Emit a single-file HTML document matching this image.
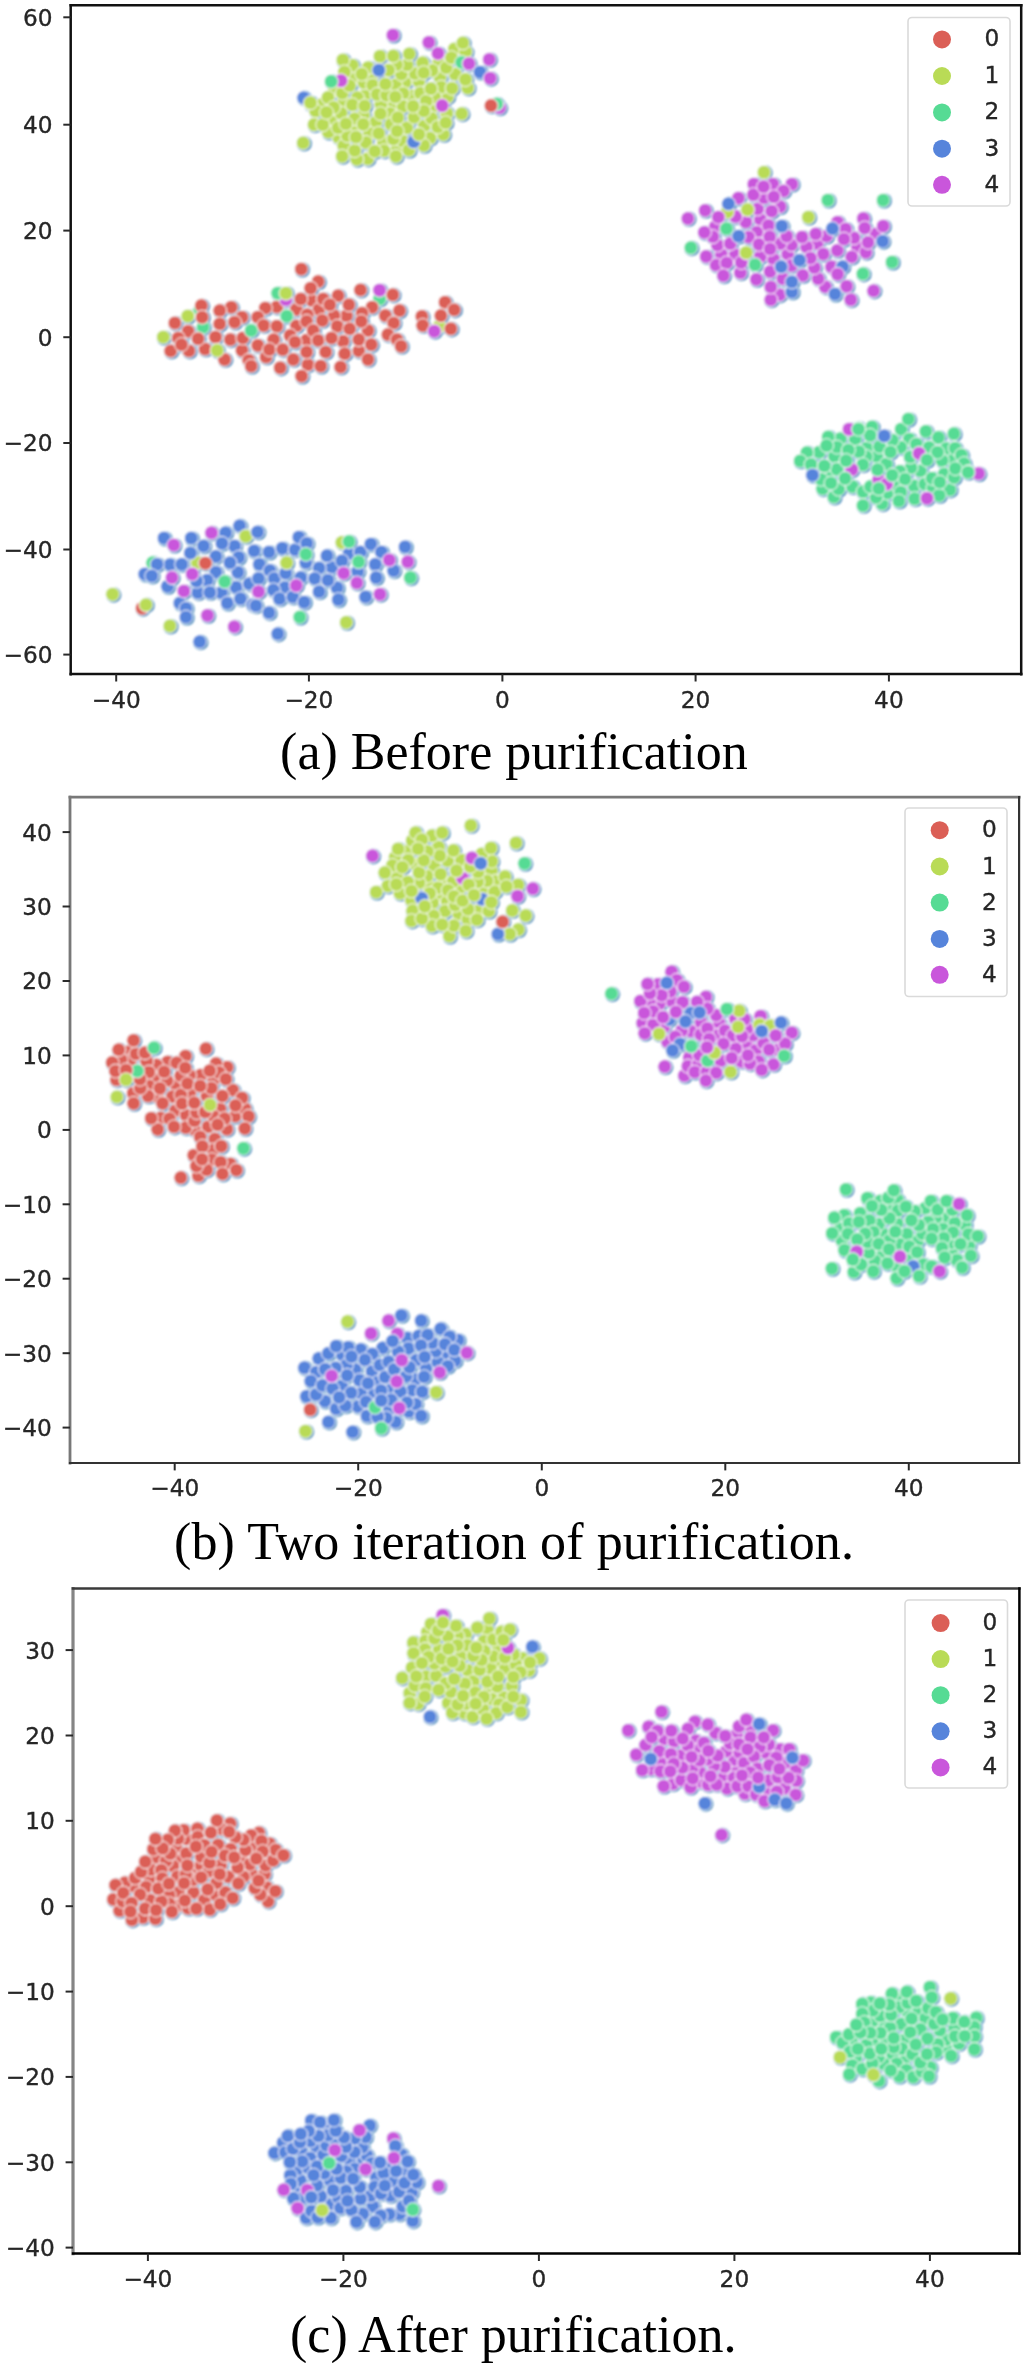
<!DOCTYPE html>
<html lang="en"><head><meta charset="utf-8"><title>t-SNE purification</title>
<style>
html,body{margin:0;padding:0;background:#fff}
svg{display:block}
.t{font-family:"DejaVu Sans","Liberation Sans",sans-serif;font-size:23px;fill:#262626;stroke:#262626;stroke-width:.35px}
.c{font-family:"Liberation Serif","Times New Roman",serif;font-size:52px;fill:#000}
.p circle{stroke:#fff;stroke-width:1;stroke-opacity:.95}
.s circle{fill:#1f77b4;stroke:#fff;stroke-width:0.5}
</style></head><body>
<svg width="1025" height="2363" viewBox="0 0 1025 2363">
<rect width="1025" height="2363" fill="#fff"/>
<defs><filter id="bl" x="-2%" y="-2%" width="104%" height="104%"><feGaussianBlur stdDeviation="0.8"/></filter><filter id="bt" x="-2%" y="-2%" width="104%" height="104%"><feGaussianBlur stdDeviation="0.6"/></filter></defs>
<g filter="url(#bl)">
<g class="s"><circle cx="407.9" cy="128.5" r="7.9"/><circle cx="448.5" cy="97.5" r="7.9"/><circle cx="354.4" cy="77.7" r="7.9"/><circle cx="406.2" cy="83.0" r="7.9"/><circle cx="322.8" cy="105.3" r="7.9"/><circle cx="368.8" cy="159.5" r="7.9"/><circle cx="419.9" cy="81.9" r="7.9"/><circle cx="376.8" cy="123.0" r="7.9"/><circle cx="439.6" cy="64.2" r="7.9"/><circle cx="441.0" cy="77.9" r="7.9"/><circle cx="394.1" cy="106.2" r="7.9"/><circle cx="332.0" cy="122.1" r="7.9"/><circle cx="353.4" cy="66.1" r="7.9"/><circle cx="444.4" cy="135.1" r="7.9"/><circle cx="425.2" cy="126.7" r="7.9"/><circle cx="396.4" cy="85.6" r="7.9"/><circle cx="304.2" cy="143.6" r="7.9"/><circle cx="339.6" cy="138.0" r="7.9"/><circle cx="391.0" cy="114.3" r="7.9"/><circle cx="434.2" cy="107.2" r="7.9"/><circle cx="384.3" cy="142.6" r="7.9"/><circle cx="442.3" cy="87.8" r="7.9"/><circle cx="344.8" cy="146.4" r="7.9"/><circle cx="311.5" cy="104.6" r="7.9"/><circle cx="335.0" cy="91.6" r="7.9"/><circle cx="415.9" cy="74.2" r="7.9"/><circle cx="398.2" cy="148.5" r="7.9"/><circle cx="344.7" cy="103.0" r="7.9"/><circle cx="367.2" cy="94.6" r="7.9"/><circle cx="412.9" cy="96.6" r="7.9"/><circle cx="343.3" cy="93.8" r="7.9"/><circle cx="329.0" cy="98.2" r="7.9"/><circle cx="404.2" cy="94.2" r="7.9"/><circle cx="421.4" cy="93.8" r="7.9"/><circle cx="432.6" cy="119.0" r="7.9"/><circle cx="370.3" cy="133.9" r="7.9"/><circle cx="381.9" cy="105.0" r="7.9"/><circle cx="357.8" cy="160.0" r="7.9"/><circle cx="365.0" cy="83.2" r="7.9"/><circle cx="431.1" cy="138.7" r="7.9"/><circle cx="329.4" cy="132.8" r="7.9"/><circle cx="381.5" cy="114.4" r="7.9"/><circle cx="402.4" cy="74.9" r="7.9"/><circle cx="404.1" cy="107.1" r="7.9"/><circle cx="455.4" cy="49.7" r="7.9"/><circle cx="408.1" cy="65.6" r="7.9"/><circle cx="438.8" cy="127.7" r="7.9"/><circle cx="435.8" cy="98.2" r="7.9"/><circle cx="343.9" cy="60.7" r="7.9"/><circle cx="447.8" cy="114.2" r="7.9"/><circle cx="397.4" cy="65.4" r="7.9"/><circle cx="468.8" cy="88.7" r="7.9"/><circle cx="355.3" cy="129.2" r="7.9"/><circle cx="456.2" cy="74.8" r="7.9"/><circle cx="372.4" cy="77.3" r="7.9"/><circle cx="364.4" cy="115.8" r="7.9"/><circle cx="381.0" cy="57.0" r="7.9"/><circle cx="453.1" cy="89.0" r="7.9"/><circle cx="358.4" cy="98.3" r="7.9"/><circle cx="373.7" cy="85.9" r="7.9"/><circle cx="424.9" cy="146.1" r="7.9"/><circle cx="410.3" cy="54.6" r="7.9"/><circle cx="353.4" cy="105.5" r="7.9"/><circle cx="447.2" cy="68.4" r="7.9"/><circle cx="348.4" cy="136.4" r="7.9"/><circle cx="466.7" cy="52.5" r="7.9"/><circle cx="379.7" cy="134.1" r="7.9"/><circle cx="378.1" cy="95.1" r="7.9"/><circle cx="366.9" cy="143.1" r="7.9"/><circle cx="316.7" cy="111.7" r="7.9"/><circle cx="394.3" cy="56.6" r="7.9"/><circle cx="369.2" cy="68.4" r="7.9"/><circle cx="392.0" cy="125.0" r="7.9"/><circle cx="355.6" cy="119.5" r="7.9"/><circle cx="364.3" cy="125.0" r="7.9"/><circle cx="398.8" cy="118.3" r="7.9"/><circle cx="446.7" cy="123.4" r="7.9"/><circle cx="466.5" cy="80.2" r="7.9"/><circle cx="403.6" cy="141.8" r="7.9"/><circle cx="433.1" cy="71.1" r="7.9"/><circle cx="342.1" cy="113.9" r="7.9"/><circle cx="355.7" cy="151.3" r="7.9"/><circle cx="343.2" cy="157.0" r="7.9"/><circle cx="394.4" cy="139.7" r="7.9"/><circle cx="315.1" cy="125.3" r="7.9"/><circle cx="339.1" cy="128.5" r="7.9"/><circle cx="415.1" cy="117.9" r="7.9"/><circle cx="463.9" cy="43.6" r="7.9"/><circle cx="427.2" cy="101.8" r="7.9"/><circle cx="323.8" cy="125.4" r="7.9"/><circle cx="362.8" cy="74.8" r="7.9"/><circle cx="345.5" cy="72.6" r="7.9"/><circle cx="334.6" cy="108.2" r="7.9"/><circle cx="385.1" cy="151.5" r="7.9"/><circle cx="409.9" cy="150.8" r="7.9"/><circle cx="431.9" cy="89.4" r="7.9"/><circle cx="398.1" cy="131.8" r="7.9"/><circle cx="423.6" cy="63.5" r="7.9"/><circle cx="462.7" cy="114.4" r="7.9"/><circle cx="350.5" cy="86.3" r="7.9"/><circle cx="357.1" cy="137.8" r="7.9"/><circle cx="452.5" cy="58.4" r="7.9"/><circle cx="387.6" cy="96.0" r="7.9"/><circle cx="424.7" cy="73.4" r="7.9"/><circle cx="424.9" cy="111.7" r="7.9"/><circle cx="365.7" cy="106.6" r="7.9"/><circle cx="389.6" cy="71.0" r="7.9"/><circle cx="414.1" cy="106.9" r="7.9"/><circle cx="346.9" cy="124.6" r="7.9"/><circle cx="396.3" cy="97.6" r="7.9"/><circle cx="386.4" cy="84.8" r="7.9"/><circle cx="327.5" cy="113.1" r="7.9"/><circle cx="396.9" cy="157.0" r="7.9"/><circle cx="375.8" cy="152.0" r="7.9"/><circle cx="342.0" cy="81.4" r="7.9"/><circle cx="332.2" cy="82.2" r="7.9"/><circle cx="393.9" cy="35.8" r="7.9"/><circle cx="429.8" cy="43.1" r="7.9"/><circle cx="439.0" cy="54.1" r="7.9"/><circle cx="462.7" cy="63.1" r="7.9"/><circle cx="470.0" cy="64.4" r="7.9"/><circle cx="490.3" cy="60.2" r="7.9"/><circle cx="481.0" cy="72.9" r="7.9"/><circle cx="491.2" cy="79.0" r="7.9"/><circle cx="443.2" cy="106.3" r="7.9"/><circle cx="379.8" cy="70.9" r="7.9"/><circle cx="304.7" cy="98.5" r="7.9"/><circle cx="311.5" cy="103.4" r="7.9"/><circle cx="414.7" cy="142.4" r="7.9"/><circle cx="420.0" cy="135.1" r="7.9"/><circle cx="500.5" cy="108.3" r="7.9"/><circle cx="497.6" cy="104.6" r="7.9"/><circle cx="492.0" cy="106.3" r="7.9"/><circle cx="307.7" cy="340.7" r="7.9"/><circle cx="347.5" cy="316.5" r="7.9"/><circle cx="359.9" cy="351.6" r="7.9"/><circle cx="308.9" cy="365.4" r="7.9"/><circle cx="313.1" cy="301.3" r="7.9"/><circle cx="297.4" cy="326.6" r="7.9"/><circle cx="319.9" cy="310.2" r="7.9"/><circle cx="297.4" cy="310.1" r="7.9"/><circle cx="277.9" cy="307.6" r="7.9"/><circle cx="206.1" cy="349.7" r="7.9"/><circle cx="287.0" cy="300.5" r="7.9"/><circle cx="278.7" cy="293.9" r="7.9"/><circle cx="200.8" cy="310.5" r="7.9"/><circle cx="266.3" cy="308.8" r="7.9"/><circle cx="258.8" cy="317.9" r="7.9"/><circle cx="264.6" cy="326.2" r="7.9"/><circle cx="277.9" cy="327.0" r="7.9"/><circle cx="243.0" cy="317.9" r="7.9"/><circle cx="232.3" cy="308.0" r="7.9"/><circle cx="235.6" cy="322.9" r="7.9"/><circle cx="220.7" cy="311.3" r="7.9"/><circle cx="220.7" cy="324.6" r="7.9"/><circle cx="204.1" cy="327.9" r="7.9"/><circle cx="202.4" cy="306.3" r="7.9"/><circle cx="203.2" cy="317.9" r="7.9"/><circle cx="175.9" cy="323.7" r="7.9"/><circle cx="189.1" cy="332.0" r="7.9"/><circle cx="179.2" cy="338.7" r="7.9"/><circle cx="199.1" cy="339.5" r="7.9"/><circle cx="216.5" cy="337.8" r="7.9"/><circle cx="231.4" cy="340.3" r="7.9"/><circle cx="171.7" cy="351.6" r="7.9"/><circle cx="190.0" cy="351.6" r="7.9"/><circle cx="182.5" cy="345.3" r="7.9"/><circle cx="225.6" cy="360.2" r="7.9"/><circle cx="243.0" cy="351.1" r="7.9"/><circle cx="249.7" cy="361.0" r="7.9"/><circle cx="252.2" cy="366.8" r="7.9"/><circle cx="258.8" cy="346.1" r="7.9"/><circle cx="267.1" cy="357.7" r="7.9"/><circle cx="274.6" cy="340.3" r="7.9"/><circle cx="270.4" cy="350.3" r="7.9"/><circle cx="281.2" cy="368.5" r="7.9"/><circle cx="291.1" cy="336.2" r="7.9"/><circle cx="283.7" cy="350.3" r="7.9"/><circle cx="243.9" cy="338.7" r="7.9"/><circle cx="188.8" cy="316.8" r="7.9"/><circle cx="164.3" cy="337.8" r="7.9"/><circle cx="218.2" cy="351.1" r="7.9"/><circle cx="252.2" cy="331.2" r="7.9"/><circle cx="287.8" cy="316.8" r="7.9"/><circle cx="287.0" cy="293.9" r="7.9"/><circle cx="380.6" cy="299.7" r="7.9"/><circle cx="440.3" cy="327.0" r="7.9"/><circle cx="302.3" cy="269.8" r="7.9"/><circle cx="319.2" cy="282.3" r="7.9"/><circle cx="311.7" cy="288.9" r="7.9"/><circle cx="301.8" cy="299.7" r="7.9"/><circle cx="324.2" cy="299.7" r="7.9"/><circle cx="339.1" cy="296.4" r="7.9"/><circle cx="349.9" cy="305.5" r="7.9"/><circle cx="361.5" cy="290.6" r="7.9"/><circle cx="393.8" cy="295.5" r="7.9"/><circle cx="373.1" cy="308.0" r="7.9"/><circle cx="363.1" cy="313.8" r="7.9"/><circle cx="386.4" cy="316.3" r="7.9"/><circle cx="400.5" cy="311.3" r="7.9"/><circle cx="394.7" cy="323.7" r="7.9"/><circle cx="335.0" cy="316.3" r="7.9"/><circle cx="308.4" cy="315.4" r="7.9"/><circle cx="307.6" cy="322.1" r="7.9"/><circle cx="323.3" cy="321.2" r="7.9"/><circle cx="338.3" cy="327.0" r="7.9"/><circle cx="350.7" cy="329.5" r="7.9"/><circle cx="314.2" cy="331.2" r="7.9"/><circle cx="369.0" cy="331.2" r="7.9"/><circle cx="388.9" cy="335.3" r="7.9"/><circle cx="398.0" cy="340.3" r="7.9"/><circle cx="402.1" cy="346.9" r="7.9"/><circle cx="359.8" cy="340.3" r="7.9"/><circle cx="372.3" cy="345.3" r="7.9"/><circle cx="344.1" cy="342.0" r="7.9"/><circle cx="319.2" cy="341.1" r="7.9"/><circle cx="296.0" cy="342.8" r="7.9"/><circle cx="307.6" cy="352.7" r="7.9"/><circle cx="326.7" cy="352.7" r="7.9"/><circle cx="345.7" cy="354.4" r="7.9"/><circle cx="369.0" cy="360.2" r="7.9"/><circle cx="321.7" cy="366.8" r="7.9"/><circle cx="341.6" cy="367.7" r="7.9"/><circle cx="294.3" cy="360.2" r="7.9"/><circle cx="302.6" cy="376.8" r="7.9"/><circle cx="362.3" cy="322.1" r="7.9"/><circle cx="332.5" cy="338.7" r="7.9"/><circle cx="330.8" cy="305.5" r="7.9"/><circle cx="422.9" cy="317.1" r="7.9"/><circle cx="423.7" cy="326.2" r="7.9"/><circle cx="446.1" cy="303.0" r="7.9"/><circle cx="455.2" cy="310.5" r="7.9"/><circle cx="441.9" cy="316.3" r="7.9"/><circle cx="451.9" cy="329.5" r="7.9"/><circle cx="380.6" cy="290.9" r="7.9"/><circle cx="435.3" cy="332.0" r="7.9"/><circle cx="826.3" cy="287.5" r="7.9"/><circle cx="774.6" cy="260.0" r="7.9"/><circle cx="858.5" cy="247.7" r="7.9"/><circle cx="739.4" cy="198.8" r="7.9"/><circle cx="736.3" cy="255.5" r="7.9"/><circle cx="876.8" cy="234.7" r="7.9"/><circle cx="781.1" cy="207.3" r="7.9"/><circle cx="746.8" cy="222.8" r="7.9"/><circle cx="818.2" cy="244.2" r="7.9"/><circle cx="716.3" cy="227.4" r="7.9"/><circle cx="780.5" cy="295.5" r="7.9"/><circle cx="773.9" cy="184.9" r="7.9"/><circle cx="803.8" cy="276.1" r="7.9"/><circle cx="792.9" cy="184.9" r="7.9"/><circle cx="819.2" cy="279.4" r="7.9"/><circle cx="761.5" cy="220.3" r="7.9"/><circle cx="788.8" cy="254.8" r="7.9"/><circle cx="722.3" cy="255.0" r="7.9"/><circle cx="771.8" cy="300.4" r="7.9"/><circle cx="792.6" cy="245.5" r="7.9"/><circle cx="866.9" cy="253.0" r="7.9"/><circle cx="832.5" cy="267.5" r="7.9"/><circle cx="717.0" cy="265.7" r="7.9"/><circle cx="855.0" cy="238.6" r="7.9"/><circle cx="718.5" cy="245.8" r="7.9"/><circle cx="781.1" cy="244.4" r="7.9"/><circle cx="757.9" cy="232.9" r="7.9"/><circle cx="807.6" cy="247.6" r="7.9"/><circle cx="758.6" cy="209.6" r="7.9"/><circle cx="792.5" cy="266.2" r="7.9"/><circle cx="815.4" cy="268.3" r="7.9"/><circle cx="757.4" cy="280.1" r="7.9"/><circle cx="783.9" cy="279.4" r="7.9"/><circle cx="874.6" cy="291.5" r="7.9"/><circle cx="771.8" cy="287.7" r="7.9"/><circle cx="851.8" cy="300.4" r="7.9"/><circle cx="754.9" cy="184.9" r="7.9"/><circle cx="838.4" cy="251.1" r="7.9"/><circle cx="772.7" cy="211.9" r="7.9"/><circle cx="771.1" cy="272.4" r="7.9"/><circle cx="749.6" cy="237.8" r="7.9"/><circle cx="838.6" cy="223.0" r="7.9"/><circle cx="761.3" cy="257.3" r="7.9"/><circle cx="846.6" cy="229.7" r="7.9"/><circle cx="765.2" cy="198.5" r="7.9"/><circle cx="731.3" cy="244.3" r="7.9"/><circle cx="827.5" cy="236.8" r="7.9"/><circle cx="760.0" cy="245.1" r="7.9"/><circle cx="713.9" cy="237.4" r="7.9"/><circle cx="705.4" cy="233.1" r="7.9"/><circle cx="727.7" cy="263.6" r="7.9"/><circle cx="741.4" cy="273.4" r="7.9"/><circle cx="742.3" cy="263.2" r="7.9"/><circle cx="816.7" cy="234.7" r="7.9"/><circle cx="736.6" cy="217.3" r="7.9"/><circle cx="852.7" cy="257.6" r="7.9"/><circle cx="869.0" cy="243.1" r="7.9"/><circle cx="803.0" cy="237.8" r="7.9"/><circle cx="847.7" cy="287.0" r="7.9"/><circle cx="754.4" cy="195.4" r="7.9"/><circle cx="706.2" cy="211.1" r="7.9"/><circle cx="707.2" cy="257.2" r="7.9"/><circle cx="824.3" cy="254.8" r="7.9"/><circle cx="784.5" cy="191.7" r="7.9"/><circle cx="764.6" cy="187.4" r="7.9"/><circle cx="811.5" cy="258.8" r="7.9"/><circle cx="884.2" cy="226.8" r="7.9"/><circle cx="864.4" cy="219.2" r="7.9"/><circle cx="688.9" cy="219.2" r="7.9"/><circle cx="769.5" cy="226.2" r="7.9"/><circle cx="770.7" cy="237.4" r="7.9"/><circle cx="845.0" cy="239.8" r="7.9"/><circle cx="771.1" cy="249.7" r="7.9"/><circle cx="865.7" cy="228.7" r="7.9"/><circle cx="787.7" cy="237.0" r="7.9"/><circle cx="724.4" cy="276.3" r="7.9"/><circle cx="774.8" cy="197.5" r="7.9"/><circle cx="691.9" cy="248.4" r="7.9"/><circle cx="727.5" cy="229.3" r="7.9"/><circle cx="756.1" cy="265.4" r="7.9"/><circle cx="828.9" cy="200.9" r="7.9"/><circle cx="884.2" cy="200.9" r="7.9"/><circle cx="893.1" cy="262.8" r="7.9"/><circle cx="863.9" cy="274.5" r="7.9"/><circle cx="765.0" cy="173.0" r="7.9"/><circle cx="728.2" cy="212.8" r="7.9"/><circle cx="748.5" cy="210.3" r="7.9"/><circle cx="809.4" cy="217.9" r="7.9"/><circle cx="747.2" cy="253.4" r="7.9"/><circle cx="729.5" cy="204.5" r="7.9"/><circle cx="782.8" cy="226.8" r="7.9"/><circle cx="739.6" cy="236.9" r="7.9"/><circle cx="800.5" cy="261.0" r="7.9"/><circle cx="782.2" cy="267.4" r="7.9"/><circle cx="792.9" cy="292.7" r="7.9"/><circle cx="792.9" cy="282.6" r="7.9"/><circle cx="833.5" cy="229.3" r="7.9"/><circle cx="836.0" cy="294.8" r="7.9"/><circle cx="883.7" cy="242.0" r="7.9"/><circle cx="843.6" cy="267.4" r="7.9"/><circle cx="719.3" cy="217.9" r="7.9"/><circle cx="838.6" cy="275.0" r="7.9"/><circle cx="823.6" cy="489.3" r="7.9"/><circle cx="867.9" cy="448.8" r="7.9"/><circle cx="902.2" cy="429.9" r="7.9"/><circle cx="947.0" cy="449.2" r="7.9"/><circle cx="820.3" cy="452.9" r="7.9"/><circle cx="910.3" cy="439.9" r="7.9"/><circle cx="917.3" cy="444.9" r="7.9"/><circle cx="939.4" cy="438.2" r="7.9"/><circle cx="856.2" cy="439.7" r="7.9"/><circle cx="883.1" cy="504.4" r="7.9"/><circle cx="888.5" cy="493.7" r="7.9"/><circle cx="877.9" cy="457.1" r="7.9"/><circle cx="880.6" cy="447.3" r="7.9"/><circle cx="954.9" cy="434.4" r="7.9"/><circle cx="915.2" cy="486.7" r="7.9"/><circle cx="909.4" cy="419.8" r="7.9"/><circle cx="921.4" cy="471.6" r="7.9"/><circle cx="859.5" cy="428.7" r="7.9"/><circle cx="954.2" cy="460.7" r="7.9"/><circle cx="912.0" cy="468.4" r="7.9"/><circle cx="835.5" cy="457.0" r="7.9"/><circle cx="877.1" cy="498.1" r="7.9"/><circle cx="901.8" cy="448.0" r="7.9"/><circle cx="925.8" cy="484.7" r="7.9"/><circle cx="897.5" cy="485.5" r="7.9"/><circle cx="915.6" cy="499.4" r="7.9"/><circle cx="834.9" cy="497.6" r="7.9"/><circle cx="841.3" cy="439.5" r="7.9"/><circle cx="893.4" cy="440.9" r="7.9"/><circle cx="829.2" cy="437.7" r="7.9"/><circle cx="853.5" cy="487.3" r="7.9"/><circle cx="934.0" cy="488.8" r="7.9"/><circle cx="943.1" cy="461.2" r="7.9"/><circle cx="829.9" cy="474.1" r="7.9"/><circle cx="887.3" cy="464.8" r="7.9"/><circle cx="945.2" cy="474.7" r="7.9"/><circle cx="956.1" cy="449.0" r="7.9"/><circle cx="962.4" cy="455.8" r="7.9"/><circle cx="822.0" cy="479.9" r="7.9"/><circle cx="839.6" cy="489.8" r="7.9"/><circle cx="891.5" cy="452.7" r="7.9"/><circle cx="864.1" cy="492.4" r="7.9"/><circle cx="838.0" cy="447.8" r="7.9"/><circle cx="911.2" cy="457.6" r="7.9"/><circle cx="950.9" cy="490.5" r="7.9"/><circle cx="867.2" cy="457.3" r="7.9"/><circle cx="940.3" cy="496.1" r="7.9"/><circle cx="930.1" cy="448.2" r="7.9"/><circle cx="807.9" cy="453.4" r="7.9"/><circle cx="926.9" cy="432.1" r="7.9"/><circle cx="938.5" cy="453.0" r="7.9"/><circle cx="864.0" cy="506.2" r="7.9"/><circle cx="933.0" cy="479.0" r="7.9"/><circle cx="873.0" cy="427.6" r="7.9"/><circle cx="859.9" cy="452.4" r="7.9"/><circle cx="863.9" cy="465.4" r="7.9"/><circle cx="801.2" cy="461.7" r="7.9"/><circle cx="955.2" cy="478.2" r="7.9"/><circle cx="812.0" cy="465.2" r="7.9"/><circle cx="940.8" cy="482.9" r="7.9"/><circle cx="965.1" cy="464.3" r="7.9"/><circle cx="900.8" cy="472.1" r="7.9"/><circle cx="838.1" cy="469.9" r="7.9"/><circle cx="906.0" cy="479.8" r="7.9"/><circle cx="827.6" cy="446.3" r="7.9"/><circle cx="849.4" cy="450.7" r="7.9"/><circle cx="956.3" cy="469.2" r="7.9"/><circle cx="871.2" cy="436.1" r="7.9"/><circle cx="901.7" cy="492.9" r="7.9"/><circle cx="899.9" cy="501.7" r="7.9"/><circle cx="832.0" cy="483.8" r="7.9"/><circle cx="825.4" cy="466.6" r="7.9"/><circle cx="871.5" cy="487.3" r="7.9"/><circle cx="969.5" cy="472.5" r="7.9"/><circle cx="813.5" cy="475.9" r="7.9"/><circle cx="885.3" cy="436.6" r="7.9"/><circle cx="850.1" cy="429.9" r="7.9"/><circle cx="859.5" cy="429.9" r="7.9"/><circle cx="852.8" cy="470.3" r="7.9"/><circle cx="847.2" cy="461.3" r="7.9"/><circle cx="846.1" cy="479.2" r="7.9"/><circle cx="920.1" cy="454.1" r="7.9"/><circle cx="928.0" cy="460.8" r="7.9"/><circle cx="879.7" cy="480.4" r="7.9"/><circle cx="887.6" cy="484.8" r="7.9"/><circle cx="878.6" cy="470.3" r="7.9"/><circle cx="893.2" cy="475.9" r="7.9"/><circle cx="879.7" cy="489.3" r="7.9"/><circle cx="928.0" cy="499.0" r="7.9"/><circle cx="979.6" cy="474.3" r="7.9"/><circle cx="969.0" cy="473.0" r="7.9"/><circle cx="283.3" cy="549.0" r="7.9"/><circle cx="198.9" cy="593.4" r="7.9"/><circle cx="332.8" cy="567.9" r="7.9"/><circle cx="171.1" cy="565.4" r="7.9"/><circle cx="235.6" cy="546.8" r="7.9"/><circle cx="296.2" cy="550.4" r="7.9"/><circle cx="285.8" cy="588.3" r="7.9"/><circle cx="222.4" cy="593.5" r="7.9"/><circle cx="338.1" cy="588.4" r="7.9"/><circle cx="255.1" cy="551.6" r="7.9"/><circle cx="143.1" cy="609.0" r="7.9"/><circle cx="153.7" cy="563.4" r="7.9"/><circle cx="198.5" cy="563.4" r="7.9"/><circle cx="165.1" cy="538.8" r="7.9"/><circle cx="192.3" cy="538.8" r="7.9"/><circle cx="226.6" cy="533.5" r="7.9"/><circle cx="240.6" cy="526.5" r="7.9"/><circle cx="204.6" cy="546.7" r="7.9"/><circle cx="223.0" cy="544.1" r="7.9"/><circle cx="191.4" cy="553.7" r="7.9"/><circle cx="216.9" cy="557.2" r="7.9"/><circle cx="239.7" cy="558.1" r="7.9"/><circle cx="158.1" cy="565.1" r="7.9"/><circle cx="145.8" cy="574.8" r="7.9"/><circle cx="152.8" cy="576.6" r="7.9"/><circle cx="182.7" cy="565.1" r="7.9"/><circle cx="168.6" cy="587.1" r="7.9"/><circle cx="216.9" cy="573.0" r="7.9"/><circle cx="238.9" cy="573.0" r="7.9"/><circle cx="231.0" cy="563.4" r="7.9"/><circle cx="208.1" cy="580.9" r="7.9"/><circle cx="197.6" cy="581.8" r="7.9"/><circle cx="210.8" cy="593.2" r="7.9"/><circle cx="237.1" cy="588.0" r="7.9"/><circle cx="250.3" cy="584.5" r="7.9"/><circle cx="180.9" cy="603.8" r="7.9"/><circle cx="187.0" cy="609.0" r="7.9"/><circle cx="187.0" cy="617.8" r="7.9"/><circle cx="228.3" cy="603.8" r="7.9"/><circle cx="241.5" cy="599.4" r="7.9"/><circle cx="253.8" cy="605.5" r="7.9"/><circle cx="200.7" cy="642.4" r="7.9"/><circle cx="113.6" cy="595.0" r="7.9"/><circle cx="147.0" cy="605.5" r="7.9"/><circle cx="170.9" cy="626.6" r="7.9"/><circle cx="208.5" cy="616.1" r="7.9"/><circle cx="235.3" cy="627.5" r="7.9"/><circle cx="174.8" cy="545.8" r="7.9"/><circle cx="212.5" cy="533.5" r="7.9"/><circle cx="246.8" cy="537.0" r="7.9"/><circle cx="206.4" cy="563.9" r="7.9"/><circle cx="193.2" cy="574.8" r="7.9"/><circle cx="173.0" cy="578.3" r="7.9"/><circle cx="225.7" cy="582.3" r="7.9"/><circle cx="184.9" cy="591.8" r="7.9"/><circle cx="342.9" cy="543.2" r="7.9"/><circle cx="258.6" cy="532.7" r="7.9"/><circle cx="270.0" cy="552.8" r="7.9"/><circle cx="260.4" cy="565.1" r="7.9"/><circle cx="270.9" cy="571.3" r="7.9"/><circle cx="259.5" cy="579.2" r="7.9"/><circle cx="275.3" cy="579.2" r="7.9"/><circle cx="274.4" cy="590.6" r="7.9"/><circle cx="280.6" cy="599.4" r="7.9"/><circle cx="256.9" cy="606.4" r="7.9"/><circle cx="270.0" cy="613.4" r="7.9"/><circle cx="278.8" cy="634.5" r="7.9"/><circle cx="299.9" cy="537.9" r="7.9"/><circle cx="307.8" cy="544.1" r="7.9"/><circle cx="286.7" cy="573.9" r="7.9"/><circle cx="306.9" cy="563.4" r="7.9"/><circle cx="320.1" cy="568.7" r="7.9"/><circle cx="328.0" cy="556.4" r="7.9"/><circle cx="301.7" cy="578.3" r="7.9"/><circle cx="315.7" cy="579.2" r="7.9"/><circle cx="328.9" cy="580.9" r="7.9"/><circle cx="320.1" cy="592.4" r="7.9"/><circle cx="293.8" cy="597.6" r="7.9"/><circle cx="305.2" cy="602.9" r="7.9"/><circle cx="339.4" cy="600.3" r="7.9"/><circle cx="350.0" cy="554.6" r="7.9"/><circle cx="342.9" cy="561.6" r="7.9"/><circle cx="361.4" cy="552.8" r="7.9"/><circle cx="371.9" cy="544.9" r="7.9"/><circle cx="382.4" cy="552.8" r="7.9"/><circle cx="358.7" cy="572.2" r="7.9"/><circle cx="376.3" cy="565.1" r="7.9"/><circle cx="377.2" cy="578.3" r="7.9"/><circle cx="394.7" cy="571.3" r="7.9"/><circle cx="406.1" cy="547.6" r="7.9"/><circle cx="366.6" cy="597.6" r="7.9"/><circle cx="259.5" cy="592.4" r="7.9"/><circle cx="306.9" cy="555.0" r="7.9"/><circle cx="287.6" cy="563.4" r="7.9"/><circle cx="297.3" cy="586.2" r="7.9"/><circle cx="300.8" cy="617.8" r="7.9"/><circle cx="347.3" cy="623.1" r="7.9"/><circle cx="350.0" cy="542.3" r="7.9"/><circle cx="359.6" cy="562.5" r="7.9"/><circle cx="344.7" cy="573.9" r="7.9"/><circle cx="357.9" cy="583.6" r="7.9"/><circle cx="390.3" cy="560.7" r="7.9"/><circle cx="408.8" cy="562.5" r="7.9"/><circle cx="411.4" cy="578.3" r="7.9"/><circle cx="381.0" cy="595.0" r="7.9"/></g>
<g class="p"><circle cx="406.9" cy="127.8" r="7.0" fill="#b9db57"/><circle cx="447.5" cy="96.8" r="7.0" fill="#b9db57"/><circle cx="353.4" cy="77.0" r="7.0" fill="#b9db57"/><circle cx="405.2" cy="82.3" r="7.0" fill="#b9db57"/><circle cx="321.8" cy="104.6" r="7.0" fill="#b9db57"/><circle cx="367.8" cy="158.8" r="7.0" fill="#b9db57"/><circle cx="418.9" cy="81.2" r="7.0" fill="#b9db57"/><circle cx="375.8" cy="122.3" r="7.0" fill="#b9db57"/><circle cx="438.6" cy="63.5" r="7.0" fill="#b9db57"/><circle cx="440.0" cy="77.2" r="7.0" fill="#b9db57"/><circle cx="393.1" cy="105.5" r="7.0" fill="#b9db57"/><circle cx="331.0" cy="121.4" r="7.0" fill="#b9db57"/><circle cx="352.4" cy="65.4" r="7.0" fill="#b9db57"/><circle cx="443.4" cy="134.4" r="7.0" fill="#b9db57"/><circle cx="424.2" cy="126.0" r="7.0" fill="#b9db57"/><circle cx="395.4" cy="84.9" r="7.0" fill="#b9db57"/><circle cx="303.2" cy="142.9" r="7.0" fill="#b9db57"/><circle cx="338.6" cy="137.3" r="7.0" fill="#b9db57"/><circle cx="390.0" cy="113.6" r="7.0" fill="#b9db57"/><circle cx="433.2" cy="106.5" r="7.0" fill="#b9db57"/><circle cx="383.3" cy="141.9" r="7.0" fill="#b9db57"/><circle cx="441.3" cy="87.1" r="7.0" fill="#b9db57"/><circle cx="343.8" cy="145.7" r="7.0" fill="#b9db57"/><circle cx="310.5" cy="103.9" r="7.0" fill="#b9db57"/><circle cx="334.0" cy="90.9" r="7.0" fill="#b9db57"/><circle cx="414.9" cy="73.5" r="7.0" fill="#b9db57"/><circle cx="397.2" cy="147.8" r="7.0" fill="#b9db57"/><circle cx="343.7" cy="102.3" r="7.0" fill="#b9db57"/><circle cx="366.2" cy="93.9" r="7.0" fill="#b9db57"/><circle cx="411.9" cy="95.9" r="7.0" fill="#b9db57"/><circle cx="342.3" cy="93.1" r="7.0" fill="#b9db57"/><circle cx="328.0" cy="97.5" r="7.0" fill="#b9db57"/><circle cx="403.2" cy="93.5" r="7.0" fill="#b9db57"/><circle cx="420.4" cy="93.1" r="7.0" fill="#b9db57"/><circle cx="431.6" cy="118.3" r="7.0" fill="#b9db57"/><circle cx="369.3" cy="133.2" r="7.0" fill="#b9db57"/><circle cx="380.9" cy="104.3" r="7.0" fill="#b9db57"/><circle cx="356.8" cy="159.3" r="7.0" fill="#b9db57"/><circle cx="364.0" cy="82.5" r="7.0" fill="#b9db57"/><circle cx="430.1" cy="138.0" r="7.0" fill="#b9db57"/><circle cx="328.4" cy="132.1" r="7.0" fill="#b9db57"/><circle cx="380.5" cy="113.7" r="7.0" fill="#b9db57"/><circle cx="401.4" cy="74.2" r="7.0" fill="#b9db57"/><circle cx="403.1" cy="106.4" r="7.0" fill="#b9db57"/><circle cx="454.4" cy="49.0" r="7.0" fill="#b9db57"/><circle cx="407.1" cy="64.9" r="7.0" fill="#b9db57"/><circle cx="437.8" cy="127.0" r="7.0" fill="#b9db57"/><circle cx="434.8" cy="97.5" r="7.0" fill="#b9db57"/><circle cx="342.9" cy="60.0" r="7.0" fill="#b9db57"/><circle cx="446.8" cy="113.5" r="7.0" fill="#b9db57"/><circle cx="396.4" cy="64.7" r="7.0" fill="#b9db57"/><circle cx="467.8" cy="88.0" r="7.0" fill="#b9db57"/><circle cx="354.3" cy="128.5" r="7.0" fill="#b9db57"/><circle cx="455.2" cy="74.1" r="7.0" fill="#b9db57"/><circle cx="371.4" cy="76.6" r="7.0" fill="#b9db57"/><circle cx="363.4" cy="115.1" r="7.0" fill="#b9db57"/><circle cx="380.0" cy="56.3" r="7.0" fill="#b9db57"/><circle cx="452.1" cy="88.3" r="7.0" fill="#b9db57"/><circle cx="357.4" cy="97.6" r="7.0" fill="#b9db57"/><circle cx="372.7" cy="85.2" r="7.0" fill="#b9db57"/><circle cx="423.9" cy="145.4" r="7.0" fill="#b9db57"/><circle cx="409.3" cy="53.9" r="7.0" fill="#b9db57"/><circle cx="352.4" cy="104.8" r="7.0" fill="#b9db57"/><circle cx="446.2" cy="67.7" r="7.0" fill="#b9db57"/><circle cx="347.4" cy="135.7" r="7.0" fill="#b9db57"/><circle cx="465.7" cy="51.8" r="7.0" fill="#b9db57"/><circle cx="378.7" cy="133.4" r="7.0" fill="#b9db57"/><circle cx="377.1" cy="94.4" r="7.0" fill="#b9db57"/><circle cx="365.9" cy="142.4" r="7.0" fill="#b9db57"/><circle cx="315.7" cy="111.0" r="7.0" fill="#b9db57"/><circle cx="393.3" cy="55.9" r="7.0" fill="#b9db57"/><circle cx="368.2" cy="67.7" r="7.0" fill="#b9db57"/><circle cx="391.0" cy="124.3" r="7.0" fill="#b9db57"/><circle cx="354.6" cy="118.8" r="7.0" fill="#b9db57"/><circle cx="363.3" cy="124.3" r="7.0" fill="#b9db57"/><circle cx="397.8" cy="117.6" r="7.0" fill="#b9db57"/><circle cx="445.7" cy="122.7" r="7.0" fill="#b9db57"/><circle cx="465.5" cy="79.5" r="7.0" fill="#b9db57"/><circle cx="402.6" cy="141.1" r="7.0" fill="#b9db57"/><circle cx="432.1" cy="70.4" r="7.0" fill="#b9db57"/><circle cx="341.1" cy="113.2" r="7.0" fill="#b9db57"/><circle cx="354.7" cy="150.6" r="7.0" fill="#b9db57"/><circle cx="342.2" cy="156.3" r="7.0" fill="#b9db57"/><circle cx="393.4" cy="139.0" r="7.0" fill="#b9db57"/><circle cx="314.1" cy="124.6" r="7.0" fill="#b9db57"/><circle cx="338.1" cy="127.8" r="7.0" fill="#b9db57"/><circle cx="414.1" cy="117.2" r="7.0" fill="#b9db57"/><circle cx="462.9" cy="42.9" r="7.0" fill="#b9db57"/><circle cx="426.2" cy="101.1" r="7.0" fill="#b9db57"/><circle cx="322.8" cy="124.7" r="7.0" fill="#b9db57"/><circle cx="361.8" cy="74.1" r="7.0" fill="#b9db57"/><circle cx="344.5" cy="71.9" r="7.0" fill="#b9db57"/><circle cx="333.6" cy="107.5" r="7.0" fill="#b9db57"/><circle cx="384.1" cy="150.8" r="7.0" fill="#b9db57"/><circle cx="408.9" cy="150.1" r="7.0" fill="#b9db57"/><circle cx="430.9" cy="88.7" r="7.0" fill="#b9db57"/><circle cx="397.1" cy="131.1" r="7.0" fill="#b9db57"/><circle cx="422.6" cy="62.8" r="7.0" fill="#b9db57"/><circle cx="461.7" cy="113.7" r="7.0" fill="#b9db57"/><circle cx="349.5" cy="85.6" r="7.0" fill="#b9db57"/><circle cx="356.1" cy="137.1" r="7.0" fill="#b9db57"/><circle cx="451.5" cy="57.7" r="7.0" fill="#b9db57"/><circle cx="386.6" cy="95.3" r="7.0" fill="#b9db57"/><circle cx="423.7" cy="72.7" r="7.0" fill="#b9db57"/><circle cx="423.9" cy="111.0" r="7.0" fill="#b9db57"/><circle cx="364.7" cy="105.9" r="7.0" fill="#b9db57"/><circle cx="388.6" cy="70.3" r="7.0" fill="#b9db57"/><circle cx="413.1" cy="106.2" r="7.0" fill="#b9db57"/><circle cx="345.9" cy="123.9" r="7.0" fill="#b9db57"/><circle cx="395.3" cy="96.9" r="7.0" fill="#b9db57"/><circle cx="385.4" cy="84.1" r="7.0" fill="#b9db57"/><circle cx="326.5" cy="112.4" r="7.0" fill="#b9db57"/><circle cx="395.9" cy="156.3" r="7.0" fill="#b9db57"/><circle cx="374.8" cy="151.3" r="7.0" fill="#b9db57"/><circle cx="341.0" cy="80.7" r="7.0" fill="#c957db"/><circle cx="331.2" cy="81.5" r="7.0" fill="#57db94"/><circle cx="392.9" cy="35.1" r="7.0" fill="#c957db"/><circle cx="428.8" cy="42.4" r="7.0" fill="#c957db"/><circle cx="438.0" cy="53.4" r="7.0" fill="#c957db"/><circle cx="461.7" cy="62.4" r="7.0" fill="#57db94"/><circle cx="469.0" cy="63.7" r="7.0" fill="#c957db"/><circle cx="489.3" cy="59.5" r="7.0" fill="#c957db"/><circle cx="480.0" cy="72.2" r="7.0" fill="#5784db"/><circle cx="490.2" cy="78.3" r="7.0" fill="#c957db"/><circle cx="442.2" cy="105.6" r="7.0" fill="#c957db"/><circle cx="378.8" cy="70.2" r="7.0" fill="#5784db"/><circle cx="303.7" cy="97.8" r="7.0" fill="#5784db"/><circle cx="310.5" cy="102.7" r="7.0" fill="#b9db57"/><circle cx="413.7" cy="141.7" r="7.0" fill="#5784db"/><circle cx="419.0" cy="134.4" r="7.0" fill="#b9db57"/><circle cx="499.5" cy="107.6" r="7.0" fill="#c957db"/><circle cx="496.6" cy="103.9" r="7.0" fill="#57db94"/><circle cx="491.0" cy="105.6" r="7.0" fill="#db5f57"/><circle cx="306.7" cy="340.0" r="7.0" fill="#db5f57"/><circle cx="346.5" cy="315.8" r="7.0" fill="#db5f57"/><circle cx="358.9" cy="350.9" r="7.0" fill="#db5f57"/><circle cx="307.9" cy="364.7" r="7.0" fill="#db5f57"/><circle cx="312.1" cy="300.6" r="7.0" fill="#db5f57"/><circle cx="296.4" cy="325.9" r="7.0" fill="#db5f57"/><circle cx="318.9" cy="309.5" r="7.0" fill="#db5f57"/><circle cx="296.4" cy="309.4" r="7.0" fill="#db5f57"/><circle cx="276.9" cy="306.9" r="7.0" fill="#db5f57"/><circle cx="205.1" cy="349.0" r="7.0" fill="#db5f57"/><circle cx="286.0" cy="299.8" r="7.0" fill="#c957db"/><circle cx="277.7" cy="293.2" r="7.0" fill="#57db94"/><circle cx="199.8" cy="309.8" r="7.0" fill="#57db94"/><circle cx="265.3" cy="308.1" r="7.0" fill="#db5f57"/><circle cx="257.8" cy="317.2" r="7.0" fill="#db5f57"/><circle cx="263.6" cy="325.5" r="7.0" fill="#db5f57"/><circle cx="276.9" cy="326.3" r="7.0" fill="#db5f57"/><circle cx="242.0" cy="317.2" r="7.0" fill="#db5f57"/><circle cx="231.3" cy="307.3" r="7.0" fill="#db5f57"/><circle cx="234.6" cy="322.2" r="7.0" fill="#db5f57"/><circle cx="219.7" cy="310.6" r="7.0" fill="#db5f57"/><circle cx="219.7" cy="323.9" r="7.0" fill="#db5f57"/><circle cx="203.1" cy="327.2" r="7.0" fill="#57db94"/><circle cx="201.4" cy="305.6" r="7.0" fill="#db5f57"/><circle cx="202.2" cy="317.2" r="7.0" fill="#db5f57"/><circle cx="174.9" cy="323.0" r="7.0" fill="#db5f57"/><circle cx="188.1" cy="331.3" r="7.0" fill="#db5f57"/><circle cx="178.2" cy="338.0" r="7.0" fill="#db5f57"/><circle cx="198.1" cy="338.8" r="7.0" fill="#db5f57"/><circle cx="215.5" cy="337.1" r="7.0" fill="#db5f57"/><circle cx="230.4" cy="339.6" r="7.0" fill="#db5f57"/><circle cx="170.7" cy="350.9" r="7.0" fill="#db5f57"/><circle cx="189.0" cy="350.9" r="7.0" fill="#db5f57"/><circle cx="181.5" cy="344.6" r="7.0" fill="#db5f57"/><circle cx="224.6" cy="359.5" r="7.0" fill="#db5f57"/><circle cx="242.0" cy="350.4" r="7.0" fill="#db5f57"/><circle cx="248.7" cy="360.3" r="7.0" fill="#db5f57"/><circle cx="251.2" cy="366.1" r="7.0" fill="#db5f57"/><circle cx="257.8" cy="345.4" r="7.0" fill="#db5f57"/><circle cx="266.1" cy="357.0" r="7.0" fill="#db5f57"/><circle cx="273.6" cy="339.6" r="7.0" fill="#db5f57"/><circle cx="269.4" cy="349.6" r="7.0" fill="#db5f57"/><circle cx="280.2" cy="367.8" r="7.0" fill="#db5f57"/><circle cx="290.1" cy="335.5" r="7.0" fill="#db5f57"/><circle cx="282.7" cy="349.6" r="7.0" fill="#db5f57"/><circle cx="242.9" cy="338.0" r="7.0" fill="#db5f57"/><circle cx="187.8" cy="316.1" r="7.0" fill="#b9db57"/><circle cx="163.3" cy="337.1" r="7.0" fill="#b9db57"/><circle cx="217.2" cy="350.4" r="7.0" fill="#b9db57"/><circle cx="251.2" cy="330.5" r="7.0" fill="#57db94"/><circle cx="286.8" cy="316.1" r="7.0" fill="#57db94"/><circle cx="286.0" cy="293.2" r="7.0" fill="#b9db57"/><circle cx="379.6" cy="299.0" r="7.0" fill="#57db94"/><circle cx="439.3" cy="326.3" r="7.0" fill="#b9db57"/><circle cx="301.3" cy="269.1" r="7.0" fill="#db5f57"/><circle cx="318.2" cy="281.6" r="7.0" fill="#db5f57"/><circle cx="310.7" cy="288.2" r="7.0" fill="#db5f57"/><circle cx="300.8" cy="299.0" r="7.0" fill="#db5f57"/><circle cx="323.2" cy="299.0" r="7.0" fill="#db5f57"/><circle cx="338.1" cy="295.7" r="7.0" fill="#db5f57"/><circle cx="348.9" cy="304.8" r="7.0" fill="#db5f57"/><circle cx="360.5" cy="289.9" r="7.0" fill="#db5f57"/><circle cx="392.8" cy="294.8" r="7.0" fill="#db5f57"/><circle cx="372.1" cy="307.3" r="7.0" fill="#db5f57"/><circle cx="362.1" cy="313.1" r="7.0" fill="#db5f57"/><circle cx="385.4" cy="315.6" r="7.0" fill="#db5f57"/><circle cx="399.5" cy="310.6" r="7.0" fill="#db5f57"/><circle cx="393.7" cy="323.0" r="7.0" fill="#db5f57"/><circle cx="334.0" cy="315.6" r="7.0" fill="#db5f57"/><circle cx="307.4" cy="314.7" r="7.0" fill="#db5f57"/><circle cx="306.6" cy="321.4" r="7.0" fill="#db5f57"/><circle cx="322.3" cy="320.5" r="7.0" fill="#db5f57"/><circle cx="337.3" cy="326.3" r="7.0" fill="#db5f57"/><circle cx="349.7" cy="328.8" r="7.0" fill="#db5f57"/><circle cx="313.2" cy="330.5" r="7.0" fill="#db5f57"/><circle cx="368.0" cy="330.5" r="7.0" fill="#db5f57"/><circle cx="387.9" cy="334.6" r="7.0" fill="#db5f57"/><circle cx="397.0" cy="339.6" r="7.0" fill="#db5f57"/><circle cx="401.1" cy="346.2" r="7.0" fill="#db5f57"/><circle cx="358.8" cy="339.6" r="7.0" fill="#db5f57"/><circle cx="371.3" cy="344.6" r="7.0" fill="#db5f57"/><circle cx="343.1" cy="341.3" r="7.0" fill="#db5f57"/><circle cx="318.2" cy="340.4" r="7.0" fill="#db5f57"/><circle cx="295.0" cy="342.1" r="7.0" fill="#db5f57"/><circle cx="306.6" cy="352.0" r="7.0" fill="#db5f57"/><circle cx="325.7" cy="352.0" r="7.0" fill="#db5f57"/><circle cx="344.7" cy="353.7" r="7.0" fill="#db5f57"/><circle cx="368.0" cy="359.5" r="7.0" fill="#db5f57"/><circle cx="320.7" cy="366.1" r="7.0" fill="#db5f57"/><circle cx="340.6" cy="367.0" r="7.0" fill="#db5f57"/><circle cx="293.3" cy="359.5" r="7.0" fill="#db5f57"/><circle cx="301.6" cy="376.1" r="7.0" fill="#db5f57"/><circle cx="361.3" cy="321.4" r="7.0" fill="#db5f57"/><circle cx="331.5" cy="338.0" r="7.0" fill="#db5f57"/><circle cx="329.8" cy="304.8" r="7.0" fill="#db5f57"/><circle cx="421.9" cy="316.4" r="7.0" fill="#db5f57"/><circle cx="422.7" cy="325.5" r="7.0" fill="#db5f57"/><circle cx="445.1" cy="302.3" r="7.0" fill="#db5f57"/><circle cx="454.2" cy="309.8" r="7.0" fill="#db5f57"/><circle cx="440.9" cy="315.6" r="7.0" fill="#db5f57"/><circle cx="450.9" cy="328.8" r="7.0" fill="#db5f57"/><circle cx="379.6" cy="290.2" r="7.0" fill="#c957db"/><circle cx="434.3" cy="331.3" r="7.0" fill="#c957db"/><circle cx="825.3" cy="286.8" r="7.0" fill="#c957db"/><circle cx="773.6" cy="259.3" r="7.0" fill="#c957db"/><circle cx="857.5" cy="247.0" r="7.0" fill="#c957db"/><circle cx="738.4" cy="198.1" r="7.0" fill="#c957db"/><circle cx="735.3" cy="254.8" r="7.0" fill="#c957db"/><circle cx="875.8" cy="234.0" r="7.0" fill="#c957db"/><circle cx="780.1" cy="206.6" r="7.0" fill="#c957db"/><circle cx="745.8" cy="222.1" r="7.0" fill="#c957db"/><circle cx="817.2" cy="243.5" r="7.0" fill="#c957db"/><circle cx="715.3" cy="226.7" r="7.0" fill="#c957db"/><circle cx="779.5" cy="294.8" r="7.0" fill="#c957db"/><circle cx="772.9" cy="184.2" r="7.0" fill="#c957db"/><circle cx="802.8" cy="275.4" r="7.0" fill="#c957db"/><circle cx="791.9" cy="184.2" r="7.0" fill="#c957db"/><circle cx="818.2" cy="278.7" r="7.0" fill="#c957db"/><circle cx="760.5" cy="219.6" r="7.0" fill="#c957db"/><circle cx="787.8" cy="254.1" r="7.0" fill="#c957db"/><circle cx="721.3" cy="254.3" r="7.0" fill="#c957db"/><circle cx="770.8" cy="299.7" r="7.0" fill="#c957db"/><circle cx="791.6" cy="244.8" r="7.0" fill="#c957db"/><circle cx="865.9" cy="252.3" r="7.0" fill="#c957db"/><circle cx="831.5" cy="266.8" r="7.0" fill="#c957db"/><circle cx="716.0" cy="265.0" r="7.0" fill="#c957db"/><circle cx="854.0" cy="237.9" r="7.0" fill="#c957db"/><circle cx="717.5" cy="245.1" r="7.0" fill="#c957db"/><circle cx="780.1" cy="243.7" r="7.0" fill="#c957db"/><circle cx="756.9" cy="232.2" r="7.0" fill="#c957db"/><circle cx="806.6" cy="246.9" r="7.0" fill="#c957db"/><circle cx="757.6" cy="208.9" r="7.0" fill="#c957db"/><circle cx="791.5" cy="265.5" r="7.0" fill="#c957db"/><circle cx="814.4" cy="267.6" r="7.0" fill="#c957db"/><circle cx="756.4" cy="279.4" r="7.0" fill="#c957db"/><circle cx="782.9" cy="278.7" r="7.0" fill="#c957db"/><circle cx="873.6" cy="290.8" r="7.0" fill="#c957db"/><circle cx="770.8" cy="287.0" r="7.0" fill="#c957db"/><circle cx="850.8" cy="299.7" r="7.0" fill="#c957db"/><circle cx="753.9" cy="184.2" r="7.0" fill="#c957db"/><circle cx="837.4" cy="250.4" r="7.0" fill="#c957db"/><circle cx="771.7" cy="211.2" r="7.0" fill="#c957db"/><circle cx="770.1" cy="271.7" r="7.0" fill="#c957db"/><circle cx="748.6" cy="237.1" r="7.0" fill="#c957db"/><circle cx="837.6" cy="222.3" r="7.0" fill="#c957db"/><circle cx="760.3" cy="256.6" r="7.0" fill="#c957db"/><circle cx="845.6" cy="229.0" r="7.0" fill="#c957db"/><circle cx="764.2" cy="197.8" r="7.0" fill="#c957db"/><circle cx="730.3" cy="243.6" r="7.0" fill="#c957db"/><circle cx="826.5" cy="236.1" r="7.0" fill="#c957db"/><circle cx="759.0" cy="244.4" r="7.0" fill="#c957db"/><circle cx="712.9" cy="236.7" r="7.0" fill="#c957db"/><circle cx="704.4" cy="232.4" r="7.0" fill="#c957db"/><circle cx="726.7" cy="262.9" r="7.0" fill="#c957db"/><circle cx="740.4" cy="272.7" r="7.0" fill="#c957db"/><circle cx="741.3" cy="262.5" r="7.0" fill="#c957db"/><circle cx="815.7" cy="234.0" r="7.0" fill="#c957db"/><circle cx="735.6" cy="216.6" r="7.0" fill="#c957db"/><circle cx="851.7" cy="256.9" r="7.0" fill="#c957db"/><circle cx="868.0" cy="242.4" r="7.0" fill="#c957db"/><circle cx="802.0" cy="237.1" r="7.0" fill="#c957db"/><circle cx="846.7" cy="286.3" r="7.0" fill="#c957db"/><circle cx="753.4" cy="194.7" r="7.0" fill="#c957db"/><circle cx="705.2" cy="210.4" r="7.0" fill="#c957db"/><circle cx="706.2" cy="256.5" r="7.0" fill="#c957db"/><circle cx="823.3" cy="254.1" r="7.0" fill="#c957db"/><circle cx="783.5" cy="191.0" r="7.0" fill="#c957db"/><circle cx="763.6" cy="186.7" r="7.0" fill="#c957db"/><circle cx="810.5" cy="258.1" r="7.0" fill="#c957db"/><circle cx="883.2" cy="226.1" r="7.0" fill="#c957db"/><circle cx="863.4" cy="218.5" r="7.0" fill="#c957db"/><circle cx="687.9" cy="218.5" r="7.0" fill="#c957db"/><circle cx="768.5" cy="225.5" r="7.0" fill="#c957db"/><circle cx="769.7" cy="236.7" r="7.0" fill="#c957db"/><circle cx="844.0" cy="239.1" r="7.0" fill="#c957db"/><circle cx="770.1" cy="249.0" r="7.0" fill="#c957db"/><circle cx="864.7" cy="228.0" r="7.0" fill="#c957db"/><circle cx="786.7" cy="236.3" r="7.0" fill="#c957db"/><circle cx="723.4" cy="275.6" r="7.0" fill="#c957db"/><circle cx="773.8" cy="196.8" r="7.0" fill="#c957db"/><circle cx="690.9" cy="247.7" r="7.0" fill="#57db94"/><circle cx="726.5" cy="228.6" r="7.0" fill="#57db94"/><circle cx="755.1" cy="264.7" r="7.0" fill="#57db94"/><circle cx="827.9" cy="200.2" r="7.0" fill="#57db94"/><circle cx="883.2" cy="200.2" r="7.0" fill="#57db94"/><circle cx="892.1" cy="262.1" r="7.0" fill="#57db94"/><circle cx="862.9" cy="273.8" r="7.0" fill="#57db94"/><circle cx="764.0" cy="172.3" r="7.0" fill="#b9db57"/><circle cx="727.2" cy="212.1" r="7.0" fill="#b9db57"/><circle cx="747.5" cy="209.6" r="7.0" fill="#b9db57"/><circle cx="808.4" cy="217.2" r="7.0" fill="#b9db57"/><circle cx="746.2" cy="252.7" r="7.0" fill="#b9db57"/><circle cx="728.5" cy="203.8" r="7.0" fill="#5784db"/><circle cx="781.8" cy="226.1" r="7.0" fill="#5784db"/><circle cx="738.6" cy="236.2" r="7.0" fill="#5784db"/><circle cx="799.5" cy="260.3" r="7.0" fill="#5784db"/><circle cx="781.2" cy="266.7" r="7.0" fill="#5784db"/><circle cx="791.9" cy="292.0" r="7.0" fill="#5784db"/><circle cx="791.9" cy="281.9" r="7.0" fill="#5784db"/><circle cx="832.5" cy="228.6" r="7.0" fill="#5784db"/><circle cx="835.0" cy="294.1" r="7.0" fill="#5784db"/><circle cx="882.7" cy="241.3" r="7.0" fill="#5784db"/><circle cx="842.6" cy="266.7" r="7.0" fill="#5784db"/><circle cx="718.3" cy="217.2" r="7.0" fill="#c957db"/><circle cx="837.6" cy="274.3" r="7.0" fill="#c957db"/><circle cx="822.6" cy="488.6" r="7.0" fill="#57db94"/><circle cx="866.9" cy="448.1" r="7.0" fill="#57db94"/><circle cx="901.2" cy="429.2" r="7.0" fill="#57db94"/><circle cx="946.0" cy="448.5" r="7.0" fill="#57db94"/><circle cx="819.3" cy="452.2" r="7.0" fill="#57db94"/><circle cx="909.3" cy="439.2" r="7.0" fill="#57db94"/><circle cx="916.3" cy="444.2" r="7.0" fill="#57db94"/><circle cx="938.4" cy="437.5" r="7.0" fill="#57db94"/><circle cx="855.2" cy="439.0" r="7.0" fill="#57db94"/><circle cx="882.1" cy="503.7" r="7.0" fill="#57db94"/><circle cx="887.5" cy="493.0" r="7.0" fill="#57db94"/><circle cx="876.9" cy="456.4" r="7.0" fill="#57db94"/><circle cx="879.6" cy="446.6" r="7.0" fill="#57db94"/><circle cx="953.9" cy="433.7" r="7.0" fill="#57db94"/><circle cx="914.2" cy="486.0" r="7.0" fill="#57db94"/><circle cx="908.4" cy="419.1" r="7.0" fill="#57db94"/><circle cx="920.4" cy="470.9" r="7.0" fill="#57db94"/><circle cx="858.5" cy="428.0" r="7.0" fill="#57db94"/><circle cx="953.2" cy="460.0" r="7.0" fill="#57db94"/><circle cx="911.0" cy="467.7" r="7.0" fill="#57db94"/><circle cx="834.5" cy="456.3" r="7.0" fill="#57db94"/><circle cx="876.1" cy="497.4" r="7.0" fill="#57db94"/><circle cx="900.8" cy="447.3" r="7.0" fill="#57db94"/><circle cx="924.8" cy="484.0" r="7.0" fill="#57db94"/><circle cx="896.5" cy="484.8" r="7.0" fill="#57db94"/><circle cx="914.6" cy="498.7" r="7.0" fill="#57db94"/><circle cx="833.9" cy="496.9" r="7.0" fill="#57db94"/><circle cx="840.3" cy="438.8" r="7.0" fill="#57db94"/><circle cx="892.4" cy="440.2" r="7.0" fill="#57db94"/><circle cx="828.2" cy="437.0" r="7.0" fill="#57db94"/><circle cx="852.5" cy="486.6" r="7.0" fill="#57db94"/><circle cx="933.0" cy="488.1" r="7.0" fill="#57db94"/><circle cx="942.1" cy="460.5" r="7.0" fill="#57db94"/><circle cx="828.9" cy="473.4" r="7.0" fill="#57db94"/><circle cx="886.3" cy="464.1" r="7.0" fill="#57db94"/><circle cx="944.2" cy="474.0" r="7.0" fill="#57db94"/><circle cx="955.1" cy="448.3" r="7.0" fill="#57db94"/><circle cx="961.4" cy="455.1" r="7.0" fill="#57db94"/><circle cx="821.0" cy="479.2" r="7.0" fill="#57db94"/><circle cx="838.6" cy="489.1" r="7.0" fill="#57db94"/><circle cx="890.5" cy="452.0" r="7.0" fill="#57db94"/><circle cx="863.1" cy="491.7" r="7.0" fill="#57db94"/><circle cx="837.0" cy="447.1" r="7.0" fill="#57db94"/><circle cx="910.2" cy="456.9" r="7.0" fill="#57db94"/><circle cx="949.9" cy="489.8" r="7.0" fill="#57db94"/><circle cx="866.2" cy="456.6" r="7.0" fill="#57db94"/><circle cx="939.3" cy="495.4" r="7.0" fill="#57db94"/><circle cx="929.1" cy="447.5" r="7.0" fill="#57db94"/><circle cx="806.9" cy="452.7" r="7.0" fill="#57db94"/><circle cx="925.9" cy="431.4" r="7.0" fill="#57db94"/><circle cx="937.5" cy="452.3" r="7.0" fill="#57db94"/><circle cx="863.0" cy="505.5" r="7.0" fill="#57db94"/><circle cx="932.0" cy="478.3" r="7.0" fill="#57db94"/><circle cx="872.0" cy="426.9" r="7.0" fill="#57db94"/><circle cx="858.9" cy="451.7" r="7.0" fill="#57db94"/><circle cx="862.9" cy="464.7" r="7.0" fill="#57db94"/><circle cx="800.2" cy="461.0" r="7.0" fill="#57db94"/><circle cx="954.2" cy="477.5" r="7.0" fill="#57db94"/><circle cx="811.0" cy="464.5" r="7.0" fill="#57db94"/><circle cx="939.8" cy="482.2" r="7.0" fill="#57db94"/><circle cx="964.1" cy="463.6" r="7.0" fill="#57db94"/><circle cx="899.8" cy="471.4" r="7.0" fill="#57db94"/><circle cx="837.1" cy="469.2" r="7.0" fill="#57db94"/><circle cx="905.0" cy="479.1" r="7.0" fill="#57db94"/><circle cx="826.6" cy="445.6" r="7.0" fill="#57db94"/><circle cx="848.4" cy="450.0" r="7.0" fill="#57db94"/><circle cx="955.3" cy="468.5" r="7.0" fill="#57db94"/><circle cx="870.2" cy="435.4" r="7.0" fill="#57db94"/><circle cx="900.7" cy="492.2" r="7.0" fill="#57db94"/><circle cx="898.9" cy="501.0" r="7.0" fill="#57db94"/><circle cx="831.0" cy="483.1" r="7.0" fill="#57db94"/><circle cx="824.4" cy="465.9" r="7.0" fill="#57db94"/><circle cx="870.5" cy="486.6" r="7.0" fill="#57db94"/><circle cx="968.5" cy="471.8" r="7.0" fill="#57db94"/><circle cx="812.5" cy="475.2" r="7.0" fill="#5784db"/><circle cx="884.3" cy="435.9" r="7.0" fill="#5784db"/><circle cx="849.1" cy="429.2" r="7.0" fill="#c957db"/><circle cx="858.5" cy="429.2" r="7.0" fill="#57db94"/><circle cx="851.8" cy="469.6" r="7.0" fill="#c957db"/><circle cx="846.2" cy="460.6" r="7.0" fill="#57db94"/><circle cx="845.1" cy="478.5" r="7.0" fill="#57db94"/><circle cx="919.1" cy="453.4" r="7.0" fill="#c957db"/><circle cx="927.0" cy="460.1" r="7.0" fill="#57db94"/><circle cx="878.7" cy="479.7" r="7.0" fill="#c957db"/><circle cx="886.6" cy="484.1" r="7.0" fill="#c957db"/><circle cx="877.6" cy="469.6" r="7.0" fill="#57db94"/><circle cx="892.2" cy="475.2" r="7.0" fill="#57db94"/><circle cx="878.7" cy="488.6" r="7.0" fill="#57db94"/><circle cx="927.0" cy="498.3" r="7.0" fill="#c957db"/><circle cx="978.6" cy="473.6" r="7.0" fill="#c957db"/><circle cx="968.0" cy="472.3" r="7.0" fill="#57db94"/><circle cx="282.3" cy="548.3" r="7.0" fill="#5784db"/><circle cx="197.9" cy="592.7" r="7.0" fill="#5784db"/><circle cx="331.8" cy="567.2" r="7.0" fill="#5784db"/><circle cx="170.1" cy="564.7" r="7.0" fill="#5784db"/><circle cx="234.6" cy="546.1" r="7.0" fill="#5784db"/><circle cx="295.2" cy="549.7" r="7.0" fill="#5784db"/><circle cx="284.8" cy="587.6" r="7.0" fill="#5784db"/><circle cx="221.4" cy="592.8" r="7.0" fill="#5784db"/><circle cx="337.1" cy="587.7" r="7.0" fill="#5784db"/><circle cx="254.1" cy="550.9" r="7.0" fill="#5784db"/><circle cx="142.1" cy="608.3" r="7.0" fill="#db5f57"/><circle cx="152.7" cy="562.7" r="7.0" fill="#57db94"/><circle cx="197.5" cy="562.7" r="7.0" fill="#b9db57"/><circle cx="164.1" cy="538.1" r="7.0" fill="#5784db"/><circle cx="191.3" cy="538.1" r="7.0" fill="#5784db"/><circle cx="225.6" cy="532.8" r="7.0" fill="#5784db"/><circle cx="239.6" cy="525.8" r="7.0" fill="#5784db"/><circle cx="203.6" cy="546.0" r="7.0" fill="#5784db"/><circle cx="222.0" cy="543.4" r="7.0" fill="#5784db"/><circle cx="190.4" cy="553.0" r="7.0" fill="#5784db"/><circle cx="215.9" cy="556.5" r="7.0" fill="#5784db"/><circle cx="238.7" cy="557.4" r="7.0" fill="#5784db"/><circle cx="157.1" cy="564.4" r="7.0" fill="#5784db"/><circle cx="144.8" cy="574.1" r="7.0" fill="#5784db"/><circle cx="151.8" cy="575.9" r="7.0" fill="#5784db"/><circle cx="181.7" cy="564.4" r="7.0" fill="#5784db"/><circle cx="167.6" cy="586.4" r="7.0" fill="#5784db"/><circle cx="215.9" cy="572.3" r="7.0" fill="#5784db"/><circle cx="237.9" cy="572.3" r="7.0" fill="#5784db"/><circle cx="230.0" cy="562.7" r="7.0" fill="#5784db"/><circle cx="207.1" cy="580.2" r="7.0" fill="#5784db"/><circle cx="196.6" cy="581.1" r="7.0" fill="#5784db"/><circle cx="209.8" cy="592.5" r="7.0" fill="#5784db"/><circle cx="236.1" cy="587.3" r="7.0" fill="#5784db"/><circle cx="249.3" cy="583.8" r="7.0" fill="#5784db"/><circle cx="179.9" cy="603.1" r="7.0" fill="#5784db"/><circle cx="186.0" cy="608.3" r="7.0" fill="#5784db"/><circle cx="186.0" cy="617.1" r="7.0" fill="#5784db"/><circle cx="227.3" cy="603.1" r="7.0" fill="#5784db"/><circle cx="240.5" cy="598.7" r="7.0" fill="#5784db"/><circle cx="252.8" cy="604.8" r="7.0" fill="#5784db"/><circle cx="199.7" cy="641.7" r="7.0" fill="#5784db"/><circle cx="112.6" cy="594.3" r="7.0" fill="#b9db57"/><circle cx="146.0" cy="604.8" r="7.0" fill="#b9db57"/><circle cx="169.9" cy="625.9" r="7.0" fill="#b9db57"/><circle cx="207.5" cy="615.4" r="7.0" fill="#c957db"/><circle cx="234.3" cy="626.8" r="7.0" fill="#c957db"/><circle cx="173.8" cy="545.1" r="7.0" fill="#c957db"/><circle cx="211.5" cy="532.8" r="7.0" fill="#c957db"/><circle cx="245.8" cy="536.3" r="7.0" fill="#b9db57"/><circle cx="205.4" cy="563.2" r="7.0" fill="#db5f57"/><circle cx="192.2" cy="574.1" r="7.0" fill="#c957db"/><circle cx="172.0" cy="577.6" r="7.0" fill="#c957db"/><circle cx="224.7" cy="581.6" r="7.0" fill="#57db94"/><circle cx="183.9" cy="591.1" r="7.0" fill="#c957db"/><circle cx="341.9" cy="542.5" r="7.0" fill="#b9db57"/><circle cx="257.6" cy="532.0" r="7.0" fill="#5784db"/><circle cx="269.0" cy="552.1" r="7.0" fill="#5784db"/><circle cx="259.4" cy="564.4" r="7.0" fill="#5784db"/><circle cx="269.9" cy="570.6" r="7.0" fill="#5784db"/><circle cx="258.5" cy="578.5" r="7.0" fill="#5784db"/><circle cx="274.3" cy="578.5" r="7.0" fill="#5784db"/><circle cx="273.4" cy="589.9" r="7.0" fill="#5784db"/><circle cx="279.6" cy="598.7" r="7.0" fill="#5784db"/><circle cx="255.9" cy="605.7" r="7.0" fill="#5784db"/><circle cx="269.0" cy="612.7" r="7.0" fill="#5784db"/><circle cx="277.8" cy="633.8" r="7.0" fill="#5784db"/><circle cx="298.9" cy="537.2" r="7.0" fill="#5784db"/><circle cx="306.8" cy="543.4" r="7.0" fill="#5784db"/><circle cx="285.7" cy="573.2" r="7.0" fill="#5784db"/><circle cx="305.9" cy="562.7" r="7.0" fill="#5784db"/><circle cx="319.1" cy="568.0" r="7.0" fill="#5784db"/><circle cx="327.0" cy="555.7" r="7.0" fill="#5784db"/><circle cx="300.7" cy="577.6" r="7.0" fill="#5784db"/><circle cx="314.7" cy="578.5" r="7.0" fill="#5784db"/><circle cx="327.9" cy="580.2" r="7.0" fill="#5784db"/><circle cx="319.1" cy="591.7" r="7.0" fill="#5784db"/><circle cx="292.8" cy="596.9" r="7.0" fill="#5784db"/><circle cx="304.2" cy="602.2" r="7.0" fill="#5784db"/><circle cx="338.4" cy="599.6" r="7.0" fill="#5784db"/><circle cx="349.0" cy="553.9" r="7.0" fill="#5784db"/><circle cx="341.9" cy="560.9" r="7.0" fill="#5784db"/><circle cx="360.4" cy="552.1" r="7.0" fill="#5784db"/><circle cx="370.9" cy="544.2" r="7.0" fill="#5784db"/><circle cx="381.4" cy="552.1" r="7.0" fill="#5784db"/><circle cx="357.7" cy="571.5" r="7.0" fill="#5784db"/><circle cx="375.3" cy="564.4" r="7.0" fill="#5784db"/><circle cx="376.2" cy="577.6" r="7.0" fill="#5784db"/><circle cx="393.7" cy="570.6" r="7.0" fill="#5784db"/><circle cx="405.1" cy="546.9" r="7.0" fill="#5784db"/><circle cx="365.6" cy="596.9" r="7.0" fill="#5784db"/><circle cx="258.5" cy="591.7" r="7.0" fill="#c957db"/><circle cx="305.9" cy="554.3" r="7.0" fill="#57db94"/><circle cx="286.6" cy="562.7" r="7.0" fill="#b9db57"/><circle cx="296.3" cy="585.5" r="7.0" fill="#c957db"/><circle cx="299.8" cy="617.1" r="7.0" fill="#57db94"/><circle cx="346.3" cy="622.4" r="7.0" fill="#b9db57"/><circle cx="349.0" cy="541.6" r="7.0" fill="#57db94"/><circle cx="358.6" cy="561.8" r="7.0" fill="#57db94"/><circle cx="343.7" cy="573.2" r="7.0" fill="#c957db"/><circle cx="356.9" cy="582.9" r="7.0" fill="#c957db"/><circle cx="389.3" cy="560.0" r="7.0" fill="#c957db"/><circle cx="407.8" cy="561.8" r="7.0" fill="#c957db"/><circle cx="410.4" cy="577.6" r="7.0" fill="#57db94"/><circle cx="380.0" cy="594.3" r="7.0" fill="#c957db"/></g>
</g>
<line x1="70.7" y1="4.0" x2="70.7" y2="675.4" stroke="#111" stroke-width="2.5"/><line x1="69.5" y1="5.3" x2="1022.5" y2="5.3" stroke="#111" stroke-width="2.5"/><line x1="1021.2" y1="4.0" x2="1021.2" y2="675.4" stroke="#111" stroke-width="2.5"/><line x1="69.5" y1="674.1" x2="1022.5" y2="674.1" stroke="#111" stroke-width="2.5"/>
<g filter="url(#bt)"><line x1="63.3" y1="17.3" x2="70.7" y2="17.3" stroke="#2a2a2a" stroke-width="2"/><text class="t" transform="translate(52.5 25.7) scale(1.01 1)" text-anchor="end">60</text><line x1="63.3" y1="124.7" x2="70.7" y2="124.7" stroke="#2a2a2a" stroke-width="2"/><text class="t" transform="translate(52.5 133.1) scale(1.01 1)" text-anchor="end">40</text><line x1="63.3" y1="230.6" x2="70.7" y2="230.6" stroke="#2a2a2a" stroke-width="2"/><text class="t" transform="translate(52.5 239.0) scale(1.01 1)" text-anchor="end">20</text><line x1="63.3" y1="337.2" x2="70.7" y2="337.2" stroke="#2a2a2a" stroke-width="2"/><text class="t" transform="translate(52.5 345.6) scale(1.01 1)" text-anchor="end">0</text><line x1="63.3" y1="443.0" x2="70.7" y2="443.0" stroke="#2a2a2a" stroke-width="2"/><text class="t" transform="translate(52.5 451.4) scale(1.01 1)" text-anchor="end">−20</text><line x1="63.3" y1="549.5" x2="70.7" y2="549.5" stroke="#2a2a2a" stroke-width="2"/><text class="t" transform="translate(52.5 557.9) scale(1.01 1)" text-anchor="end">−40</text><line x1="63.3" y1="654.6" x2="70.7" y2="654.6" stroke="#2a2a2a" stroke-width="2"/><text class="t" transform="translate(52.5 663.0) scale(1.01 1)" text-anchor="end">−60</text><line x1="116.2" y1="674.1" x2="116.2" y2="681.5" stroke="#2a2a2a" stroke-width="2"/><text class="t" transform="translate(116.2 707.5) scale(1.01 1)" text-anchor="middle">−40</text><line x1="308.9" y1="674.1" x2="308.9" y2="681.5" stroke="#2a2a2a" stroke-width="2"/><text class="t" transform="translate(308.9 707.5) scale(1.01 1)" text-anchor="middle">−20</text><line x1="502.4" y1="674.1" x2="502.4" y2="681.5" stroke="#2a2a2a" stroke-width="2"/><text class="t" transform="translate(502.4 707.5) scale(1.01 1)" text-anchor="middle">0</text><line x1="695.6" y1="674.1" x2="695.6" y2="681.5" stroke="#2a2a2a" stroke-width="2"/><text class="t" transform="translate(695.6 707.5) scale(1.01 1)" text-anchor="middle">20</text><line x1="888.9" y1="674.1" x2="888.9" y2="681.5" stroke="#2a2a2a" stroke-width="2"/><text class="t" transform="translate(888.9 707.5) scale(1.01 1)" text-anchor="middle">40</text>
<rect x="908.0" y="17.5" width="102.0" height="188.5" rx="4" fill="#fff" fill-opacity="0.8" stroke="#dadada" stroke-width="1.6"/><circle cx="942.0" cy="39.4" r="9" fill="#db5f57"/><text class="t" transform="translate(992.0 46.4) scale(1.01 1)" text-anchor="middle">0</text><circle cx="942.0" cy="76.0" r="9" fill="#b9db57"/><text class="t" transform="translate(992.0 83.0) scale(1.01 1)" text-anchor="middle">1</text><circle cx="942.0" cy="112.4" r="9" fill="#57db94"/><text class="t" transform="translate(992.0 119.4) scale(1.01 1)" text-anchor="middle">2</text><circle cx="942.0" cy="148.7" r="9" fill="#5784db"/><text class="t" transform="translate(992.0 155.7) scale(1.01 1)" text-anchor="middle">3</text><circle cx="942.0" cy="184.8" r="9" fill="#c957db"/><text class="t" transform="translate(992.0 191.8) scale(1.01 1)" text-anchor="middle">4</text>
</g>
<text class="c" x="280.1" y="768.8" textLength="467.6" lengthAdjust="spacing">(a) Before purification</text>
<g filter="url(#bl)">
<g class="s"><circle cx="484.0" cy="891.2" r="7.9"/><circle cx="450.3" cy="936.8" r="7.9"/><circle cx="445.4" cy="882.7" r="7.9"/><circle cx="492.3" cy="871.6" r="7.9"/><circle cx="496.5" cy="882.0" r="7.9"/><circle cx="495.5" cy="892.5" r="7.9"/><circle cx="461.6" cy="888.0" r="7.9"/><circle cx="396.1" cy="858.1" r="7.9"/><circle cx="412.3" cy="900.7" r="7.9"/><circle cx="462.3" cy="860.9" r="7.9"/><circle cx="397.6" cy="876.4" r="7.9"/><circle cx="393.4" cy="866.2" r="7.9"/><circle cx="487.9" cy="881.6" r="7.9"/><circle cx="413.5" cy="911.4" r="7.9"/><circle cx="428.9" cy="885.7" r="7.9"/><circle cx="519.3" cy="930.3" r="7.9"/><circle cx="388.8" cy="886.6" r="7.9"/><circle cx="435.0" cy="866.3" r="7.9"/><circle cx="459.8" cy="914.8" r="7.9"/><circle cx="439.5" cy="847.8" r="7.9"/><circle cx="428.0" cy="876.8" r="7.9"/><circle cx="400.9" cy="893.9" r="7.9"/><circle cx="412.4" cy="921.5" r="7.9"/><circle cx="468.8" cy="920.2" r="7.9"/><circle cx="454.7" cy="926.4" r="7.9"/><circle cx="471.8" cy="826.2" r="7.9"/><circle cx="439.4" cy="897.4" r="7.9"/><circle cx="377.1" cy="892.8" r="7.9"/><circle cx="416.9" cy="865.3" r="7.9"/><circle cx="409.8" cy="851.2" r="7.9"/><circle cx="432.9" cy="836.4" r="7.9"/><circle cx="433.5" cy="903.6" r="7.9"/><circle cx="505.9" cy="877.3" r="7.9"/><circle cx="478.5" cy="882.6" r="7.9"/><circle cx="492.7" cy="862.0" r="7.9"/><circle cx="448.5" cy="861.4" r="7.9"/><circle cx="419.9" cy="883.4" r="7.9"/><circle cx="479.0" cy="872.7" r="7.9"/><circle cx="448.1" cy="902.4" r="7.9"/><circle cx="413.2" cy="841.3" r="7.9"/><circle cx="446.0" cy="911.8" r="7.9"/><circle cx="478.4" cy="911.8" r="7.9"/><circle cx="482.7" cy="854.7" r="7.9"/><circle cx="399.0" cy="849.7" r="7.9"/><circle cx="518.9" cy="885.6" r="7.9"/><circle cx="409.1" cy="860.9" r="7.9"/><circle cx="403.3" cy="867.9" r="7.9"/><circle cx="408.6" cy="882.8" r="7.9"/><circle cx="443.1" cy="833.4" r="7.9"/><circle cx="439.1" cy="888.5" r="7.9"/><circle cx="471.2" cy="867.2" r="7.9"/><circle cx="507.3" cy="887.2" r="7.9"/><circle cx="454.4" cy="851.2" r="7.9"/><circle cx="385.7" cy="873.3" r="7.9"/><circle cx="477.9" cy="920.4" r="7.9"/><circle cx="454.1" cy="882.2" r="7.9"/><circle cx="434.5" cy="916.5" r="7.9"/><circle cx="416.5" cy="833.4" r="7.9"/><circle cx="440.7" cy="856.5" r="7.9"/><circle cx="432.9" cy="926.6" r="7.9"/><circle cx="489.7" cy="911.8" r="7.9"/><circle cx="526.7" cy="916.3" r="7.9"/><circle cx="449.0" cy="891.0" r="7.9"/><circle cx="422.7" cy="840.4" r="7.9"/><circle cx="510.7" cy="934.8" r="7.9"/><circle cx="441.5" cy="875.0" r="7.9"/><circle cx="466.7" cy="931.7" r="7.9"/><circle cx="397.3" cy="885.1" r="7.9"/><circle cx="443.1" cy="925.3" r="7.9"/><circle cx="456.1" cy="905.8" r="7.9"/><circle cx="428.3" cy="852.2" r="7.9"/><circle cx="491.9" cy="848.7" r="7.9"/><circle cx="420.0" cy="873.3" r="7.9"/><circle cx="516.9" cy="843.6" r="7.9"/><circle cx="422.8" cy="919.3" r="7.9"/><circle cx="513.2" cy="911.2" r="7.9"/><circle cx="430.7" cy="894.1" r="7.9"/><circle cx="468.9" cy="910.0" r="7.9"/><circle cx="424.7" cy="861.1" r="7.9"/><circle cx="454.9" cy="897.1" r="7.9"/><circle cx="418.9" cy="849.5" r="7.9"/><circle cx="463.5" cy="901.4" r="7.9"/><circle cx="525.5" cy="864.1" r="7.9"/><circle cx="373.4" cy="856.5" r="7.9"/><circle cx="533.7" cy="889.3" r="7.9"/><circle cx="518.5" cy="896.9" r="7.9"/><circle cx="498.8" cy="934.8" r="7.9"/><circle cx="503.5" cy="922.5" r="7.9"/><circle cx="472.8" cy="858.6" r="7.9"/><circle cx="481.6" cy="864.1" r="7.9"/><circle cx="463.6" cy="879.0" r="7.9"/><circle cx="457.4" cy="871.3" r="7.9"/><circle cx="469.7" cy="885.6" r="7.9"/><circle cx="422.6" cy="898.9" r="7.9"/><circle cx="425.7" cy="907.1" r="7.9"/><circle cx="412.4" cy="891.7" r="7.9"/><circle cx="483.0" cy="899.9" r="7.9"/><circle cx="474.9" cy="895.8" r="7.9"/><circle cx="492.3" cy="903.0" r="7.9"/><circle cx="236.1" cy="1116.8" r="7.9"/><circle cx="190.8" cy="1094.0" r="7.9"/><circle cx="161.5" cy="1118.6" r="7.9"/><circle cx="157.0" cy="1077.7" r="7.9"/><circle cx="128.6" cy="1052.6" r="7.9"/><circle cx="214.7" cy="1080.4" r="7.9"/><circle cx="215.7" cy="1139.6" r="7.9"/><circle cx="199.3" cy="1176.4" r="7.9"/><circle cx="207.8" cy="1096.4" r="7.9"/><circle cx="209.0" cy="1127.5" r="7.9"/><circle cx="195.5" cy="1130.3" r="7.9"/><circle cx="214.0" cy="1150.7" r="7.9"/><circle cx="245.9" cy="1109.3" r="7.9"/><circle cx="206.8" cy="1049.4" r="7.9"/><circle cx="228.1" cy="1068.0" r="7.9"/><circle cx="134.2" cy="1093.9" r="7.9"/><circle cx="131.1" cy="1061.4" r="7.9"/><circle cx="233.7" cy="1090.8" r="7.9"/><circle cx="221.0" cy="1109.6" r="7.9"/><circle cx="136.9" cy="1054.6" r="7.9"/><circle cx="214.8" cy="1117.2" r="7.9"/><circle cx="212.8" cy="1160.4" r="7.9"/><circle cx="176.4" cy="1111.3" r="7.9"/><circle cx="176.9" cy="1085.7" r="7.9"/><circle cx="223.3" cy="1096.7" r="7.9"/><circle cx="201.8" cy="1075.8" r="7.9"/><circle cx="158.6" cy="1130.1" r="7.9"/><circle cx="216.9" cy="1064.3" r="7.9"/><circle cx="227.8" cy="1129.9" r="7.9"/><circle cx="187.2" cy="1115.9" r="7.9"/><circle cx="194.7" cy="1156.0" r="7.9"/><circle cx="134.5" cy="1104.1" r="7.9"/><circle cx="122.0" cy="1060.4" r="7.9"/><circle cx="186.6" cy="1128.3" r="7.9"/><circle cx="195.4" cy="1121.5" r="7.9"/><circle cx="190.4" cy="1076.0" r="7.9"/><circle cx="197.5" cy="1113.2" r="7.9"/><circle cx="181.7" cy="1178.3" r="7.9"/><circle cx="231.2" cy="1164.7" r="7.9"/><circle cx="170.4" cy="1119.4" r="7.9"/><circle cx="221.5" cy="1162.9" r="7.9"/><circle cx="201.1" cy="1137.6" r="7.9"/><circle cx="220.0" cy="1073.2" r="7.9"/><circle cx="168.5" cy="1062.7" r="7.9"/><circle cx="158.2" cy="1097.1" r="7.9"/><circle cx="249.4" cy="1117.1" r="7.9"/><circle cx="149.4" cy="1086.3" r="7.9"/><circle cx="242.9" cy="1098.6" r="7.9"/><circle cx="173.3" cy="1097.3" r="7.9"/><circle cx="117.4" cy="1080.4" r="7.9"/><circle cx="226.8" cy="1079.8" r="7.9"/><circle cx="212.3" cy="1088.8" r="7.9"/><circle cx="157.3" cy="1065.7" r="7.9"/><circle cx="147.6" cy="1062.1" r="7.9"/><circle cx="225.5" cy="1119.3" r="7.9"/><circle cx="181.8" cy="1095.5" r="7.9"/><circle cx="174.9" cy="1127.5" r="7.9"/><circle cx="186.4" cy="1056.8" r="7.9"/><circle cx="182.9" cy="1104.3" r="7.9"/><circle cx="119.6" cy="1050.4" r="7.9"/><circle cx="195.2" cy="1103.5" r="7.9"/><circle cx="210.6" cy="1071.4" r="7.9"/><circle cx="149.0" cy="1096.7" r="7.9"/><circle cx="113.1" cy="1063.3" r="7.9"/><circle cx="167.9" cy="1081.3" r="7.9"/><circle cx="177.6" cy="1063.5" r="7.9"/><circle cx="207.6" cy="1170.5" r="7.9"/><circle cx="197.4" cy="1166.8" r="7.9"/><circle cx="218.5" cy="1125.4" r="7.9"/><circle cx="149.8" cy="1072.9" r="7.9"/><circle cx="160.8" cy="1089.0" r="7.9"/><circle cx="223.4" cy="1174.6" r="7.9"/><circle cx="245.7" cy="1129.1" r="7.9"/><circle cx="237.3" cy="1170.8" r="7.9"/><circle cx="116.4" cy="1071.8" r="7.9"/><circle cx="203.3" cy="1147.1" r="7.9"/><circle cx="206.1" cy="1112.7" r="7.9"/><circle cx="202.9" cy="1160.0" r="7.9"/><circle cx="152.1" cy="1118.9" r="7.9"/><circle cx="163.5" cy="1104.1" r="7.9"/><circle cx="181.7" cy="1076.4" r="7.9"/><circle cx="145.9" cy="1053.4" r="7.9"/><circle cx="188.4" cy="1084.3" r="7.9"/><circle cx="141.3" cy="1088.9" r="7.9"/><circle cx="222.2" cy="1146.9" r="7.9"/><circle cx="134.5" cy="1041.1" r="7.9"/><circle cx="140.9" cy="1079.9" r="7.9"/><circle cx="165.1" cy="1072.5" r="7.9"/><circle cx="186.1" cy="1068.6" r="7.9"/><circle cx="201.1" cy="1086.7" r="7.9"/><circle cx="236.4" cy="1106.2" r="7.9"/><circle cx="154.9" cy="1048.5" r="7.9"/><circle cx="244.4" cy="1149.0" r="7.9"/><circle cx="117.8" cy="1097.6" r="7.9"/><circle cx="138.2" cy="1071.7" r="7.9"/><circle cx="127.0" cy="1070.7" r="7.9"/><circle cx="127.0" cy="1080.4" r="7.9"/><circle cx="211.0" cy="1105.6" r="7.9"/><circle cx="748.6" cy="1046.8" r="7.9"/><circle cx="664.7" cy="1027.6" r="7.9"/><circle cx="643.6" cy="1023.6" r="7.9"/><circle cx="671.9" cy="1001.3" r="7.9"/><circle cx="756.6" cy="1051.1" r="7.9"/><circle cx="691.7" cy="1031.8" r="7.9"/><circle cx="654.2" cy="1025.4" r="7.9"/><circle cx="764.3" cy="1043.6" r="7.9"/><circle cx="720.3" cy="1024.4" r="7.9"/><circle cx="682.5" cy="1031.4" r="7.9"/><circle cx="672.5" cy="972.4" r="7.9"/><circle cx="677.8" cy="980.9" r="7.9"/><circle cx="685.3" cy="1076.3" r="7.9"/><circle cx="721.6" cy="1061.4" r="7.9"/><circle cx="717.9" cy="1036.1" r="7.9"/><circle cx="702.0" cy="1023.1" r="7.9"/><circle cx="759.4" cy="1062.2" r="7.9"/><circle cx="659.1" cy="985.0" r="7.9"/><circle cx="754.0" cy="1035.9" r="7.9"/><circle cx="774.4" cy="1065.2" r="7.9"/><circle cx="779.1" cy="1050.5" r="7.9"/><circle cx="701.7" cy="1035.2" r="7.9"/><circle cx="742.5" cy="1062.2" r="7.9"/><circle cx="717.2" cy="1015.9" r="7.9"/><circle cx="660.1" cy="1004.6" r="7.9"/><circle cx="706.8" cy="997.6" r="7.9"/><circle cx="725.9" cy="1031.4" r="7.9"/><circle cx="690.2" cy="1058.3" r="7.9"/><circle cx="736.6" cy="1049.2" r="7.9"/><circle cx="770.0" cy="1050.4" r="7.9"/><circle cx="683.5" cy="1003.0" r="7.9"/><circle cx="751.0" cy="1064.3" r="7.9"/><circle cx="736.5" cy="1019.4" r="7.9"/><circle cx="671.3" cy="992.1" r="7.9"/><circle cx="684.9" cy="987.5" r="7.9"/><circle cx="748.8" cy="1056.0" r="7.9"/><circle cx="688.8" cy="1066.9" r="7.9"/><circle cx="733.8" cy="1036.2" r="7.9"/><circle cx="645.6" cy="1034.0" r="7.9"/><circle cx="792.7" cy="1033.4" r="7.9"/><circle cx="699.5" cy="1064.7" r="7.9"/><circle cx="650.2" cy="1002.6" r="7.9"/><circle cx="654.0" cy="1012.1" r="7.9"/><circle cx="668.5" cy="1042.4" r="7.9"/><circle cx="708.2" cy="1009.3" r="7.9"/><circle cx="695.7" cy="1072.8" r="7.9"/><circle cx="641.3" cy="1001.8" r="7.9"/><circle cx="761.5" cy="1016.9" r="7.9"/><circle cx="662.6" cy="996.0" r="7.9"/><circle cx="747.9" cy="1029.2" r="7.9"/><circle cx="743.0" cy="1037.0" r="7.9"/><circle cx="650.9" cy="994.0" r="7.9"/><circle cx="698.0" cy="1002.6" r="7.9"/><circle cx="676.2" cy="1037.5" r="7.9"/><circle cx="700.3" cy="1055.8" r="7.9"/><circle cx="708.2" cy="1029.1" r="7.9"/><circle cx="710.1" cy="1039.7" r="7.9"/><circle cx="762.6" cy="1070.5" r="7.9"/><circle cx="786.1" cy="1044.4" r="7.9"/><circle cx="745.3" cy="1020.0" r="7.9"/><circle cx="707.8" cy="1072.6" r="7.9"/><circle cx="648.4" cy="984.7" r="7.9"/><circle cx="724.4" cy="1044.5" r="7.9"/><circle cx="717.1" cy="1073.5" r="7.9"/><circle cx="706.8" cy="1081.3" r="7.9"/><circle cx="665.6" cy="1067.3" r="7.9"/><circle cx="645.1" cy="1013.7" r="7.9"/><circle cx="612.4" cy="994.3" r="7.9"/><circle cx="667.7" cy="983.6" r="7.9"/><circle cx="691.8" cy="1013.7" r="7.9"/><circle cx="700.4" cy="1013.2" r="7.9"/><circle cx="670.3" cy="1020.1" r="7.9"/><circle cx="663.9" cy="1017.9" r="7.9"/><circle cx="676.8" cy="1012.6" r="7.9"/><circle cx="686.4" cy="1022.2" r="7.9"/><circle cx="660.0" cy="1034.7" r="7.9"/><circle cx="681.0" cy="1044.8" r="7.9"/><circle cx="673.5" cy="1051.2" r="7.9"/><circle cx="692.2" cy="1046.9" r="7.9"/><circle cx="708.5" cy="1061.3" r="7.9"/><circle cx="715.4" cy="1053.4" r="7.9"/><circle cx="707.9" cy="1048.0" r="7.9"/><circle cx="739.0" cy="1027.6" r="7.9"/><circle cx="740.1" cy="1011.5" r="7.9"/><circle cx="727.8" cy="1009.8" r="7.9"/><circle cx="731.5" cy="1072.7" r="7.9"/><circle cx="732.6" cy="1058.7" r="7.9"/><circle cx="760.5" cy="1025.5" r="7.9"/><circle cx="771.2" cy="1026.5" r="7.9"/><circle cx="762.6" cy="1031.9" r="7.9"/><circle cx="781.9" cy="1023.3" r="7.9"/><circle cx="776.6" cy="1036.2" r="7.9"/><circle cx="785.1" cy="1056.6" r="7.9"/><circle cx="890.8" cy="1208.0" r="7.9"/><circle cx="969.9" cy="1246.2" r="7.9"/><circle cx="883.0" cy="1256.3" r="7.9"/><circle cx="926.3" cy="1208.8" r="7.9"/><circle cx="898.1" cy="1267.6" r="7.9"/><circle cx="883.1" cy="1233.9" r="7.9"/><circle cx="952.9" cy="1253.2" r="7.9"/><circle cx="832.8" cy="1269.1" r="7.9"/><circle cx="875.7" cy="1261.4" r="7.9"/><circle cx="897.6" cy="1278.9" r="7.9"/><circle cx="879.4" cy="1224.9" r="7.9"/><circle cx="874.2" cy="1272.0" r="7.9"/><circle cx="861.1" cy="1214.0" r="7.9"/><circle cx="870.3" cy="1221.2" r="7.9"/><circle cx="897.9" cy="1224.1" r="7.9"/><circle cx="869.9" cy="1253.4" r="7.9"/><circle cx="910.4" cy="1256.9" r="7.9"/><circle cx="898.4" cy="1200.5" r="7.9"/><circle cx="840.7" cy="1229.5" r="7.9"/><circle cx="952.3" cy="1243.3" r="7.9"/><circle cx="918.3" cy="1241.7" r="7.9"/><circle cx="945.9" cy="1219.3" r="7.9"/><circle cx="957.9" cy="1260.8" r="7.9"/><circle cx="936.8" cy="1218.9" r="7.9"/><circle cx="965.9" cy="1225.5" r="7.9"/><circle cx="955.7" cy="1223.6" r="7.9"/><circle cx="943.9" cy="1229.7" r="7.9"/><circle cx="868.3" cy="1198.9" r="7.9"/><circle cx="929.1" cy="1222.7" r="7.9"/><circle cx="953.4" cy="1210.6" r="7.9"/><circle cx="920.0" cy="1276.9" r="7.9"/><circle cx="907.8" cy="1234.7" r="7.9"/><circle cx="842.8" cy="1240.9" r="7.9"/><circle cx="874.5" cy="1232.8" r="7.9"/><circle cx="846.9" cy="1190.1" r="7.9"/><circle cx="969.4" cy="1235.0" r="7.9"/><circle cx="900.3" cy="1245.0" r="7.9"/><circle cx="953.9" cy="1233.1" r="7.9"/><circle cx="890.2" cy="1241.4" r="7.9"/><circle cx="888.4" cy="1264.1" r="7.9"/><circle cx="845.1" cy="1216.0" r="7.9"/><circle cx="898.8" cy="1211.3" r="7.9"/><circle cx="931.8" cy="1201.8" r="7.9"/><circle cx="845.5" cy="1250.8" r="7.9"/><circle cx="915.6" cy="1211.9" r="7.9"/><circle cx="854.7" cy="1272.6" r="7.9"/><circle cx="923.5" cy="1234.4" r="7.9"/><circle cx="881.3" cy="1201.7" r="7.9"/><circle cx="850.0" cy="1224.1" r="7.9"/><circle cx="868.6" cy="1242.7" r="7.9"/><circle cx="944.8" cy="1238.7" r="7.9"/><circle cx="924.1" cy="1265.2" r="7.9"/><circle cx="889.3" cy="1198.4" r="7.9"/><circle cx="859.8" cy="1222.6" r="7.9"/><circle cx="866.1" cy="1234.4" r="7.9"/><circle cx="879.6" cy="1244.6" r="7.9"/><circle cx="963.0" cy="1268.1" r="7.9"/><circle cx="910.2" cy="1247.3" r="7.9"/><circle cx="833.2" cy="1234.0" r="7.9"/><circle cx="853.7" cy="1260.3" r="7.9"/><circle cx="889.9" cy="1250.0" r="7.9"/><circle cx="906.7" cy="1207.5" r="7.9"/><circle cx="919.8" cy="1225.8" r="7.9"/><circle cx="894.7" cy="1191.1" r="7.9"/><circle cx="971.8" cy="1256.4" r="7.9"/><circle cx="890.4" cy="1218.9" r="7.9"/><circle cx="882.2" cy="1210.5" r="7.9"/><circle cx="912.3" cy="1221.0" r="7.9"/><circle cx="862.1" cy="1265.2" r="7.9"/><circle cx="978.6" cy="1236.9" r="7.9"/><circle cx="932.4" cy="1267.2" r="7.9"/><circle cx="934.0" cy="1229.7" r="7.9"/><circle cx="918.1" cy="1252.8" r="7.9"/><circle cx="932.5" cy="1239.3" r="7.9"/><circle cx="835.2" cy="1218.4" r="7.9"/><circle cx="848.8" cy="1234.6" r="7.9"/><circle cx="858.2" cy="1240.2" r="7.9"/><circle cx="872.9" cy="1206.7" r="7.9"/><circle cx="896.2" cy="1232.5" r="7.9"/><circle cx="938.6" cy="1210.4" r="7.9"/><circle cx="942.9" cy="1248.6" r="7.9"/><circle cx="945.6" cy="1258.1" r="7.9"/><circle cx="961.4" cy="1244.7" r="7.9"/><circle cx="947.4" cy="1201.8" r="7.9"/><circle cx="967.9" cy="1216.0" r="7.9"/><circle cx="960.0" cy="1204.7" r="7.9"/><circle cx="900.9" cy="1257.4" r="7.9"/><circle cx="940.5" cy="1272.0" r="7.9"/><circle cx="857.6" cy="1252.5" r="7.9"/><circle cx="853.7" cy="1260.3" r="7.9"/><circle cx="914.2" cy="1267.2" r="7.9"/><circle cx="920.0" cy="1276.9" r="7.9"/><circle cx="905.4" cy="1272.0" r="7.9"/><circle cx="416.4" cy="1380.2" r="7.9"/><circle cx="353.5" cy="1432.6" r="7.9"/><circle cx="305.4" cy="1368.4" r="7.9"/><circle cx="408.2" cy="1338.7" r="7.9"/><circle cx="409.4" cy="1349.1" r="7.9"/><circle cx="392.3" cy="1390.2" r="7.9"/><circle cx="427.0" cy="1368.8" r="7.9"/><circle cx="409.9" cy="1412.3" r="7.9"/><circle cx="396.5" cy="1422.7" r="7.9"/><circle cx="447.2" cy="1355.6" r="7.9"/><circle cx="383.6" cy="1348.6" r="7.9"/><circle cx="373.0" cy="1372.1" r="7.9"/><circle cx="361.6" cy="1350.3" r="7.9"/><circle cx="378.8" cy="1382.8" r="7.9"/><circle cx="373.2" cy="1354.8" r="7.9"/><circle cx="402.3" cy="1316.2" r="7.9"/><circle cx="317.2" cy="1373.0" r="7.9"/><circle cx="370.9" cy="1393.4" r="7.9"/><circle cx="307.4" cy="1397.1" r="7.9"/><circle cx="459.0" cy="1340.8" r="7.9"/><circle cx="343.4" cy="1355.5" r="7.9"/><circle cx="325.8" cy="1401.9" r="7.9"/><circle cx="413.3" cy="1391.0" r="7.9"/><circle cx="441.6" cy="1329.5" r="7.9"/><circle cx="356.2" cy="1370.3" r="7.9"/><circle cx="407.0" cy="1377.0" r="7.9"/><circle cx="365.8" cy="1360.5" r="7.9"/><circle cx="361.8" cy="1394.1" r="7.9"/><circle cx="358.9" cy="1407.2" r="7.9"/><circle cx="360.4" cy="1380.9" r="7.9"/><circle cx="416.6" cy="1404.8" r="7.9"/><circle cx="423.1" cy="1392.5" r="7.9"/><circle cx="317.0" cy="1395.3" r="7.9"/><circle cx="455.9" cy="1361.4" r="7.9"/><circle cx="342.7" cy="1386.8" r="7.9"/><circle cx="419.6" cy="1336.6" r="7.9"/><circle cx="422.1" cy="1416.6" r="7.9"/><circle cx="401.4" cy="1392.3" r="7.9"/><circle cx="438.7" cy="1362.8" r="7.9"/><circle cx="436.8" cy="1352.0" r="7.9"/><circle cx="450.6" cy="1337.5" r="7.9"/><circle cx="425.1" cy="1377.5" r="7.9"/><circle cx="417.3" cy="1360.8" r="7.9"/><circle cx="311.7" cy="1381.8" r="7.9"/><circle cx="367.0" cy="1402.5" r="7.9"/><circle cx="329.3" cy="1422.7" r="7.9"/><circle cx="410.5" cy="1368.0" r="7.9"/><circle cx="337.1" cy="1409.4" r="7.9"/><circle cx="352.0" cy="1393.5" r="7.9"/><circle cx="323.4" cy="1386.1" r="7.9"/><circle cx="380.8" cy="1365.7" r="7.9"/><circle cx="433.2" cy="1343.6" r="7.9"/><circle cx="349.1" cy="1348.1" r="7.9"/><circle cx="347.3" cy="1366.0" r="7.9"/><circle cx="352.4" cy="1357.3" r="7.9"/><circle cx="399.0" cy="1352.3" r="7.9"/><circle cx="348.1" cy="1376.1" r="7.9"/><circle cx="367.9" cy="1416.6" r="7.9"/><circle cx="336.5" cy="1368.6" r="7.9"/><circle cx="422.1" cy="1321.3" r="7.9"/><circle cx="390.3" cy="1409.9" r="7.9"/><circle cx="382.0" cy="1391.3" r="7.9"/><circle cx="319.7" cy="1359.2" r="7.9"/><circle cx="392.1" cy="1400.6" r="7.9"/><circle cx="389.6" cy="1362.5" r="7.9"/><circle cx="368.8" cy="1384.0" r="7.9"/><circle cx="326.1" cy="1370.0" r="7.9"/><circle cx="329.3" cy="1354.1" r="7.9"/><circle cx="448.7" cy="1366.9" r="7.9"/><circle cx="428.5" cy="1335.6" r="7.9"/><circle cx="346.4" cy="1406.3" r="7.9"/><circle cx="421.9" cy="1346.1" r="7.9"/><circle cx="333.5" cy="1389.3" r="7.9"/><circle cx="340.1" cy="1398.1" r="7.9"/><circle cx="387.2" cy="1418.7" r="7.9"/><circle cx="386.1" cy="1377.7" r="7.9"/><circle cx="337.1" cy="1346.9" r="7.9"/><circle cx="395.0" cy="1370.1" r="7.9"/><circle cx="378.5" cy="1417.5" r="7.9"/><circle cx="425.6" cy="1357.7" r="7.9"/><circle cx="445.9" cy="1345.0" r="7.9"/><circle cx="407.9" cy="1403.3" r="7.9"/><circle cx="455.2" cy="1350.5" r="7.9"/><circle cx="348.4" cy="1322.3" r="7.9"/><circle cx="371.9" cy="1334.2" r="7.9"/><circle cx="389.4" cy="1321.3" r="7.9"/><circle cx="437.1" cy="1393.0" r="7.9"/><circle cx="311.1" cy="1410.4" r="7.9"/><circle cx="306.4" cy="1431.9" r="7.9"/><circle cx="382.2" cy="1428.9" r="7.9"/><circle cx="332.6" cy="1376.6" r="7.9"/><circle cx="402.7" cy="1360.9" r="7.9"/><circle cx="397.6" cy="1382.2" r="7.9"/><circle cx="440.6" cy="1373.1" r="7.9"/><circle cx="467.8" cy="1353.5" r="7.9"/><circle cx="398.2" cy="1334.6" r="7.9"/><circle cx="393.5" cy="1341.8" r="7.9"/><circle cx="376.0" cy="1408.0" r="7.9"/><circle cx="382.2" cy="1401.2" r="7.9"/><circle cx="400.2" cy="1408.8" r="7.9"/></g>
<g class="p"><circle cx="483.1" cy="890.5" r="7.0" fill="#b9db57"/><circle cx="449.4" cy="936.1" r="7.0" fill="#b9db57"/><circle cx="444.5" cy="882.0" r="7.0" fill="#b9db57"/><circle cx="491.4" cy="870.9" r="7.0" fill="#b9db57"/><circle cx="495.6" cy="881.3" r="7.0" fill="#b9db57"/><circle cx="494.6" cy="891.8" r="7.0" fill="#b9db57"/><circle cx="460.7" cy="887.3" r="7.0" fill="#b9db57"/><circle cx="395.2" cy="857.4" r="7.0" fill="#b9db57"/><circle cx="411.4" cy="900.0" r="7.0" fill="#b9db57"/><circle cx="461.4" cy="860.2" r="7.0" fill="#b9db57"/><circle cx="396.7" cy="875.7" r="7.0" fill="#b9db57"/><circle cx="392.5" cy="865.5" r="7.0" fill="#b9db57"/><circle cx="487.0" cy="880.9" r="7.0" fill="#b9db57"/><circle cx="412.6" cy="910.7" r="7.0" fill="#b9db57"/><circle cx="428.0" cy="885.0" r="7.0" fill="#b9db57"/><circle cx="518.4" cy="929.6" r="7.0" fill="#b9db57"/><circle cx="387.9" cy="885.9" r="7.0" fill="#b9db57"/><circle cx="434.1" cy="865.6" r="7.0" fill="#b9db57"/><circle cx="458.9" cy="914.1" r="7.0" fill="#b9db57"/><circle cx="438.6" cy="847.1" r="7.0" fill="#b9db57"/><circle cx="427.1" cy="876.1" r="7.0" fill="#b9db57"/><circle cx="400.0" cy="893.2" r="7.0" fill="#b9db57"/><circle cx="411.5" cy="920.8" r="7.0" fill="#b9db57"/><circle cx="467.9" cy="919.5" r="7.0" fill="#b9db57"/><circle cx="453.8" cy="925.7" r="7.0" fill="#b9db57"/><circle cx="470.9" cy="825.5" r="7.0" fill="#b9db57"/><circle cx="438.5" cy="896.7" r="7.0" fill="#b9db57"/><circle cx="376.2" cy="892.1" r="7.0" fill="#b9db57"/><circle cx="416.0" cy="864.6" r="7.0" fill="#b9db57"/><circle cx="408.9" cy="850.5" r="7.0" fill="#b9db57"/><circle cx="432.0" cy="835.7" r="7.0" fill="#b9db57"/><circle cx="432.6" cy="902.9" r="7.0" fill="#b9db57"/><circle cx="505.0" cy="876.6" r="7.0" fill="#b9db57"/><circle cx="477.6" cy="881.9" r="7.0" fill="#b9db57"/><circle cx="491.8" cy="861.3" r="7.0" fill="#b9db57"/><circle cx="447.6" cy="860.7" r="7.0" fill="#b9db57"/><circle cx="419.0" cy="882.7" r="7.0" fill="#b9db57"/><circle cx="478.1" cy="872.0" r="7.0" fill="#b9db57"/><circle cx="447.2" cy="901.7" r="7.0" fill="#b9db57"/><circle cx="412.3" cy="840.6" r="7.0" fill="#b9db57"/><circle cx="445.1" cy="911.1" r="7.0" fill="#b9db57"/><circle cx="477.5" cy="911.1" r="7.0" fill="#b9db57"/><circle cx="481.8" cy="854.0" r="7.0" fill="#b9db57"/><circle cx="398.1" cy="849.0" r="7.0" fill="#b9db57"/><circle cx="518.0" cy="884.9" r="7.0" fill="#b9db57"/><circle cx="408.2" cy="860.2" r="7.0" fill="#b9db57"/><circle cx="402.4" cy="867.2" r="7.0" fill="#b9db57"/><circle cx="407.7" cy="882.1" r="7.0" fill="#b9db57"/><circle cx="442.2" cy="832.7" r="7.0" fill="#b9db57"/><circle cx="438.2" cy="887.8" r="7.0" fill="#b9db57"/><circle cx="470.3" cy="866.5" r="7.0" fill="#b9db57"/><circle cx="506.4" cy="886.5" r="7.0" fill="#b9db57"/><circle cx="453.5" cy="850.5" r="7.0" fill="#b9db57"/><circle cx="384.8" cy="872.6" r="7.0" fill="#b9db57"/><circle cx="477.0" cy="919.7" r="7.0" fill="#b9db57"/><circle cx="453.2" cy="881.5" r="7.0" fill="#b9db57"/><circle cx="433.6" cy="915.8" r="7.0" fill="#b9db57"/><circle cx="415.6" cy="832.7" r="7.0" fill="#b9db57"/><circle cx="439.8" cy="855.8" r="7.0" fill="#b9db57"/><circle cx="432.0" cy="925.9" r="7.0" fill="#b9db57"/><circle cx="488.8" cy="911.1" r="7.0" fill="#b9db57"/><circle cx="525.8" cy="915.6" r="7.0" fill="#b9db57"/><circle cx="448.1" cy="890.3" r="7.0" fill="#b9db57"/><circle cx="421.8" cy="839.7" r="7.0" fill="#b9db57"/><circle cx="509.8" cy="934.1" r="7.0" fill="#b9db57"/><circle cx="440.6" cy="874.3" r="7.0" fill="#b9db57"/><circle cx="465.8" cy="931.0" r="7.0" fill="#b9db57"/><circle cx="396.4" cy="884.4" r="7.0" fill="#b9db57"/><circle cx="442.2" cy="924.6" r="7.0" fill="#b9db57"/><circle cx="455.2" cy="905.1" r="7.0" fill="#b9db57"/><circle cx="427.4" cy="851.5" r="7.0" fill="#b9db57"/><circle cx="491.0" cy="848.0" r="7.0" fill="#b9db57"/><circle cx="419.1" cy="872.6" r="7.0" fill="#b9db57"/><circle cx="516.0" cy="842.9" r="7.0" fill="#b9db57"/><circle cx="421.9" cy="918.6" r="7.0" fill="#b9db57"/><circle cx="512.3" cy="910.5" r="7.0" fill="#b9db57"/><circle cx="429.8" cy="893.4" r="7.0" fill="#b9db57"/><circle cx="468.0" cy="909.3" r="7.0" fill="#b9db57"/><circle cx="423.8" cy="860.4" r="7.0" fill="#b9db57"/><circle cx="454.0" cy="896.4" r="7.0" fill="#b9db57"/><circle cx="418.0" cy="848.8" r="7.0" fill="#b9db57"/><circle cx="462.6" cy="900.7" r="7.0" fill="#b9db57"/><circle cx="524.6" cy="863.4" r="7.0" fill="#57db94"/><circle cx="372.5" cy="855.8" r="7.0" fill="#c957db"/><circle cx="532.8" cy="888.6" r="7.0" fill="#c957db"/><circle cx="517.6" cy="896.2" r="7.0" fill="#c957db"/><circle cx="497.9" cy="934.1" r="7.0" fill="#5784db"/><circle cx="502.6" cy="921.8" r="7.0" fill="#db5f57"/><circle cx="471.9" cy="857.9" r="7.0" fill="#c957db"/><circle cx="480.7" cy="863.4" r="7.0" fill="#5784db"/><circle cx="462.7" cy="878.3" r="7.0" fill="#c957db"/><circle cx="456.5" cy="870.6" r="7.0" fill="#b9db57"/><circle cx="468.8" cy="884.9" r="7.0" fill="#b9db57"/><circle cx="421.7" cy="898.2" r="7.0" fill="#5784db"/><circle cx="424.8" cy="906.4" r="7.0" fill="#b9db57"/><circle cx="411.5" cy="891.0" r="7.0" fill="#b9db57"/><circle cx="482.1" cy="899.2" r="7.0" fill="#5784db"/><circle cx="474.0" cy="895.1" r="7.0" fill="#b9db57"/><circle cx="491.4" cy="902.3" r="7.0" fill="#b9db57"/><circle cx="235.2" cy="1116.1" r="7.0" fill="#db5f57"/><circle cx="189.9" cy="1093.3" r="7.0" fill="#db5f57"/><circle cx="160.6" cy="1117.9" r="7.0" fill="#db5f57"/><circle cx="156.1" cy="1077.0" r="7.0" fill="#db5f57"/><circle cx="127.7" cy="1051.9" r="7.0" fill="#db5f57"/><circle cx="213.8" cy="1079.7" r="7.0" fill="#db5f57"/><circle cx="214.8" cy="1138.9" r="7.0" fill="#db5f57"/><circle cx="198.4" cy="1175.7" r="7.0" fill="#db5f57"/><circle cx="206.9" cy="1095.7" r="7.0" fill="#db5f57"/><circle cx="208.1" cy="1126.8" r="7.0" fill="#db5f57"/><circle cx="194.6" cy="1129.6" r="7.0" fill="#db5f57"/><circle cx="213.1" cy="1150.0" r="7.0" fill="#db5f57"/><circle cx="245.0" cy="1108.6" r="7.0" fill="#db5f57"/><circle cx="205.9" cy="1048.7" r="7.0" fill="#db5f57"/><circle cx="227.2" cy="1067.3" r="7.0" fill="#db5f57"/><circle cx="133.3" cy="1093.2" r="7.0" fill="#db5f57"/><circle cx="130.2" cy="1060.7" r="7.0" fill="#db5f57"/><circle cx="232.8" cy="1090.1" r="7.0" fill="#db5f57"/><circle cx="220.1" cy="1108.9" r="7.0" fill="#db5f57"/><circle cx="136.0" cy="1053.9" r="7.0" fill="#db5f57"/><circle cx="213.9" cy="1116.5" r="7.0" fill="#db5f57"/><circle cx="211.9" cy="1159.7" r="7.0" fill="#db5f57"/><circle cx="175.5" cy="1110.6" r="7.0" fill="#db5f57"/><circle cx="176.0" cy="1085.0" r="7.0" fill="#db5f57"/><circle cx="222.4" cy="1096.0" r="7.0" fill="#db5f57"/><circle cx="200.9" cy="1075.1" r="7.0" fill="#db5f57"/><circle cx="157.7" cy="1129.4" r="7.0" fill="#db5f57"/><circle cx="216.0" cy="1063.6" r="7.0" fill="#db5f57"/><circle cx="226.9" cy="1129.2" r="7.0" fill="#db5f57"/><circle cx="186.3" cy="1115.2" r="7.0" fill="#db5f57"/><circle cx="193.8" cy="1155.3" r="7.0" fill="#db5f57"/><circle cx="133.6" cy="1103.4" r="7.0" fill="#db5f57"/><circle cx="121.1" cy="1059.7" r="7.0" fill="#db5f57"/><circle cx="185.7" cy="1127.6" r="7.0" fill="#db5f57"/><circle cx="194.5" cy="1120.8" r="7.0" fill="#db5f57"/><circle cx="189.5" cy="1075.3" r="7.0" fill="#db5f57"/><circle cx="196.6" cy="1112.5" r="7.0" fill="#db5f57"/><circle cx="180.8" cy="1177.6" r="7.0" fill="#db5f57"/><circle cx="230.3" cy="1164.0" r="7.0" fill="#db5f57"/><circle cx="169.5" cy="1118.7" r="7.0" fill="#db5f57"/><circle cx="220.6" cy="1162.2" r="7.0" fill="#db5f57"/><circle cx="200.2" cy="1136.9" r="7.0" fill="#db5f57"/><circle cx="219.1" cy="1072.5" r="7.0" fill="#db5f57"/><circle cx="167.6" cy="1062.0" r="7.0" fill="#db5f57"/><circle cx="157.3" cy="1096.4" r="7.0" fill="#db5f57"/><circle cx="248.5" cy="1116.4" r="7.0" fill="#db5f57"/><circle cx="148.5" cy="1085.6" r="7.0" fill="#db5f57"/><circle cx="242.0" cy="1097.9" r="7.0" fill="#db5f57"/><circle cx="172.4" cy="1096.6" r="7.0" fill="#db5f57"/><circle cx="116.5" cy="1079.7" r="7.0" fill="#db5f57"/><circle cx="225.9" cy="1079.1" r="7.0" fill="#db5f57"/><circle cx="211.4" cy="1088.1" r="7.0" fill="#db5f57"/><circle cx="156.4" cy="1065.0" r="7.0" fill="#db5f57"/><circle cx="146.7" cy="1061.4" r="7.0" fill="#db5f57"/><circle cx="224.6" cy="1118.6" r="7.0" fill="#db5f57"/><circle cx="180.9" cy="1094.8" r="7.0" fill="#db5f57"/><circle cx="174.0" cy="1126.8" r="7.0" fill="#db5f57"/><circle cx="185.5" cy="1056.1" r="7.0" fill="#db5f57"/><circle cx="182.0" cy="1103.6" r="7.0" fill="#db5f57"/><circle cx="118.7" cy="1049.7" r="7.0" fill="#db5f57"/><circle cx="194.3" cy="1102.8" r="7.0" fill="#db5f57"/><circle cx="209.7" cy="1070.7" r="7.0" fill="#db5f57"/><circle cx="148.1" cy="1096.0" r="7.0" fill="#db5f57"/><circle cx="112.2" cy="1062.6" r="7.0" fill="#db5f57"/><circle cx="167.0" cy="1080.6" r="7.0" fill="#db5f57"/><circle cx="176.7" cy="1062.8" r="7.0" fill="#db5f57"/><circle cx="206.7" cy="1169.8" r="7.0" fill="#db5f57"/><circle cx="196.5" cy="1166.1" r="7.0" fill="#db5f57"/><circle cx="217.6" cy="1124.7" r="7.0" fill="#db5f57"/><circle cx="148.9" cy="1072.2" r="7.0" fill="#db5f57"/><circle cx="159.9" cy="1088.3" r="7.0" fill="#db5f57"/><circle cx="222.5" cy="1173.9" r="7.0" fill="#db5f57"/><circle cx="244.8" cy="1128.4" r="7.0" fill="#db5f57"/><circle cx="236.4" cy="1170.1" r="7.0" fill="#db5f57"/><circle cx="115.5" cy="1071.1" r="7.0" fill="#db5f57"/><circle cx="202.4" cy="1146.4" r="7.0" fill="#db5f57"/><circle cx="205.2" cy="1112.0" r="7.0" fill="#db5f57"/><circle cx="202.0" cy="1159.3" r="7.0" fill="#db5f57"/><circle cx="151.2" cy="1118.2" r="7.0" fill="#db5f57"/><circle cx="162.6" cy="1103.4" r="7.0" fill="#db5f57"/><circle cx="180.8" cy="1075.7" r="7.0" fill="#db5f57"/><circle cx="145.0" cy="1052.7" r="7.0" fill="#db5f57"/><circle cx="187.5" cy="1083.6" r="7.0" fill="#db5f57"/><circle cx="140.4" cy="1088.2" r="7.0" fill="#db5f57"/><circle cx="221.3" cy="1146.2" r="7.0" fill="#db5f57"/><circle cx="133.6" cy="1040.4" r="7.0" fill="#db5f57"/><circle cx="140.0" cy="1079.2" r="7.0" fill="#db5f57"/><circle cx="164.2" cy="1071.8" r="7.0" fill="#db5f57"/><circle cx="185.2" cy="1067.9" r="7.0" fill="#db5f57"/><circle cx="200.2" cy="1086.0" r="7.0" fill="#db5f57"/><circle cx="235.5" cy="1105.5" r="7.0" fill="#db5f57"/><circle cx="154.0" cy="1047.8" r="7.0" fill="#57db94"/><circle cx="243.5" cy="1148.3" r="7.0" fill="#57db94"/><circle cx="116.9" cy="1096.9" r="7.0" fill="#b9db57"/><circle cx="137.3" cy="1071.0" r="7.0" fill="#57db94"/><circle cx="126.1" cy="1070.0" r="7.0" fill="#db5f57"/><circle cx="126.1" cy="1079.7" r="7.0" fill="#b9db57"/><circle cx="210.1" cy="1104.9" r="7.0" fill="#b9db57"/><circle cx="747.7" cy="1046.1" r="7.0" fill="#c957db"/><circle cx="663.8" cy="1026.9" r="7.0" fill="#c957db"/><circle cx="642.7" cy="1022.9" r="7.0" fill="#c957db"/><circle cx="671.0" cy="1000.6" r="7.0" fill="#c957db"/><circle cx="755.7" cy="1050.4" r="7.0" fill="#c957db"/><circle cx="690.8" cy="1031.1" r="7.0" fill="#c957db"/><circle cx="653.3" cy="1024.7" r="7.0" fill="#c957db"/><circle cx="763.4" cy="1042.9" r="7.0" fill="#c957db"/><circle cx="719.4" cy="1023.7" r="7.0" fill="#c957db"/><circle cx="681.6" cy="1030.7" r="7.0" fill="#c957db"/><circle cx="671.6" cy="971.7" r="7.0" fill="#c957db"/><circle cx="676.9" cy="980.2" r="7.0" fill="#c957db"/><circle cx="684.4" cy="1075.6" r="7.0" fill="#c957db"/><circle cx="720.7" cy="1060.7" r="7.0" fill="#c957db"/><circle cx="717.0" cy="1035.4" r="7.0" fill="#c957db"/><circle cx="701.1" cy="1022.4" r="7.0" fill="#c957db"/><circle cx="758.5" cy="1061.5" r="7.0" fill="#c957db"/><circle cx="658.2" cy="984.3" r="7.0" fill="#c957db"/><circle cx="753.1" cy="1035.2" r="7.0" fill="#c957db"/><circle cx="773.5" cy="1064.5" r="7.0" fill="#c957db"/><circle cx="778.2" cy="1049.8" r="7.0" fill="#c957db"/><circle cx="700.8" cy="1034.5" r="7.0" fill="#c957db"/><circle cx="741.6" cy="1061.5" r="7.0" fill="#c957db"/><circle cx="716.3" cy="1015.2" r="7.0" fill="#c957db"/><circle cx="659.2" cy="1003.9" r="7.0" fill="#c957db"/><circle cx="705.9" cy="996.9" r="7.0" fill="#c957db"/><circle cx="725.0" cy="1030.7" r="7.0" fill="#c957db"/><circle cx="689.3" cy="1057.6" r="7.0" fill="#c957db"/><circle cx="735.7" cy="1048.5" r="7.0" fill="#c957db"/><circle cx="769.1" cy="1049.7" r="7.0" fill="#c957db"/><circle cx="682.6" cy="1002.3" r="7.0" fill="#c957db"/><circle cx="750.1" cy="1063.6" r="7.0" fill="#c957db"/><circle cx="735.6" cy="1018.7" r="7.0" fill="#c957db"/><circle cx="670.4" cy="991.4" r="7.0" fill="#c957db"/><circle cx="684.0" cy="986.8" r="7.0" fill="#c957db"/><circle cx="747.9" cy="1055.3" r="7.0" fill="#c957db"/><circle cx="687.9" cy="1066.2" r="7.0" fill="#c957db"/><circle cx="732.9" cy="1035.5" r="7.0" fill="#c957db"/><circle cx="644.7" cy="1033.3" r="7.0" fill="#c957db"/><circle cx="791.8" cy="1032.7" r="7.0" fill="#c957db"/><circle cx="698.6" cy="1064.0" r="7.0" fill="#c957db"/><circle cx="649.3" cy="1001.9" r="7.0" fill="#c957db"/><circle cx="653.1" cy="1011.4" r="7.0" fill="#c957db"/><circle cx="667.6" cy="1041.7" r="7.0" fill="#c957db"/><circle cx="707.3" cy="1008.6" r="7.0" fill="#c957db"/><circle cx="694.8" cy="1072.1" r="7.0" fill="#c957db"/><circle cx="640.4" cy="1001.1" r="7.0" fill="#c957db"/><circle cx="760.6" cy="1016.2" r="7.0" fill="#c957db"/><circle cx="661.7" cy="995.3" r="7.0" fill="#c957db"/><circle cx="747.0" cy="1028.5" r="7.0" fill="#c957db"/><circle cx="742.1" cy="1036.3" r="7.0" fill="#c957db"/><circle cx="650.0" cy="993.3" r="7.0" fill="#c957db"/><circle cx="697.1" cy="1001.9" r="7.0" fill="#c957db"/><circle cx="675.3" cy="1036.8" r="7.0" fill="#c957db"/><circle cx="699.4" cy="1055.1" r="7.0" fill="#c957db"/><circle cx="707.3" cy="1028.4" r="7.0" fill="#c957db"/><circle cx="709.2" cy="1039.0" r="7.0" fill="#c957db"/><circle cx="761.7" cy="1069.8" r="7.0" fill="#c957db"/><circle cx="785.2" cy="1043.7" r="7.0" fill="#c957db"/><circle cx="744.4" cy="1019.3" r="7.0" fill="#c957db"/><circle cx="706.9" cy="1071.9" r="7.0" fill="#c957db"/><circle cx="647.5" cy="984.0" r="7.0" fill="#c957db"/><circle cx="723.5" cy="1043.8" r="7.0" fill="#c957db"/><circle cx="716.2" cy="1072.8" r="7.0" fill="#c957db"/><circle cx="705.9" cy="1080.6" r="7.0" fill="#c957db"/><circle cx="664.7" cy="1066.6" r="7.0" fill="#c957db"/><circle cx="644.2" cy="1013.0" r="7.0" fill="#c957db"/><circle cx="611.5" cy="993.6" r="7.0" fill="#57db94"/><circle cx="666.8" cy="982.9" r="7.0" fill="#5784db"/><circle cx="690.9" cy="1013.0" r="7.0" fill="#5784db"/><circle cx="699.5" cy="1012.5" r="7.0" fill="#5784db"/><circle cx="669.4" cy="1019.4" r="7.0" fill="#5784db"/><circle cx="663.0" cy="1017.2" r="7.0" fill="#c957db"/><circle cx="675.9" cy="1011.9" r="7.0" fill="#c957db"/><circle cx="685.5" cy="1021.5" r="7.0" fill="#5784db"/><circle cx="659.1" cy="1034.0" r="7.0" fill="#b9db57"/><circle cx="680.1" cy="1044.1" r="7.0" fill="#5784db"/><circle cx="672.6" cy="1050.5" r="7.0" fill="#5784db"/><circle cx="691.3" cy="1046.2" r="7.0" fill="#57db94"/><circle cx="707.6" cy="1060.6" r="7.0" fill="#57db94"/><circle cx="714.5" cy="1052.7" r="7.0" fill="#b9db57"/><circle cx="707.0" cy="1047.3" r="7.0" fill="#c957db"/><circle cx="738.1" cy="1026.9" r="7.0" fill="#b9db57"/><circle cx="739.2" cy="1010.8" r="7.0" fill="#b9db57"/><circle cx="726.9" cy="1009.1" r="7.0" fill="#57db94"/><circle cx="730.6" cy="1072.0" r="7.0" fill="#b9db57"/><circle cx="731.7" cy="1058.0" r="7.0" fill="#c957db"/><circle cx="759.6" cy="1024.8" r="7.0" fill="#b9db57"/><circle cx="770.3" cy="1025.8" r="7.0" fill="#b9db57"/><circle cx="761.7" cy="1031.2" r="7.0" fill="#5784db"/><circle cx="781.0" cy="1022.6" r="7.0" fill="#5784db"/><circle cx="775.7" cy="1035.5" r="7.0" fill="#c957db"/><circle cx="784.2" cy="1055.9" r="7.0" fill="#57db94"/><circle cx="889.9" cy="1207.3" r="7.0" fill="#57db94"/><circle cx="969.0" cy="1245.5" r="7.0" fill="#57db94"/><circle cx="882.1" cy="1255.6" r="7.0" fill="#57db94"/><circle cx="925.4" cy="1208.1" r="7.0" fill="#57db94"/><circle cx="897.2" cy="1266.9" r="7.0" fill="#57db94"/><circle cx="882.2" cy="1233.2" r="7.0" fill="#57db94"/><circle cx="952.0" cy="1252.5" r="7.0" fill="#57db94"/><circle cx="831.9" cy="1268.4" r="7.0" fill="#57db94"/><circle cx="874.8" cy="1260.7" r="7.0" fill="#57db94"/><circle cx="896.7" cy="1278.2" r="7.0" fill="#57db94"/><circle cx="878.5" cy="1224.2" r="7.0" fill="#57db94"/><circle cx="873.3" cy="1271.3" r="7.0" fill="#57db94"/><circle cx="860.2" cy="1213.3" r="7.0" fill="#57db94"/><circle cx="869.4" cy="1220.5" r="7.0" fill="#57db94"/><circle cx="897.0" cy="1223.4" r="7.0" fill="#57db94"/><circle cx="869.0" cy="1252.7" r="7.0" fill="#57db94"/><circle cx="909.5" cy="1256.2" r="7.0" fill="#57db94"/><circle cx="897.5" cy="1199.8" r="7.0" fill="#57db94"/><circle cx="839.8" cy="1228.8" r="7.0" fill="#57db94"/><circle cx="951.4" cy="1242.6" r="7.0" fill="#57db94"/><circle cx="917.4" cy="1241.0" r="7.0" fill="#57db94"/><circle cx="945.0" cy="1218.6" r="7.0" fill="#57db94"/><circle cx="957.0" cy="1260.1" r="7.0" fill="#57db94"/><circle cx="935.9" cy="1218.2" r="7.0" fill="#57db94"/><circle cx="965.0" cy="1224.8" r="7.0" fill="#57db94"/><circle cx="954.8" cy="1222.9" r="7.0" fill="#57db94"/><circle cx="943.0" cy="1229.0" r="7.0" fill="#57db94"/><circle cx="867.4" cy="1198.2" r="7.0" fill="#57db94"/><circle cx="928.2" cy="1222.0" r="7.0" fill="#57db94"/><circle cx="952.5" cy="1209.9" r="7.0" fill="#57db94"/><circle cx="919.1" cy="1276.2" r="7.0" fill="#57db94"/><circle cx="906.9" cy="1234.0" r="7.0" fill="#57db94"/><circle cx="841.9" cy="1240.2" r="7.0" fill="#57db94"/><circle cx="873.6" cy="1232.1" r="7.0" fill="#57db94"/><circle cx="846.0" cy="1189.4" r="7.0" fill="#57db94"/><circle cx="968.5" cy="1234.3" r="7.0" fill="#57db94"/><circle cx="899.4" cy="1244.3" r="7.0" fill="#57db94"/><circle cx="953.0" cy="1232.4" r="7.0" fill="#57db94"/><circle cx="889.3" cy="1240.7" r="7.0" fill="#57db94"/><circle cx="887.5" cy="1263.4" r="7.0" fill="#57db94"/><circle cx="844.2" cy="1215.3" r="7.0" fill="#57db94"/><circle cx="897.9" cy="1210.6" r="7.0" fill="#57db94"/><circle cx="930.9" cy="1201.1" r="7.0" fill="#57db94"/><circle cx="844.6" cy="1250.1" r="7.0" fill="#57db94"/><circle cx="914.7" cy="1211.2" r="7.0" fill="#57db94"/><circle cx="853.8" cy="1271.9" r="7.0" fill="#57db94"/><circle cx="922.6" cy="1233.7" r="7.0" fill="#57db94"/><circle cx="880.4" cy="1201.0" r="7.0" fill="#57db94"/><circle cx="849.1" cy="1223.4" r="7.0" fill="#57db94"/><circle cx="867.7" cy="1242.0" r="7.0" fill="#57db94"/><circle cx="943.9" cy="1238.0" r="7.0" fill="#57db94"/><circle cx="923.2" cy="1264.5" r="7.0" fill="#57db94"/><circle cx="888.4" cy="1197.7" r="7.0" fill="#57db94"/><circle cx="858.9" cy="1221.9" r="7.0" fill="#57db94"/><circle cx="865.2" cy="1233.7" r="7.0" fill="#57db94"/><circle cx="878.7" cy="1243.9" r="7.0" fill="#57db94"/><circle cx="962.1" cy="1267.4" r="7.0" fill="#57db94"/><circle cx="909.3" cy="1246.6" r="7.0" fill="#57db94"/><circle cx="832.3" cy="1233.3" r="7.0" fill="#57db94"/><circle cx="852.8" cy="1259.6" r="7.0" fill="#57db94"/><circle cx="889.0" cy="1249.3" r="7.0" fill="#57db94"/><circle cx="905.8" cy="1206.8" r="7.0" fill="#57db94"/><circle cx="918.9" cy="1225.1" r="7.0" fill="#57db94"/><circle cx="893.8" cy="1190.4" r="7.0" fill="#57db94"/><circle cx="970.9" cy="1255.7" r="7.0" fill="#57db94"/><circle cx="889.5" cy="1218.2" r="7.0" fill="#57db94"/><circle cx="881.3" cy="1209.8" r="7.0" fill="#57db94"/><circle cx="911.4" cy="1220.3" r="7.0" fill="#57db94"/><circle cx="861.2" cy="1264.5" r="7.0" fill="#57db94"/><circle cx="977.7" cy="1236.2" r="7.0" fill="#57db94"/><circle cx="931.5" cy="1266.5" r="7.0" fill="#57db94"/><circle cx="933.1" cy="1229.0" r="7.0" fill="#57db94"/><circle cx="917.2" cy="1252.1" r="7.0" fill="#57db94"/><circle cx="931.6" cy="1238.6" r="7.0" fill="#57db94"/><circle cx="834.3" cy="1217.7" r="7.0" fill="#57db94"/><circle cx="847.9" cy="1233.9" r="7.0" fill="#57db94"/><circle cx="857.3" cy="1239.5" r="7.0" fill="#57db94"/><circle cx="872.0" cy="1206.0" r="7.0" fill="#57db94"/><circle cx="895.3" cy="1231.8" r="7.0" fill="#57db94"/><circle cx="937.7" cy="1209.7" r="7.0" fill="#57db94"/><circle cx="942.0" cy="1247.9" r="7.0" fill="#57db94"/><circle cx="944.7" cy="1257.4" r="7.0" fill="#57db94"/><circle cx="960.5" cy="1244.0" r="7.0" fill="#57db94"/><circle cx="946.5" cy="1201.1" r="7.0" fill="#57db94"/><circle cx="967.0" cy="1215.3" r="7.0" fill="#57db94"/><circle cx="959.1" cy="1204.0" r="7.0" fill="#c957db"/><circle cx="900.0" cy="1256.7" r="7.0" fill="#c957db"/><circle cx="939.6" cy="1271.3" r="7.0" fill="#c957db"/><circle cx="856.7" cy="1251.8" r="7.0" fill="#c957db"/><circle cx="852.8" cy="1259.6" r="7.0" fill="#57db94"/><circle cx="913.3" cy="1266.5" r="7.0" fill="#5784db"/><circle cx="919.1" cy="1276.2" r="7.0" fill="#57db94"/><circle cx="904.5" cy="1271.3" r="7.0" fill="#57db94"/><circle cx="415.5" cy="1379.5" r="7.0" fill="#5784db"/><circle cx="352.6" cy="1431.9" r="7.0" fill="#5784db"/><circle cx="304.5" cy="1367.7" r="7.0" fill="#5784db"/><circle cx="407.3" cy="1338.0" r="7.0" fill="#5784db"/><circle cx="408.5" cy="1348.4" r="7.0" fill="#5784db"/><circle cx="391.4" cy="1389.5" r="7.0" fill="#5784db"/><circle cx="426.1" cy="1368.1" r="7.0" fill="#5784db"/><circle cx="409.0" cy="1411.6" r="7.0" fill="#5784db"/><circle cx="395.6" cy="1422.0" r="7.0" fill="#5784db"/><circle cx="446.3" cy="1354.9" r="7.0" fill="#5784db"/><circle cx="382.7" cy="1347.9" r="7.0" fill="#5784db"/><circle cx="372.1" cy="1371.4" r="7.0" fill="#5784db"/><circle cx="360.7" cy="1349.6" r="7.0" fill="#5784db"/><circle cx="377.9" cy="1382.1" r="7.0" fill="#5784db"/><circle cx="372.3" cy="1354.1" r="7.0" fill="#5784db"/><circle cx="401.4" cy="1315.5" r="7.0" fill="#5784db"/><circle cx="316.3" cy="1372.3" r="7.0" fill="#5784db"/><circle cx="370.0" cy="1392.7" r="7.0" fill="#5784db"/><circle cx="306.5" cy="1396.4" r="7.0" fill="#5784db"/><circle cx="458.1" cy="1340.1" r="7.0" fill="#5784db"/><circle cx="342.5" cy="1354.8" r="7.0" fill="#5784db"/><circle cx="324.9" cy="1401.2" r="7.0" fill="#5784db"/><circle cx="412.4" cy="1390.3" r="7.0" fill="#5784db"/><circle cx="440.7" cy="1328.8" r="7.0" fill="#5784db"/><circle cx="355.3" cy="1369.6" r="7.0" fill="#5784db"/><circle cx="406.1" cy="1376.3" r="7.0" fill="#5784db"/><circle cx="364.9" cy="1359.8" r="7.0" fill="#5784db"/><circle cx="360.9" cy="1393.4" r="7.0" fill="#5784db"/><circle cx="358.0" cy="1406.5" r="7.0" fill="#5784db"/><circle cx="359.5" cy="1380.2" r="7.0" fill="#5784db"/><circle cx="415.7" cy="1404.1" r="7.0" fill="#5784db"/><circle cx="422.2" cy="1391.8" r="7.0" fill="#5784db"/><circle cx="316.1" cy="1394.6" r="7.0" fill="#5784db"/><circle cx="455.0" cy="1360.7" r="7.0" fill="#5784db"/><circle cx="341.8" cy="1386.1" r="7.0" fill="#5784db"/><circle cx="418.7" cy="1335.9" r="7.0" fill="#5784db"/><circle cx="421.2" cy="1415.9" r="7.0" fill="#5784db"/><circle cx="400.5" cy="1391.6" r="7.0" fill="#5784db"/><circle cx="437.8" cy="1362.1" r="7.0" fill="#5784db"/><circle cx="435.9" cy="1351.3" r="7.0" fill="#5784db"/><circle cx="449.7" cy="1336.8" r="7.0" fill="#5784db"/><circle cx="424.2" cy="1376.8" r="7.0" fill="#5784db"/><circle cx="416.4" cy="1360.1" r="7.0" fill="#5784db"/><circle cx="310.8" cy="1381.1" r="7.0" fill="#5784db"/><circle cx="366.1" cy="1401.8" r="7.0" fill="#5784db"/><circle cx="328.4" cy="1422.0" r="7.0" fill="#5784db"/><circle cx="409.6" cy="1367.3" r="7.0" fill="#5784db"/><circle cx="336.2" cy="1408.7" r="7.0" fill="#5784db"/><circle cx="351.1" cy="1392.8" r="7.0" fill="#5784db"/><circle cx="322.5" cy="1385.4" r="7.0" fill="#5784db"/><circle cx="379.9" cy="1365.0" r="7.0" fill="#5784db"/><circle cx="432.3" cy="1342.9" r="7.0" fill="#5784db"/><circle cx="348.2" cy="1347.4" r="7.0" fill="#5784db"/><circle cx="346.4" cy="1365.3" r="7.0" fill="#5784db"/><circle cx="351.5" cy="1356.6" r="7.0" fill="#5784db"/><circle cx="398.1" cy="1351.6" r="7.0" fill="#5784db"/><circle cx="347.2" cy="1375.4" r="7.0" fill="#5784db"/><circle cx="367.0" cy="1415.9" r="7.0" fill="#5784db"/><circle cx="335.6" cy="1367.9" r="7.0" fill="#5784db"/><circle cx="421.2" cy="1320.6" r="7.0" fill="#5784db"/><circle cx="389.4" cy="1409.2" r="7.0" fill="#5784db"/><circle cx="381.1" cy="1390.6" r="7.0" fill="#5784db"/><circle cx="318.8" cy="1358.5" r="7.0" fill="#5784db"/><circle cx="391.2" cy="1399.9" r="7.0" fill="#5784db"/><circle cx="388.7" cy="1361.8" r="7.0" fill="#5784db"/><circle cx="367.9" cy="1383.3" r="7.0" fill="#5784db"/><circle cx="325.2" cy="1369.3" r="7.0" fill="#5784db"/><circle cx="328.4" cy="1353.4" r="7.0" fill="#5784db"/><circle cx="447.8" cy="1366.2" r="7.0" fill="#5784db"/><circle cx="427.6" cy="1334.9" r="7.0" fill="#5784db"/><circle cx="345.5" cy="1405.6" r="7.0" fill="#5784db"/><circle cx="421.0" cy="1345.4" r="7.0" fill="#5784db"/><circle cx="332.6" cy="1388.6" r="7.0" fill="#5784db"/><circle cx="339.2" cy="1397.4" r="7.0" fill="#5784db"/><circle cx="386.3" cy="1418.0" r="7.0" fill="#5784db"/><circle cx="385.2" cy="1377.0" r="7.0" fill="#5784db"/><circle cx="336.2" cy="1346.2" r="7.0" fill="#5784db"/><circle cx="394.1" cy="1369.4" r="7.0" fill="#5784db"/><circle cx="377.6" cy="1416.8" r="7.0" fill="#5784db"/><circle cx="424.7" cy="1357.0" r="7.0" fill="#5784db"/><circle cx="445.0" cy="1344.3" r="7.0" fill="#5784db"/><circle cx="407.0" cy="1402.6" r="7.0" fill="#5784db"/><circle cx="454.3" cy="1349.8" r="7.0" fill="#5784db"/><circle cx="347.5" cy="1321.6" r="7.0" fill="#b9db57"/><circle cx="371.0" cy="1333.5" r="7.0" fill="#c957db"/><circle cx="388.5" cy="1320.6" r="7.0" fill="#c957db"/><circle cx="436.2" cy="1392.3" r="7.0" fill="#b9db57"/><circle cx="310.2" cy="1409.7" r="7.0" fill="#db5f57"/><circle cx="305.5" cy="1431.2" r="7.0" fill="#b9db57"/><circle cx="381.3" cy="1428.2" r="7.0" fill="#57db94"/><circle cx="331.7" cy="1375.9" r="7.0" fill="#c957db"/><circle cx="401.8" cy="1360.2" r="7.0" fill="#c957db"/><circle cx="396.7" cy="1381.5" r="7.0" fill="#c957db"/><circle cx="439.7" cy="1372.4" r="7.0" fill="#c957db"/><circle cx="466.9" cy="1352.8" r="7.0" fill="#c957db"/><circle cx="397.3" cy="1333.9" r="7.0" fill="#c957db"/><circle cx="392.6" cy="1341.1" r="7.0" fill="#5784db"/><circle cx="375.1" cy="1407.3" r="7.0" fill="#57db94"/><circle cx="381.3" cy="1400.5" r="7.0" fill="#5784db"/><circle cx="399.3" cy="1408.1" r="7.0" fill="#c957db"/></g>
</g>
<line x1="70.0" y1="795.8" x2="70.0" y2="1464.4" stroke="#787878" stroke-width="2.8"/><line x1="68.6" y1="797.2" x2="1020.5" y2="797.2" stroke="#787878" stroke-width="2.8"/><line x1="1019.1" y1="796.1" x2="1019.1" y2="1464.1" stroke="#333" stroke-width="2.2"/><line x1="68.9" y1="1463.0" x2="1020.2" y2="1463.0" stroke="#333" stroke-width="2.2"/>
<g filter="url(#bt)"><line x1="62.6" y1="832.1" x2="70.0" y2="832.1" stroke="#2a2a2a" stroke-width="2"/><text class="t" transform="translate(51.8 840.5) scale(1.01 1)" text-anchor="end">40</text><line x1="62.6" y1="906.5" x2="70.0" y2="906.5" stroke="#2a2a2a" stroke-width="2"/><text class="t" transform="translate(51.8 914.9) scale(1.01 1)" text-anchor="end">30</text><line x1="62.6" y1="981.0" x2="70.0" y2="981.0" stroke="#2a2a2a" stroke-width="2"/><text class="t" transform="translate(51.8 989.4) scale(1.01 1)" text-anchor="end">20</text><line x1="62.6" y1="1055.4" x2="70.0" y2="1055.4" stroke="#2a2a2a" stroke-width="2"/><text class="t" transform="translate(51.8 1063.8) scale(1.01 1)" text-anchor="end">10</text><line x1="62.6" y1="1129.9" x2="70.0" y2="1129.9" stroke="#2a2a2a" stroke-width="2"/><text class="t" transform="translate(51.8 1138.3) scale(1.01 1)" text-anchor="end">0</text><line x1="62.6" y1="1204.3" x2="70.0" y2="1204.3" stroke="#2a2a2a" stroke-width="2"/><text class="t" transform="translate(51.8 1212.7) scale(1.01 1)" text-anchor="end">−10</text><line x1="62.6" y1="1278.7" x2="70.0" y2="1278.7" stroke="#2a2a2a" stroke-width="2"/><text class="t" transform="translate(51.8 1287.1) scale(1.01 1)" text-anchor="end">−20</text><line x1="62.6" y1="1353.2" x2="70.0" y2="1353.2" stroke="#2a2a2a" stroke-width="2"/><text class="t" transform="translate(51.8 1361.6) scale(1.01 1)" text-anchor="end">−30</text><line x1="62.6" y1="1427.6" x2="70.0" y2="1427.6" stroke="#2a2a2a" stroke-width="2"/><text class="t" transform="translate(51.8 1436.0) scale(1.01 1)" text-anchor="end">−40</text><line x1="174.7" y1="1463.0" x2="174.7" y2="1470.4" stroke="#2a2a2a" stroke-width="2"/><text class="t" transform="translate(174.7 1496.4) scale(1.01 1)" text-anchor="middle">−40</text><line x1="358.2" y1="1463.0" x2="358.2" y2="1470.4" stroke="#2a2a2a" stroke-width="2"/><text class="t" transform="translate(358.2 1496.4) scale(1.01 1)" text-anchor="middle">−20</text><line x1="541.8" y1="1463.0" x2="541.8" y2="1470.4" stroke="#2a2a2a" stroke-width="2"/><text class="t" transform="translate(541.8 1496.4) scale(1.01 1)" text-anchor="middle">0</text><line x1="725.3" y1="1463.0" x2="725.3" y2="1470.4" stroke="#2a2a2a" stroke-width="2"/><text class="t" transform="translate(725.3 1496.4) scale(1.01 1)" text-anchor="middle">20</text><line x1="908.8" y1="1463.0" x2="908.8" y2="1470.4" stroke="#2a2a2a" stroke-width="2"/><text class="t" transform="translate(908.8 1496.4) scale(1.01 1)" text-anchor="middle">40</text>
<rect x="905.0" y="808.0" width="102.0" height="188.5" rx="4" fill="#fff" fill-opacity="0.8" stroke="#dadada" stroke-width="1.6"/><circle cx="939.7" cy="830.2" r="9" fill="#db5f57"/><text class="t" transform="translate(989.3 837.2) scale(1.01 1)" text-anchor="middle">0</text><circle cx="939.7" cy="866.5" r="9" fill="#b9db57"/><text class="t" transform="translate(989.3 873.5) scale(1.01 1)" text-anchor="middle">1</text><circle cx="939.7" cy="902.6" r="9" fill="#57db94"/><text class="t" transform="translate(989.3 909.6) scale(1.01 1)" text-anchor="middle">2</text><circle cx="939.7" cy="938.9" r="9" fill="#5784db"/><text class="t" transform="translate(989.3 945.9) scale(1.01 1)" text-anchor="middle">3</text><circle cx="939.7" cy="974.8" r="9" fill="#c957db"/><text class="t" transform="translate(989.3 981.8) scale(1.01 1)" text-anchor="middle">4</text>
</g>
<text class="c" x="174.0" y="1558.5" textLength="679.9" lengthAdjust="spacing">(b) Two iteration of purification.</text>
<g filter="url(#bl)">
<g class="s"><circle cx="465.1" cy="1713.6" r="7.9"/><circle cx="498.8" cy="1663.9" r="7.9"/><circle cx="449.1" cy="1703.5" r="7.9"/><circle cx="426.6" cy="1677.1" r="7.9"/><circle cx="512.7" cy="1686.7" r="7.9"/><circle cx="428.3" cy="1632.8" r="7.9"/><circle cx="437.0" cy="1676.4" r="7.9"/><circle cx="446.3" cy="1667.0" r="7.9"/><circle cx="488.2" cy="1630.6" r="7.9"/><circle cx="505.9" cy="1669.8" r="7.9"/><circle cx="466.5" cy="1634.8" r="7.9"/><circle cx="529.7" cy="1671.2" r="7.9"/><circle cx="414.2" cy="1643.2" r="7.9"/><circle cx="491.2" cy="1668.9" r="7.9"/><circle cx="484.9" cy="1641.7" r="7.9"/><circle cx="498.9" cy="1649.7" r="7.9"/><circle cx="521.7" cy="1700.7" r="7.9"/><circle cx="426.2" cy="1641.5" r="7.9"/><circle cx="494.3" cy="1640.0" r="7.9"/><circle cx="425.8" cy="1650.0" r="7.9"/><circle cx="451.8" cy="1692.5" r="7.9"/><circle cx="468.5" cy="1670.8" r="7.9"/><circle cx="521.7" cy="1712.7" r="7.9"/><circle cx="439.9" cy="1650.5" r="7.9"/><circle cx="412.9" cy="1668.3" r="7.9"/><circle cx="458.3" cy="1636.7" r="7.9"/><circle cx="493.9" cy="1656.9" r="7.9"/><circle cx="474.2" cy="1682.1" r="7.9"/><circle cx="490.2" cy="1619.1" r="7.9"/><circle cx="490.2" cy="1691.0" r="7.9"/><circle cx="410.6" cy="1693.5" r="7.9"/><circle cx="414.4" cy="1653.9" r="7.9"/><circle cx="443.8" cy="1623.8" r="7.9"/><circle cx="415.6" cy="1686.1" r="7.9"/><circle cx="476.2" cy="1693.2" r="7.9"/><circle cx="493.0" cy="1699.8" r="7.9"/><circle cx="435.2" cy="1664.1" r="7.9"/><circle cx="418.8" cy="1704.4" r="7.9"/><circle cx="461.8" cy="1656.6" r="7.9"/><circle cx="522.7" cy="1658.9" r="7.9"/><circle cx="429.5" cy="1657.5" r="7.9"/><circle cx="540.2" cy="1659.0" r="7.9"/><circle cx="426.6" cy="1688.9" r="7.9"/><circle cx="448.6" cy="1637.0" r="7.9"/><circle cx="504.8" cy="1698.0" r="7.9"/><circle cx="422.8" cy="1663.7" r="7.9"/><circle cx="465.6" cy="1684.3" r="7.9"/><circle cx="466.8" cy="1704.4" r="7.9"/><circle cx="530.8" cy="1663.1" r="7.9"/><circle cx="516.7" cy="1665.1" r="7.9"/><circle cx="431.8" cy="1624.7" r="7.9"/><circle cx="456.8" cy="1626.6" r="7.9"/><circle cx="514.3" cy="1655.2" r="7.9"/><circle cx="500.1" cy="1705.0" r="7.9"/><circle cx="480.4" cy="1670.5" r="7.9"/><circle cx="485.1" cy="1651.6" r="7.9"/><circle cx="521.2" cy="1672.9" r="7.9"/><circle cx="468.3" cy="1646.0" r="7.9"/><circle cx="446.6" cy="1683.9" r="7.9"/><circle cx="482.4" cy="1660.6" r="7.9"/><circle cx="458.1" cy="1646.0" r="7.9"/><circle cx="498.1" cy="1687.1" r="7.9"/><circle cx="435.4" cy="1639.0" r="7.9"/><circle cx="502.4" cy="1632.4" r="7.9"/><circle cx="488.2" cy="1682.2" r="7.9"/><circle cx="410.5" cy="1703.5" r="7.9"/><circle cx="474.1" cy="1656.4" r="7.9"/><circle cx="505.7" cy="1658.0" r="7.9"/><circle cx="442.4" cy="1659.1" r="7.9"/><circle cx="514.2" cy="1677.6" r="7.9"/><circle cx="510.6" cy="1630.3" r="7.9"/><circle cx="453.1" cy="1713.3" r="7.9"/><circle cx="460.5" cy="1666.4" r="7.9"/><circle cx="497.0" cy="1713.7" r="7.9"/><circle cx="458.5" cy="1705.1" r="7.9"/><circle cx="453.4" cy="1662.1" r="7.9"/><circle cx="403.0" cy="1678.5" r="7.9"/><circle cx="508.1" cy="1707.7" r="7.9"/><circle cx="439.0" cy="1631.0" r="7.9"/><circle cx="455.0" cy="1679.5" r="7.9"/><circle cx="473.5" cy="1717.4" r="7.9"/><circle cx="514.1" cy="1697.3" r="7.9"/><circle cx="483.8" cy="1709.8" r="7.9"/><circle cx="484.6" cy="1697.6" r="7.9"/><circle cx="449.2" cy="1649.4" r="7.9"/><circle cx="417.1" cy="1677.0" r="7.9"/><circle cx="478.1" cy="1628.4" r="7.9"/><circle cx="476.4" cy="1704.4" r="7.9"/><circle cx="439.4" cy="1690.5" r="7.9"/><circle cx="498.9" cy="1677.2" r="7.9"/><circle cx="425.5" cy="1697.2" r="7.9"/><circle cx="477.1" cy="1648.4" r="7.9"/><circle cx="487.4" cy="1719.2" r="7.9"/><circle cx="463.9" cy="1696.5" r="7.9"/><circle cx="443.5" cy="1615.8" r="7.9"/><circle cx="443.8" cy="1623.2" r="7.9"/><circle cx="508.7" cy="1648.4" r="7.9"/><circle cx="504.1" cy="1640.5" r="7.9"/><circle cx="533.2" cy="1647.3" r="7.9"/><circle cx="430.8" cy="1717.4" r="7.9"/><circle cx="737.2" cy="1769.3" r="7.9"/><circle cx="735.3" cy="1760.2" r="7.9"/><circle cx="724.0" cy="1778.6" r="7.9"/><circle cx="737.3" cy="1735.2" r="7.9"/><circle cx="661.2" cy="1763.5" r="7.9"/><circle cx="629.0" cy="1731.0" r="7.9"/><circle cx="786.4" cy="1763.3" r="7.9"/><circle cx="796.8" cy="1770.9" r="7.9"/><circle cx="701.0" cy="1782.4" r="7.9"/><circle cx="734.7" cy="1778.5" r="7.9"/><circle cx="673.7" cy="1784.4" r="7.9"/><circle cx="727.1" cy="1751.8" r="7.9"/><circle cx="700.5" cy="1772.5" r="7.9"/><circle cx="637.0" cy="1755.3" r="7.9"/><circle cx="682.2" cy="1780.7" r="7.9"/><circle cx="740.5" cy="1753.2" r="7.9"/><circle cx="751.6" cy="1727.7" r="7.9"/><circle cx="681.3" cy="1756.3" r="7.9"/><circle cx="725.5" cy="1767.5" r="7.9"/><circle cx="692.9" cy="1769.3" r="7.9"/><circle cx="766.9" cy="1753.3" r="7.9"/><circle cx="781.1" cy="1750.1" r="7.9"/><circle cx="745.6" cy="1794.3" r="7.9"/><circle cx="767.4" cy="1792.5" r="7.9"/><circle cx="744.9" cy="1763.6" r="7.9"/><circle cx="714.8" cy="1766.3" r="7.9"/><circle cx="769.6" cy="1745.1" r="7.9"/><circle cx="665.2" cy="1739.5" r="7.9"/><circle cx="696.7" cy="1741.3" r="7.9"/><circle cx="708.5" cy="1759.9" r="7.9"/><circle cx="646.4" cy="1745.5" r="7.9"/><circle cx="773.9" cy="1731.0" r="7.9"/><circle cx="727.7" cy="1789.0" r="7.9"/><circle cx="718.5" cy="1756.3" r="7.9"/><circle cx="790.0" cy="1749.8" r="7.9"/><circle cx="769.4" cy="1781.0" r="7.9"/><circle cx="777.2" cy="1758.2" r="7.9"/><circle cx="695.6" cy="1722.4" r="7.9"/><circle cx="804.0" cy="1761.1" r="7.9"/><circle cx="716.4" cy="1733.6" r="7.9"/><circle cx="785.3" cy="1788.8" r="7.9"/><circle cx="738.3" cy="1786.8" r="7.9"/><circle cx="664.5" cy="1786.8" r="7.9"/><circle cx="649.4" cy="1727.4" r="7.9"/><circle cx="660.1" cy="1751.8" r="7.9"/><circle cx="796.5" cy="1795.4" r="7.9"/><circle cx="751.3" cy="1738.1" r="7.9"/><circle cx="651.5" cy="1769.7" r="7.9"/><circle cx="749.2" cy="1786.8" r="7.9"/><circle cx="683.2" cy="1768.2" r="7.9"/><circle cx="708.9" cy="1785.4" r="7.9"/><circle cx="760.5" cy="1747.8" r="7.9"/><circle cx="730.9" cy="1744.1" r="7.9"/><circle cx="754.8" cy="1757.0" r="7.9"/><circle cx="697.6" cy="1750.7" r="7.9"/><circle cx="675.0" cy="1741.9" r="7.9"/><circle cx="778.6" cy="1777.8" r="7.9"/><circle cx="764.6" cy="1738.0" r="7.9"/><circle cx="797.3" cy="1781.3" r="7.9"/><circle cx="757.0" cy="1795.2" r="7.9"/><circle cx="700.3" cy="1760.9" r="7.9"/><circle cx="704.7" cy="1743.5" r="7.9"/><circle cx="691.3" cy="1787.9" r="7.9"/><circle cx="671.7" cy="1754.8" r="7.9"/><circle cx="688.5" cy="1745.9" r="7.9"/><circle cx="692.4" cy="1757.6" r="7.9"/><circle cx="739.8" cy="1727.0" r="7.9"/><circle cx="717.5" cy="1785.2" r="7.9"/><circle cx="674.5" cy="1764.4" r="7.9"/><circle cx="722.4" cy="1835.5" r="7.9"/><circle cx="758.3" cy="1769.3" r="7.9"/><circle cx="709.1" cy="1751.5" r="7.9"/><circle cx="789.4" cy="1778.4" r="7.9"/><circle cx="739.8" cy="1744.9" r="7.9"/><circle cx="748.3" cy="1749.9" r="7.9"/><circle cx="643.0" cy="1770.7" r="7.9"/><circle cx="658.3" cy="1731.5" r="7.9"/><circle cx="751.0" cy="1773.2" r="7.9"/><circle cx="708.5" cy="1725.2" r="7.9"/><circle cx="688.7" cy="1729.5" r="7.9"/><circle cx="770.2" cy="1765.7" r="7.9"/><circle cx="652.5" cy="1737.8" r="7.9"/><circle cx="683.5" cy="1739.2" r="7.9"/><circle cx="780.1" cy="1769.5" r="7.9"/><circle cx="747.1" cy="1720.3" r="7.9"/><circle cx="711.3" cy="1776.9" r="7.9"/><circle cx="672.1" cy="1731.4" r="7.9"/><circle cx="777.7" cy="1792.3" r="7.9"/><circle cx="662.3" cy="1712.3" r="7.9"/><circle cx="765.3" cy="1801.7" r="7.9"/><circle cx="693.5" cy="1779.0" r="7.9"/><circle cx="742.8" cy="1776.0" r="7.9"/><circle cx="726.0" cy="1736.6" r="7.9"/><circle cx="661.4" cy="1771.9" r="7.9"/><circle cx="671.1" cy="1772.0" r="7.9"/><circle cx="705.7" cy="1804.0" r="7.9"/><circle cx="651.6" cy="1759.6" r="7.9"/><circle cx="760.0" cy="1724.6" r="7.9"/><circle cx="793.2" cy="1758.3" r="7.9"/><circle cx="760.0" cy="1787.5" r="7.9"/><circle cx="758.9" cy="1778.2" r="7.9"/><circle cx="775.6" cy="1800.3" r="7.9"/><circle cx="787.2" cy="1804.0" r="7.9"/><circle cx="143.5" cy="1918.1" r="7.9"/><circle cx="221.5" cy="1865.6" r="7.9"/><circle cx="187.3" cy="1839.5" r="7.9"/><circle cx="195.7" cy="1871.7" r="7.9"/><circle cx="194.2" cy="1893.1" r="7.9"/><circle cx="134.5" cy="1886.9" r="7.9"/><circle cx="218.9" cy="1845.5" r="7.9"/><circle cx="243.4" cy="1860.1" r="7.9"/><circle cx="265.3" cy="1874.8" r="7.9"/><circle cx="201.7" cy="1865.8" r="7.9"/><circle cx="179.7" cy="1892.7" r="7.9"/><circle cx="270.3" cy="1844.3" r="7.9"/><circle cx="125.7" cy="1883.4" r="7.9"/><circle cx="116.3" cy="1885.6" r="7.9"/><circle cx="254.3" cy="1846.5" r="7.9"/><circle cx="150.9" cy="1900.7" r="7.9"/><circle cx="252.2" cy="1874.4" r="7.9"/><circle cx="150.4" cy="1878.7" r="7.9"/><circle cx="229.2" cy="1877.4" r="7.9"/><circle cx="181.1" cy="1860.4" r="7.9"/><circle cx="250.7" cy="1864.9" r="7.9"/><circle cx="231.0" cy="1824.2" r="7.9"/><circle cx="132.7" cy="1920.5" r="7.9"/><circle cx="156.7" cy="1857.9" r="7.9"/><circle cx="267.7" cy="1888.2" r="7.9"/><circle cx="268.9" cy="1902.0" r="7.9"/><circle cx="151.7" cy="1870.2" r="7.9"/><circle cx="266.4" cy="1866.0" r="7.9"/><circle cx="178.5" cy="1906.3" r="7.9"/><circle cx="173.8" cy="1866.7" r="7.9"/><circle cx="156.2" cy="1919.4" r="7.9"/><circle cx="136.0" cy="1878.6" r="7.9"/><circle cx="198.2" cy="1829.3" r="7.9"/><circle cx="176.8" cy="1847.5" r="7.9"/><circle cx="244.2" cy="1877.3" r="7.9"/><circle cx="205.1" cy="1900.7" r="7.9"/><circle cx="261.1" cy="1895.2" r="7.9"/><circle cx="178.1" cy="1877.3" r="7.9"/><circle cx="274.0" cy="1861.0" r="7.9"/><circle cx="166.9" cy="1861.8" r="7.9"/><circle cx="209.8" cy="1871.8" r="7.9"/><circle cx="120.4" cy="1911.2" r="7.9"/><circle cx="141.9" cy="1872.5" r="7.9"/><circle cx="145.9" cy="1909.2" r="7.9"/><circle cx="259.7" cy="1833.4" r="7.9"/><circle cx="222.1" cy="1829.5" r="7.9"/><circle cx="202.1" cy="1857.2" r="7.9"/><circle cx="146.9" cy="1887.6" r="7.9"/><circle cx="162.1" cy="1870.7" r="7.9"/><circle cx="255.7" cy="1888.7" r="7.9"/><circle cx="216.8" cy="1895.5" r="7.9"/><circle cx="210.3" cy="1863.5" r="7.9"/><circle cx="198.5" cy="1837.5" r="7.9"/><circle cx="188.9" cy="1908.8" r="7.9"/><circle cx="276.5" cy="1850.5" r="7.9"/><circle cx="251.9" cy="1836.0" r="7.9"/><circle cx="114.2" cy="1900.0" r="7.9"/><circle cx="226.1" cy="1893.0" r="7.9"/><circle cx="123.6" cy="1901.9" r="7.9"/><circle cx="163.2" cy="1879.1" r="7.9"/><circle cx="246.4" cy="1850.7" r="7.9"/><circle cx="184.5" cy="1830.8" r="7.9"/><circle cx="185.6" cy="1901.2" r="7.9"/><circle cx="244.3" cy="1840.4" r="7.9"/><circle cx="178.9" cy="1839.2" r="7.9"/><circle cx="140.9" cy="1895.2" r="7.9"/><circle cx="146.1" cy="1862.3" r="7.9"/><circle cx="187.1" cy="1854.1" r="7.9"/><circle cx="210.5" cy="1910.2" r="7.9"/><circle cx="175.7" cy="1831.3" r="7.9"/><circle cx="262.3" cy="1841.6" r="7.9"/><circle cx="263.4" cy="1852.2" r="7.9"/><circle cx="236.2" cy="1837.9" r="7.9"/><circle cx="229.9" cy="1832.4" r="7.9"/><circle cx="169.9" cy="1895.8" r="7.9"/><circle cx="170.1" cy="1904.4" r="7.9"/><circle cx="124.1" cy="1893.6" r="7.9"/><circle cx="193.8" cy="1880.5" r="7.9"/><circle cx="162.2" cy="1902.1" r="7.9"/><circle cx="186.7" cy="1874.9" r="7.9"/><circle cx="132.4" cy="1903.7" r="7.9"/><circle cx="217.2" cy="1883.6" r="7.9"/><circle cx="259.3" cy="1881.3" r="7.9"/><circle cx="188.2" cy="1866.1" r="7.9"/><circle cx="159.1" cy="1889.2" r="7.9"/><circle cx="284.3" cy="1855.9" r="7.9"/><circle cx="217.7" cy="1821.1" r="7.9"/><circle cx="257.1" cy="1859.2" r="7.9"/><circle cx="202.0" cy="1878.0" r="7.9"/><circle cx="231.5" cy="1849.8" r="7.9"/><circle cx="205.1" cy="1845.8" r="7.9"/><circle cx="154.2" cy="1849.9" r="7.9"/><circle cx="212.4" cy="1852.5" r="7.9"/><circle cx="172.6" cy="1912.3" r="7.9"/><circle cx="239.1" cy="1884.1" r="7.9"/><circle cx="131.3" cy="1912.2" r="7.9"/><circle cx="238.5" cy="1868.1" r="7.9"/><circle cx="225.7" cy="1856.2" r="7.9"/><circle cx="184.9" cy="1883.8" r="7.9"/><circle cx="208.5" cy="1890.1" r="7.9"/><circle cx="211.7" cy="1833.2" r="7.9"/><circle cx="171.1" cy="1854.3" r="7.9"/><circle cx="221.0" cy="1904.7" r="7.9"/><circle cx="169.7" cy="1884.4" r="7.9"/><circle cx="168.6" cy="1840.4" r="7.9"/><circle cx="276.1" cy="1891.8" r="7.9"/><circle cx="235.0" cy="1858.0" r="7.9"/><circle cx="233.5" cy="1898.6" r="7.9"/><circle cx="163.5" cy="1849.0" r="7.9"/><circle cx="196.7" cy="1847.2" r="7.9"/><circle cx="156.9" cy="1910.7" r="7.9"/><circle cx="197.2" cy="1909.2" r="7.9"/><circle cx="156.2" cy="1839.5" r="7.9"/><circle cx="220.6" cy="1874.8" r="7.9"/><circle cx="946.7" cy="2049.2" r="7.9"/><circle cx="881.7" cy="2024.6" r="7.9"/><circle cx="907.9" cy="2011.7" r="7.9"/><circle cx="905.0" cy="2060.1" r="7.9"/><circle cx="955.4" cy="2028.5" r="7.9"/><circle cx="902.2" cy="2024.6" r="7.9"/><circle cx="891.0" cy="2028.4" r="7.9"/><circle cx="893.6" cy="2056.4" r="7.9"/><circle cx="837.1" cy="2037.9" r="7.9"/><circle cx="871.4" cy="2003.2" r="7.9"/><circle cx="877.4" cy="2041.1" r="7.9"/><circle cx="897.5" cy="2064.3" r="7.9"/><circle cx="931.1" cy="2068.0" r="7.9"/><circle cx="959.8" cy="2044.2" r="7.9"/><circle cx="919.5" cy="2011.8" r="7.9"/><circle cx="946.7" cy="2040.2" r="7.9"/><circle cx="977.1" cy="2018.4" r="7.9"/><circle cx="907.2" cy="2070.7" r="7.9"/><circle cx="856.6" cy="2058.6" r="7.9"/><circle cx="873.2" cy="2021.8" r="7.9"/><circle cx="867.0" cy="2045.7" r="7.9"/><circle cx="900.3" cy="1999.3" r="7.9"/><circle cx="938.6" cy="2044.8" r="7.9"/><circle cx="900.1" cy="2007.8" r="7.9"/><circle cx="937.0" cy="2053.0" r="7.9"/><circle cx="853.1" cy="2066.0" r="7.9"/><circle cx="900.1" cy="2076.8" r="7.9"/><circle cx="955.8" cy="2036.9" r="7.9"/><circle cx="975.0" cy="2027.5" r="7.9"/><circle cx="904.4" cy="2040.8" r="7.9"/><circle cx="881.0" cy="2016.4" r="7.9"/><circle cx="930.7" cy="1987.8" r="7.9"/><circle cx="940.7" cy="2030.9" r="7.9"/><circle cx="902.9" cy="2049.2" r="7.9"/><circle cx="884.6" cy="2064.5" r="7.9"/><circle cx="953.7" cy="2018.7" r="7.9"/><circle cx="879.3" cy="2057.8" r="7.9"/><circle cx="926.3" cy="2019.0" r="7.9"/><circle cx="929.0" cy="2008.7" r="7.9"/><circle cx="908.6" cy="2003.6" r="7.9"/><circle cx="912.4" cy="2019.2" r="7.9"/><circle cx="913.2" cy="2054.8" r="7.9"/><circle cx="886.9" cy="2042.2" r="7.9"/><circle cx="935.1" cy="2024.3" r="7.9"/><circle cx="907.6" cy="1992.5" r="7.9"/><circle cx="914.0" cy="2077.7" r="7.9"/><circle cx="891.6" cy="2071.0" r="7.9"/><circle cx="863.2" cy="2069.6" r="7.9"/><circle cx="975.3" cy="2036.9" r="7.9"/><circle cx="873.1" cy="2064.0" r="7.9"/><circle cx="852.7" cy="2043.0" r="7.9"/><circle cx="894.5" cy="2047.9" r="7.9"/><circle cx="921.3" cy="2030.0" r="7.9"/><circle cx="928.2" cy="2039.2" r="7.9"/><circle cx="843.5" cy="2043.2" r="7.9"/><circle cx="975.2" cy="2049.9" r="7.9"/><circle cx="892.7" cy="1994.3" r="7.9"/><circle cx="881.3" cy="2033.5" r="7.9"/><circle cx="922.6" cy="2072.2" r="7.9"/><circle cx="892.0" cy="2015.5" r="7.9"/><circle cx="870.5" cy="2054.2" r="7.9"/><circle cx="873.6" cy="2011.1" r="7.9"/><circle cx="965.1" cy="2022.5" r="7.9"/><circle cx="921.1" cy="2063.2" r="7.9"/><circle cx="850.7" cy="2052.4" r="7.9"/><circle cx="849.8" cy="2035.0" r="7.9"/><circle cx="882.1" cy="2049.5" r="7.9"/><circle cx="952.0" cy="2056.4" r="7.9"/><circle cx="863.1" cy="2004.5" r="7.9"/><circle cx="850.1" cy="2075.0" r="7.9"/><circle cx="936.7" cy="2012.8" r="7.9"/><circle cx="927.8" cy="2054.8" r="7.9"/><circle cx="863.1" cy="2014.3" r="7.9"/><circle cx="890.1" cy="2005.3" r="7.9"/><circle cx="965.6" cy="2036.7" r="7.9"/><circle cx="865.1" cy="2023.2" r="7.9"/><circle cx="879.8" cy="2081.5" r="7.9"/><circle cx="917.0" cy="2001.6" r="7.9"/><circle cx="894.6" cy="2038.6" r="7.9"/><circle cx="880.6" cy="2004.1" r="7.9"/><circle cx="943.4" cy="2020.2" r="7.9"/><circle cx="911.1" cy="2032.9" r="7.9"/><circle cx="871.1" cy="2033.4" r="7.9"/><circle cx="858.6" cy="2049.6" r="7.9"/><circle cx="861.3" cy="2033.0" r="7.9"/><circle cx="929.8" cy="2076.8" r="7.9"/><circle cx="932.6" cy="1998.0" r="7.9"/><circle cx="857.1" cy="2025.4" r="7.9"/><circle cx="916.5" cy="2045.1" r="7.9"/><circle cx="951.5" cy="1999.0" r="7.9"/><circle cx="840.8" cy="2057.9" r="7.9"/><circle cx="874.2" cy="2075.3" r="7.9"/><circle cx="332.8" cy="2204.6" r="7.9"/><circle cx="373.7" cy="2206.9" r="7.9"/><circle cx="330.7" cy="2180.7" r="7.9"/><circle cx="389.0" cy="2164.9" r="7.9"/><circle cx="362.6" cy="2162.5" r="7.9"/><circle cx="404.8" cy="2173.9" r="7.9"/><circle cx="339.0" cy="2198.1" r="7.9"/><circle cx="321.6" cy="2196.9" r="7.9"/><circle cx="350.7" cy="2162.0" r="7.9"/><circle cx="297.8" cy="2191.3" r="7.9"/><circle cx="371.5" cy="2196.3" r="7.9"/><circle cx="328.8" cy="2126.9" r="7.9"/><circle cx="367.7" cy="2156.0" r="7.9"/><circle cx="317.1" cy="2147.7" r="7.9"/><circle cx="302.7" cy="2198.8" r="7.9"/><circle cx="396.1" cy="2146.7" r="7.9"/><circle cx="377.1" cy="2178.4" r="7.9"/><circle cx="325.1" cy="2173.9" r="7.9"/><circle cx="312.1" cy="2121.1" r="7.9"/><circle cx="361.4" cy="2199.5" r="7.9"/><circle cx="363.7" cy="2214.5" r="7.9"/><circle cx="391.3" cy="2196.3" r="7.9"/><circle cx="400.2" cy="2214.7" r="7.9"/><circle cx="370.5" cy="2126.2" r="7.9"/><circle cx="341.3" cy="2208.5" r="7.9"/><circle cx="352.3" cy="2210.5" r="7.9"/><circle cx="346.8" cy="2191.3" r="7.9"/><circle cx="283.9" cy="2143.3" r="7.9"/><circle cx="375.5" cy="2187.4" r="7.9"/><circle cx="363.1" cy="2147.9" r="7.9"/><circle cx="390.0" cy="2214.9" r="7.9"/><circle cx="301.9" cy="2151.5" r="7.9"/><circle cx="355.3" cy="2152.7" r="7.9"/><circle cx="324.3" cy="2155.5" r="7.9"/><circle cx="412.5" cy="2192.9" r="7.9"/><circle cx="301.1" cy="2181.0" r="7.9"/><circle cx="307.0" cy="2218.4" r="7.9"/><circle cx="331.6" cy="2218.4" r="7.9"/><circle cx="317.8" cy="2185.9" r="7.9"/><circle cx="327.3" cy="2145.9" r="7.9"/><circle cx="394.4" cy="2182.3" r="7.9"/><circle cx="298.5" cy="2169.7" r="7.9"/><circle cx="311.0" cy="2158.7" r="7.9"/><circle cx="381.5" cy="2216.3" r="7.9"/><circle cx="312.4" cy="2211.6" r="7.9"/><circle cx="357.2" cy="2222.5" r="7.9"/><circle cx="311.3" cy="2141.7" r="7.9"/><circle cx="399.9" cy="2192.3" r="7.9"/><circle cx="403.6" cy="2207.1" r="7.9"/><circle cx="309.4" cy="2168.8" r="7.9"/><circle cx="336.3" cy="2140.7" r="7.9"/><circle cx="355.4" cy="2169.5" r="7.9"/><circle cx="342.1" cy="2156.7" r="7.9"/><circle cx="347.2" cy="2172.2" r="7.9"/><circle cx="375.7" cy="2222.5" r="7.9"/><circle cx="320.8" cy="2122.9" r="7.9"/><circle cx="275.3" cy="2153.5" r="7.9"/><circle cx="381.8" cy="2194.2" r="7.9"/><circle cx="366.4" cy="2137.7" r="7.9"/><circle cx="372.5" cy="2163.9" r="7.9"/><circle cx="329.1" cy="2135.8" r="7.9"/><circle cx="417.8" cy="2182.9" r="7.9"/><circle cx="360.7" cy="2187.7" r="7.9"/><circle cx="286.2" cy="2152.9" r="7.9"/><circle cx="318.0" cy="2167.1" r="7.9"/><circle cx="294.1" cy="2198.8" r="7.9"/><circle cx="319.2" cy="2136.6" r="7.9"/><circle cx="355.3" cy="2139.0" r="7.9"/><circle cx="384.5" cy="2173.7" r="7.9"/><circle cx="402.2" cy="2155.2" r="7.9"/><circle cx="380.9" cy="2163.1" r="7.9"/><circle cx="405.4" cy="2183.5" r="7.9"/><circle cx="293.7" cy="2149.3" r="7.9"/><circle cx="300.8" cy="2142.8" r="7.9"/><circle cx="346.7" cy="2147.6" r="7.9"/><circle cx="414.2" cy="2175.3" r="7.9"/><circle cx="309.5" cy="2131.6" r="7.9"/><circle cx="333.9" cy="2190.8" r="7.9"/><circle cx="341.7" cy="2178.5" r="7.9"/><circle cx="337.3" cy="2169.5" r="7.9"/><circle cx="354.0" cy="2179.4" r="7.9"/><circle cx="409.8" cy="2201.3" r="7.9"/><circle cx="396.9" cy="2171.7" r="7.9"/><circle cx="344.8" cy="2138.0" r="7.9"/><circle cx="291.2" cy="2175.9" r="7.9"/><circle cx="385.6" cy="2186.3" r="7.9"/><circle cx="314.4" cy="2175.8" r="7.9"/><circle cx="413.6" cy="2221.5" r="7.9"/><circle cx="303.1" cy="2162.1" r="7.9"/><circle cx="288.6" cy="2136.5" r="7.9"/><circle cx="336.6" cy="2131.5" r="7.9"/><circle cx="291.6" cy="2184.6" r="7.9"/><circle cx="290.7" cy="2162.8" r="7.9"/><circle cx="318.5" cy="2217.9" r="7.9"/><circle cx="348.3" cy="2201.4" r="7.9"/><circle cx="408.4" cy="2162.1" r="7.9"/><circle cx="334.7" cy="2120.7" r="7.9"/><circle cx="301.6" cy="2134.6" r="7.9"/><circle cx="360.3" cy="2130.9" r="7.9"/><circle cx="394.1" cy="2139.1" r="7.9"/><circle cx="396.1" cy="2146.7" r="7.9"/><circle cx="335.7" cy="2150.8" r="7.9"/><circle cx="394.7" cy="2158.6" r="7.9"/><circle cx="366.4" cy="2169.8" r="7.9"/><circle cx="439.2" cy="2186.6" r="7.9"/><circle cx="284.5" cy="2190.3" r="7.9"/><circle cx="298.4" cy="2208.8" r="7.9"/><circle cx="308.0" cy="2190.7" r="7.9"/><circle cx="312.1" cy="2197.9" r="7.9"/><circle cx="330.0" cy="2163.7" r="7.9"/><circle cx="413.6" cy="2210.2" r="7.9"/><circle cx="323.0" cy="2210.8" r="7.9"/></g>
<g class="p"><circle cx="464.3" cy="1713.0" r="7.0" fill="#b9db57"/><circle cx="498.0" cy="1663.3" r="7.0" fill="#b9db57"/><circle cx="448.3" cy="1702.9" r="7.0" fill="#b9db57"/><circle cx="425.8" cy="1676.5" r="7.0" fill="#b9db57"/><circle cx="511.9" cy="1686.1" r="7.0" fill="#b9db57"/><circle cx="427.5" cy="1632.2" r="7.0" fill="#b9db57"/><circle cx="436.2" cy="1675.8" r="7.0" fill="#b9db57"/><circle cx="445.5" cy="1666.4" r="7.0" fill="#b9db57"/><circle cx="487.4" cy="1630.0" r="7.0" fill="#b9db57"/><circle cx="505.1" cy="1669.2" r="7.0" fill="#b9db57"/><circle cx="465.7" cy="1634.2" r="7.0" fill="#b9db57"/><circle cx="528.9" cy="1670.6" r="7.0" fill="#b9db57"/><circle cx="413.4" cy="1642.6" r="7.0" fill="#b9db57"/><circle cx="490.4" cy="1668.3" r="7.0" fill="#b9db57"/><circle cx="484.1" cy="1641.1" r="7.0" fill="#b9db57"/><circle cx="498.1" cy="1649.1" r="7.0" fill="#b9db57"/><circle cx="520.9" cy="1700.1" r="7.0" fill="#b9db57"/><circle cx="425.4" cy="1640.9" r="7.0" fill="#b9db57"/><circle cx="493.5" cy="1639.4" r="7.0" fill="#b9db57"/><circle cx="425.0" cy="1649.4" r="7.0" fill="#b9db57"/><circle cx="451.0" cy="1691.9" r="7.0" fill="#b9db57"/><circle cx="467.7" cy="1670.2" r="7.0" fill="#b9db57"/><circle cx="520.9" cy="1712.1" r="7.0" fill="#b9db57"/><circle cx="439.1" cy="1649.9" r="7.0" fill="#b9db57"/><circle cx="412.1" cy="1667.7" r="7.0" fill="#b9db57"/><circle cx="457.5" cy="1636.1" r="7.0" fill="#b9db57"/><circle cx="493.1" cy="1656.3" r="7.0" fill="#b9db57"/><circle cx="473.4" cy="1681.5" r="7.0" fill="#b9db57"/><circle cx="489.4" cy="1618.5" r="7.0" fill="#b9db57"/><circle cx="489.4" cy="1690.4" r="7.0" fill="#b9db57"/><circle cx="409.8" cy="1692.9" r="7.0" fill="#b9db57"/><circle cx="413.6" cy="1653.3" r="7.0" fill="#b9db57"/><circle cx="443.0" cy="1623.2" r="7.0" fill="#b9db57"/><circle cx="414.8" cy="1685.5" r="7.0" fill="#b9db57"/><circle cx="475.4" cy="1692.6" r="7.0" fill="#b9db57"/><circle cx="492.2" cy="1699.2" r="7.0" fill="#b9db57"/><circle cx="434.4" cy="1663.5" r="7.0" fill="#b9db57"/><circle cx="418.0" cy="1703.8" r="7.0" fill="#b9db57"/><circle cx="461.0" cy="1656.0" r="7.0" fill="#b9db57"/><circle cx="521.9" cy="1658.3" r="7.0" fill="#b9db57"/><circle cx="428.7" cy="1656.9" r="7.0" fill="#b9db57"/><circle cx="539.4" cy="1658.4" r="7.0" fill="#b9db57"/><circle cx="425.8" cy="1688.3" r="7.0" fill="#b9db57"/><circle cx="447.8" cy="1636.4" r="7.0" fill="#b9db57"/><circle cx="504.0" cy="1697.4" r="7.0" fill="#b9db57"/><circle cx="422.0" cy="1663.1" r="7.0" fill="#b9db57"/><circle cx="464.8" cy="1683.7" r="7.0" fill="#b9db57"/><circle cx="466.0" cy="1703.8" r="7.0" fill="#b9db57"/><circle cx="530.0" cy="1662.5" r="7.0" fill="#b9db57"/><circle cx="515.9" cy="1664.5" r="7.0" fill="#b9db57"/><circle cx="431.0" cy="1624.1" r="7.0" fill="#b9db57"/><circle cx="456.0" cy="1626.0" r="7.0" fill="#b9db57"/><circle cx="513.5" cy="1654.6" r="7.0" fill="#b9db57"/><circle cx="499.3" cy="1704.4" r="7.0" fill="#b9db57"/><circle cx="479.6" cy="1669.9" r="7.0" fill="#b9db57"/><circle cx="484.3" cy="1651.0" r="7.0" fill="#b9db57"/><circle cx="520.4" cy="1672.3" r="7.0" fill="#b9db57"/><circle cx="467.5" cy="1645.4" r="7.0" fill="#b9db57"/><circle cx="445.8" cy="1683.3" r="7.0" fill="#b9db57"/><circle cx="481.6" cy="1660.0" r="7.0" fill="#b9db57"/><circle cx="457.3" cy="1645.4" r="7.0" fill="#b9db57"/><circle cx="497.3" cy="1686.5" r="7.0" fill="#b9db57"/><circle cx="434.6" cy="1638.4" r="7.0" fill="#b9db57"/><circle cx="501.6" cy="1631.8" r="7.0" fill="#b9db57"/><circle cx="487.4" cy="1681.6" r="7.0" fill="#b9db57"/><circle cx="409.7" cy="1702.9" r="7.0" fill="#b9db57"/><circle cx="473.3" cy="1655.8" r="7.0" fill="#b9db57"/><circle cx="504.9" cy="1657.4" r="7.0" fill="#b9db57"/><circle cx="441.6" cy="1658.5" r="7.0" fill="#b9db57"/><circle cx="513.4" cy="1677.0" r="7.0" fill="#b9db57"/><circle cx="509.8" cy="1629.7" r="7.0" fill="#b9db57"/><circle cx="452.3" cy="1712.7" r="7.0" fill="#b9db57"/><circle cx="459.7" cy="1665.8" r="7.0" fill="#b9db57"/><circle cx="496.2" cy="1713.1" r="7.0" fill="#b9db57"/><circle cx="457.7" cy="1704.5" r="7.0" fill="#b9db57"/><circle cx="452.6" cy="1661.5" r="7.0" fill="#b9db57"/><circle cx="402.2" cy="1677.9" r="7.0" fill="#b9db57"/><circle cx="507.3" cy="1707.1" r="7.0" fill="#b9db57"/><circle cx="438.2" cy="1630.4" r="7.0" fill="#b9db57"/><circle cx="454.2" cy="1678.9" r="7.0" fill="#b9db57"/><circle cx="472.7" cy="1716.8" r="7.0" fill="#b9db57"/><circle cx="513.3" cy="1696.7" r="7.0" fill="#b9db57"/><circle cx="483.0" cy="1709.2" r="7.0" fill="#b9db57"/><circle cx="483.8" cy="1697.0" r="7.0" fill="#b9db57"/><circle cx="448.4" cy="1648.8" r="7.0" fill="#b9db57"/><circle cx="416.3" cy="1676.4" r="7.0" fill="#b9db57"/><circle cx="477.3" cy="1627.8" r="7.0" fill="#b9db57"/><circle cx="475.6" cy="1703.8" r="7.0" fill="#b9db57"/><circle cx="438.6" cy="1689.9" r="7.0" fill="#b9db57"/><circle cx="498.1" cy="1676.6" r="7.0" fill="#b9db57"/><circle cx="424.7" cy="1696.6" r="7.0" fill="#b9db57"/><circle cx="476.3" cy="1647.8" r="7.0" fill="#b9db57"/><circle cx="486.6" cy="1718.6" r="7.0" fill="#b9db57"/><circle cx="463.1" cy="1695.9" r="7.0" fill="#b9db57"/><circle cx="442.7" cy="1615.2" r="7.0" fill="#c957db"/><circle cx="443.0" cy="1622.6" r="7.0" fill="#b9db57"/><circle cx="507.9" cy="1647.8" r="7.0" fill="#c957db"/><circle cx="503.3" cy="1639.9" r="7.0" fill="#b9db57"/><circle cx="532.4" cy="1646.7" r="7.0" fill="#5784db"/><circle cx="430.0" cy="1716.8" r="7.0" fill="#5784db"/><circle cx="736.4" cy="1768.7" r="7.0" fill="#c957db"/><circle cx="734.5" cy="1759.6" r="7.0" fill="#c957db"/><circle cx="723.2" cy="1778.0" r="7.0" fill="#c957db"/><circle cx="736.5" cy="1734.6" r="7.0" fill="#c957db"/><circle cx="660.4" cy="1762.9" r="7.0" fill="#c957db"/><circle cx="628.2" cy="1730.4" r="7.0" fill="#c957db"/><circle cx="785.6" cy="1762.7" r="7.0" fill="#c957db"/><circle cx="796.0" cy="1770.3" r="7.0" fill="#c957db"/><circle cx="700.2" cy="1781.8" r="7.0" fill="#c957db"/><circle cx="733.9" cy="1777.9" r="7.0" fill="#c957db"/><circle cx="672.9" cy="1783.8" r="7.0" fill="#c957db"/><circle cx="726.3" cy="1751.2" r="7.0" fill="#c957db"/><circle cx="699.7" cy="1771.9" r="7.0" fill="#c957db"/><circle cx="636.2" cy="1754.7" r="7.0" fill="#c957db"/><circle cx="681.4" cy="1780.1" r="7.0" fill="#c957db"/><circle cx="739.7" cy="1752.6" r="7.0" fill="#c957db"/><circle cx="750.8" cy="1727.1" r="7.0" fill="#c957db"/><circle cx="680.5" cy="1755.7" r="7.0" fill="#c957db"/><circle cx="724.7" cy="1766.9" r="7.0" fill="#c957db"/><circle cx="692.1" cy="1768.7" r="7.0" fill="#c957db"/><circle cx="766.1" cy="1752.7" r="7.0" fill="#c957db"/><circle cx="780.3" cy="1749.5" r="7.0" fill="#c957db"/><circle cx="744.8" cy="1793.7" r="7.0" fill="#c957db"/><circle cx="766.6" cy="1791.9" r="7.0" fill="#c957db"/><circle cx="744.1" cy="1763.0" r="7.0" fill="#c957db"/><circle cx="714.0" cy="1765.7" r="7.0" fill="#c957db"/><circle cx="768.8" cy="1744.5" r="7.0" fill="#c957db"/><circle cx="664.4" cy="1738.9" r="7.0" fill="#c957db"/><circle cx="695.9" cy="1740.7" r="7.0" fill="#c957db"/><circle cx="707.7" cy="1759.3" r="7.0" fill="#c957db"/><circle cx="645.6" cy="1744.9" r="7.0" fill="#c957db"/><circle cx="773.1" cy="1730.4" r="7.0" fill="#c957db"/><circle cx="726.9" cy="1788.4" r="7.0" fill="#c957db"/><circle cx="717.7" cy="1755.7" r="7.0" fill="#c957db"/><circle cx="789.2" cy="1749.2" r="7.0" fill="#c957db"/><circle cx="768.6" cy="1780.4" r="7.0" fill="#c957db"/><circle cx="776.4" cy="1757.6" r="7.0" fill="#c957db"/><circle cx="694.8" cy="1721.8" r="7.0" fill="#c957db"/><circle cx="803.2" cy="1760.5" r="7.0" fill="#c957db"/><circle cx="715.6" cy="1733.0" r="7.0" fill="#c957db"/><circle cx="784.5" cy="1788.2" r="7.0" fill="#c957db"/><circle cx="737.5" cy="1786.2" r="7.0" fill="#c957db"/><circle cx="663.7" cy="1786.2" r="7.0" fill="#c957db"/><circle cx="648.6" cy="1726.8" r="7.0" fill="#c957db"/><circle cx="659.3" cy="1751.2" r="7.0" fill="#c957db"/><circle cx="795.7" cy="1794.8" r="7.0" fill="#c957db"/><circle cx="750.5" cy="1737.5" r="7.0" fill="#c957db"/><circle cx="650.7" cy="1769.1" r="7.0" fill="#c957db"/><circle cx="748.4" cy="1786.2" r="7.0" fill="#c957db"/><circle cx="682.4" cy="1767.6" r="7.0" fill="#c957db"/><circle cx="708.1" cy="1784.8" r="7.0" fill="#c957db"/><circle cx="759.7" cy="1747.2" r="7.0" fill="#c957db"/><circle cx="730.1" cy="1743.5" r="7.0" fill="#c957db"/><circle cx="754.0" cy="1756.4" r="7.0" fill="#c957db"/><circle cx="696.8" cy="1750.1" r="7.0" fill="#c957db"/><circle cx="674.2" cy="1741.3" r="7.0" fill="#c957db"/><circle cx="777.8" cy="1777.2" r="7.0" fill="#c957db"/><circle cx="763.8" cy="1737.4" r="7.0" fill="#c957db"/><circle cx="796.5" cy="1780.7" r="7.0" fill="#c957db"/><circle cx="756.2" cy="1794.6" r="7.0" fill="#c957db"/><circle cx="699.5" cy="1760.3" r="7.0" fill="#c957db"/><circle cx="703.9" cy="1742.9" r="7.0" fill="#c957db"/><circle cx="690.5" cy="1787.3" r="7.0" fill="#c957db"/><circle cx="670.9" cy="1754.2" r="7.0" fill="#c957db"/><circle cx="687.7" cy="1745.3" r="7.0" fill="#c957db"/><circle cx="691.6" cy="1757.0" r="7.0" fill="#c957db"/><circle cx="739.0" cy="1726.4" r="7.0" fill="#c957db"/><circle cx="716.7" cy="1784.6" r="7.0" fill="#c957db"/><circle cx="673.7" cy="1763.8" r="7.0" fill="#c957db"/><circle cx="721.6" cy="1834.9" r="7.0" fill="#c957db"/><circle cx="757.5" cy="1768.7" r="7.0" fill="#c957db"/><circle cx="708.3" cy="1750.9" r="7.0" fill="#c957db"/><circle cx="788.6" cy="1777.8" r="7.0" fill="#c957db"/><circle cx="739.0" cy="1744.3" r="7.0" fill="#c957db"/><circle cx="747.5" cy="1749.3" r="7.0" fill="#c957db"/><circle cx="642.2" cy="1770.1" r="7.0" fill="#c957db"/><circle cx="657.5" cy="1730.9" r="7.0" fill="#c957db"/><circle cx="750.2" cy="1772.6" r="7.0" fill="#c957db"/><circle cx="707.7" cy="1724.6" r="7.0" fill="#c957db"/><circle cx="687.9" cy="1728.9" r="7.0" fill="#c957db"/><circle cx="769.4" cy="1765.1" r="7.0" fill="#c957db"/><circle cx="651.7" cy="1737.2" r="7.0" fill="#c957db"/><circle cx="682.7" cy="1738.6" r="7.0" fill="#c957db"/><circle cx="779.3" cy="1768.9" r="7.0" fill="#c957db"/><circle cx="746.3" cy="1719.7" r="7.0" fill="#c957db"/><circle cx="710.5" cy="1776.3" r="7.0" fill="#c957db"/><circle cx="671.3" cy="1730.8" r="7.0" fill="#c957db"/><circle cx="776.9" cy="1791.7" r="7.0" fill="#c957db"/><circle cx="661.5" cy="1711.7" r="7.0" fill="#c957db"/><circle cx="764.5" cy="1801.1" r="7.0" fill="#c957db"/><circle cx="692.7" cy="1778.4" r="7.0" fill="#c957db"/><circle cx="742.0" cy="1775.4" r="7.0" fill="#c957db"/><circle cx="725.2" cy="1736.0" r="7.0" fill="#c957db"/><circle cx="660.6" cy="1771.3" r="7.0" fill="#c957db"/><circle cx="670.3" cy="1771.4" r="7.0" fill="#c957db"/><circle cx="704.9" cy="1803.4" r="7.0" fill="#5784db"/><circle cx="650.8" cy="1759.0" r="7.0" fill="#5784db"/><circle cx="759.2" cy="1724.0" r="7.0" fill="#5784db"/><circle cx="792.4" cy="1757.7" r="7.0" fill="#5784db"/><circle cx="759.2" cy="1786.9" r="7.0" fill="#5784db"/><circle cx="758.1" cy="1777.6" r="7.0" fill="#c957db"/><circle cx="774.8" cy="1799.7" r="7.0" fill="#5784db"/><circle cx="786.4" cy="1803.4" r="7.0" fill="#5784db"/><circle cx="142.7" cy="1917.5" r="7.0" fill="#db5f57"/><circle cx="220.7" cy="1865.0" r="7.0" fill="#db5f57"/><circle cx="186.5" cy="1838.9" r="7.0" fill="#db5f57"/><circle cx="194.9" cy="1871.1" r="7.0" fill="#db5f57"/><circle cx="193.4" cy="1892.5" r="7.0" fill="#db5f57"/><circle cx="133.7" cy="1886.3" r="7.0" fill="#db5f57"/><circle cx="218.1" cy="1844.9" r="7.0" fill="#db5f57"/><circle cx="242.6" cy="1859.5" r="7.0" fill="#db5f57"/><circle cx="264.5" cy="1874.2" r="7.0" fill="#db5f57"/><circle cx="200.9" cy="1865.2" r="7.0" fill="#db5f57"/><circle cx="178.9" cy="1892.1" r="7.0" fill="#db5f57"/><circle cx="269.5" cy="1843.7" r="7.0" fill="#db5f57"/><circle cx="124.9" cy="1882.8" r="7.0" fill="#db5f57"/><circle cx="115.5" cy="1885.0" r="7.0" fill="#db5f57"/><circle cx="253.5" cy="1845.9" r="7.0" fill="#db5f57"/><circle cx="150.1" cy="1900.1" r="7.0" fill="#db5f57"/><circle cx="251.4" cy="1873.8" r="7.0" fill="#db5f57"/><circle cx="149.6" cy="1878.1" r="7.0" fill="#db5f57"/><circle cx="228.4" cy="1876.8" r="7.0" fill="#db5f57"/><circle cx="180.3" cy="1859.8" r="7.0" fill="#db5f57"/><circle cx="249.9" cy="1864.3" r="7.0" fill="#db5f57"/><circle cx="230.2" cy="1823.6" r="7.0" fill="#db5f57"/><circle cx="131.9" cy="1919.9" r="7.0" fill="#db5f57"/><circle cx="155.9" cy="1857.3" r="7.0" fill="#db5f57"/><circle cx="266.9" cy="1887.6" r="7.0" fill="#db5f57"/><circle cx="268.1" cy="1901.4" r="7.0" fill="#db5f57"/><circle cx="150.9" cy="1869.6" r="7.0" fill="#db5f57"/><circle cx="265.6" cy="1865.4" r="7.0" fill="#db5f57"/><circle cx="177.7" cy="1905.7" r="7.0" fill="#db5f57"/><circle cx="173.0" cy="1866.1" r="7.0" fill="#db5f57"/><circle cx="155.4" cy="1918.8" r="7.0" fill="#db5f57"/><circle cx="135.2" cy="1878.0" r="7.0" fill="#db5f57"/><circle cx="197.4" cy="1828.7" r="7.0" fill="#db5f57"/><circle cx="176.0" cy="1846.9" r="7.0" fill="#db5f57"/><circle cx="243.4" cy="1876.7" r="7.0" fill="#db5f57"/><circle cx="204.3" cy="1900.1" r="7.0" fill="#db5f57"/><circle cx="260.3" cy="1894.6" r="7.0" fill="#db5f57"/><circle cx="177.3" cy="1876.7" r="7.0" fill="#db5f57"/><circle cx="273.2" cy="1860.4" r="7.0" fill="#db5f57"/><circle cx="166.1" cy="1861.2" r="7.0" fill="#db5f57"/><circle cx="209.0" cy="1871.2" r="7.0" fill="#db5f57"/><circle cx="119.6" cy="1910.6" r="7.0" fill="#db5f57"/><circle cx="141.1" cy="1871.9" r="7.0" fill="#db5f57"/><circle cx="145.1" cy="1908.6" r="7.0" fill="#db5f57"/><circle cx="258.9" cy="1832.8" r="7.0" fill="#db5f57"/><circle cx="221.3" cy="1828.9" r="7.0" fill="#db5f57"/><circle cx="201.3" cy="1856.6" r="7.0" fill="#db5f57"/><circle cx="146.1" cy="1887.0" r="7.0" fill="#db5f57"/><circle cx="161.3" cy="1870.1" r="7.0" fill="#db5f57"/><circle cx="254.9" cy="1888.1" r="7.0" fill="#db5f57"/><circle cx="216.0" cy="1894.9" r="7.0" fill="#db5f57"/><circle cx="209.5" cy="1862.9" r="7.0" fill="#db5f57"/><circle cx="197.7" cy="1836.9" r="7.0" fill="#db5f57"/><circle cx="188.1" cy="1908.2" r="7.0" fill="#db5f57"/><circle cx="275.7" cy="1849.9" r="7.0" fill="#db5f57"/><circle cx="251.1" cy="1835.4" r="7.0" fill="#db5f57"/><circle cx="113.4" cy="1899.4" r="7.0" fill="#db5f57"/><circle cx="225.3" cy="1892.4" r="7.0" fill="#db5f57"/><circle cx="122.8" cy="1901.3" r="7.0" fill="#db5f57"/><circle cx="162.4" cy="1878.5" r="7.0" fill="#db5f57"/><circle cx="245.6" cy="1850.1" r="7.0" fill="#db5f57"/><circle cx="183.7" cy="1830.2" r="7.0" fill="#db5f57"/><circle cx="184.8" cy="1900.6" r="7.0" fill="#db5f57"/><circle cx="243.5" cy="1839.8" r="7.0" fill="#db5f57"/><circle cx="178.1" cy="1838.6" r="7.0" fill="#db5f57"/><circle cx="140.1" cy="1894.6" r="7.0" fill="#db5f57"/><circle cx="145.3" cy="1861.7" r="7.0" fill="#db5f57"/><circle cx="186.3" cy="1853.5" r="7.0" fill="#db5f57"/><circle cx="209.7" cy="1909.6" r="7.0" fill="#db5f57"/><circle cx="174.9" cy="1830.7" r="7.0" fill="#db5f57"/><circle cx="261.5" cy="1841.0" r="7.0" fill="#db5f57"/><circle cx="262.6" cy="1851.6" r="7.0" fill="#db5f57"/><circle cx="235.4" cy="1837.3" r="7.0" fill="#db5f57"/><circle cx="229.1" cy="1831.8" r="7.0" fill="#db5f57"/><circle cx="169.1" cy="1895.2" r="7.0" fill="#db5f57"/><circle cx="169.3" cy="1903.8" r="7.0" fill="#db5f57"/><circle cx="123.3" cy="1893.0" r="7.0" fill="#db5f57"/><circle cx="193.0" cy="1879.9" r="7.0" fill="#db5f57"/><circle cx="161.4" cy="1901.5" r="7.0" fill="#db5f57"/><circle cx="185.9" cy="1874.3" r="7.0" fill="#db5f57"/><circle cx="131.6" cy="1903.1" r="7.0" fill="#db5f57"/><circle cx="216.4" cy="1883.0" r="7.0" fill="#db5f57"/><circle cx="258.5" cy="1880.7" r="7.0" fill="#db5f57"/><circle cx="187.4" cy="1865.5" r="7.0" fill="#db5f57"/><circle cx="158.3" cy="1888.6" r="7.0" fill="#db5f57"/><circle cx="283.5" cy="1855.3" r="7.0" fill="#db5f57"/><circle cx="216.9" cy="1820.5" r="7.0" fill="#db5f57"/><circle cx="256.3" cy="1858.6" r="7.0" fill="#db5f57"/><circle cx="201.2" cy="1877.4" r="7.0" fill="#db5f57"/><circle cx="230.7" cy="1849.2" r="7.0" fill="#db5f57"/><circle cx="204.3" cy="1845.2" r="7.0" fill="#db5f57"/><circle cx="153.4" cy="1849.3" r="7.0" fill="#db5f57"/><circle cx="211.6" cy="1851.9" r="7.0" fill="#db5f57"/><circle cx="171.8" cy="1911.7" r="7.0" fill="#db5f57"/><circle cx="238.3" cy="1883.5" r="7.0" fill="#db5f57"/><circle cx="130.5" cy="1911.6" r="7.0" fill="#db5f57"/><circle cx="237.7" cy="1867.5" r="7.0" fill="#db5f57"/><circle cx="224.9" cy="1855.6" r="7.0" fill="#db5f57"/><circle cx="184.1" cy="1883.2" r="7.0" fill="#db5f57"/><circle cx="207.7" cy="1889.5" r="7.0" fill="#db5f57"/><circle cx="210.9" cy="1832.6" r="7.0" fill="#db5f57"/><circle cx="170.3" cy="1853.7" r="7.0" fill="#db5f57"/><circle cx="220.2" cy="1904.1" r="7.0" fill="#db5f57"/><circle cx="168.9" cy="1883.8" r="7.0" fill="#db5f57"/><circle cx="167.8" cy="1839.8" r="7.0" fill="#db5f57"/><circle cx="275.3" cy="1891.2" r="7.0" fill="#db5f57"/><circle cx="234.2" cy="1857.4" r="7.0" fill="#db5f57"/><circle cx="232.7" cy="1898.0" r="7.0" fill="#db5f57"/><circle cx="162.7" cy="1848.4" r="7.0" fill="#db5f57"/><circle cx="195.9" cy="1846.6" r="7.0" fill="#db5f57"/><circle cx="156.1" cy="1910.1" r="7.0" fill="#db5f57"/><circle cx="196.4" cy="1908.6" r="7.0" fill="#db5f57"/><circle cx="155.4" cy="1838.9" r="7.0" fill="#db5f57"/><circle cx="219.8" cy="1874.2" r="7.0" fill="#db5f57"/><circle cx="945.9" cy="2048.6" r="7.0" fill="#57db94"/><circle cx="880.9" cy="2024.0" r="7.0" fill="#57db94"/><circle cx="907.1" cy="2011.1" r="7.0" fill="#57db94"/><circle cx="904.2" cy="2059.5" r="7.0" fill="#57db94"/><circle cx="954.6" cy="2027.9" r="7.0" fill="#57db94"/><circle cx="901.4" cy="2024.0" r="7.0" fill="#57db94"/><circle cx="890.2" cy="2027.8" r="7.0" fill="#57db94"/><circle cx="892.8" cy="2055.8" r="7.0" fill="#57db94"/><circle cx="836.3" cy="2037.3" r="7.0" fill="#57db94"/><circle cx="870.6" cy="2002.6" r="7.0" fill="#57db94"/><circle cx="876.6" cy="2040.5" r="7.0" fill="#57db94"/><circle cx="896.7" cy="2063.7" r="7.0" fill="#57db94"/><circle cx="930.3" cy="2067.4" r="7.0" fill="#57db94"/><circle cx="959.0" cy="2043.6" r="7.0" fill="#57db94"/><circle cx="918.7" cy="2011.2" r="7.0" fill="#57db94"/><circle cx="945.9" cy="2039.6" r="7.0" fill="#57db94"/><circle cx="976.3" cy="2017.8" r="7.0" fill="#57db94"/><circle cx="906.4" cy="2070.1" r="7.0" fill="#57db94"/><circle cx="855.8" cy="2058.0" r="7.0" fill="#57db94"/><circle cx="872.4" cy="2021.2" r="7.0" fill="#57db94"/><circle cx="866.2" cy="2045.1" r="7.0" fill="#57db94"/><circle cx="899.5" cy="1998.7" r="7.0" fill="#57db94"/><circle cx="937.8" cy="2044.2" r="7.0" fill="#57db94"/><circle cx="899.3" cy="2007.2" r="7.0" fill="#57db94"/><circle cx="936.2" cy="2052.4" r="7.0" fill="#57db94"/><circle cx="852.3" cy="2065.4" r="7.0" fill="#57db94"/><circle cx="899.3" cy="2076.2" r="7.0" fill="#57db94"/><circle cx="955.0" cy="2036.3" r="7.0" fill="#57db94"/><circle cx="974.2" cy="2026.9" r="7.0" fill="#57db94"/><circle cx="903.6" cy="2040.2" r="7.0" fill="#57db94"/><circle cx="880.2" cy="2015.8" r="7.0" fill="#57db94"/><circle cx="929.9" cy="1987.2" r="7.0" fill="#57db94"/><circle cx="939.9" cy="2030.3" r="7.0" fill="#57db94"/><circle cx="902.1" cy="2048.6" r="7.0" fill="#57db94"/><circle cx="883.8" cy="2063.9" r="7.0" fill="#57db94"/><circle cx="952.9" cy="2018.1" r="7.0" fill="#57db94"/><circle cx="878.5" cy="2057.2" r="7.0" fill="#57db94"/><circle cx="925.5" cy="2018.4" r="7.0" fill="#57db94"/><circle cx="928.2" cy="2008.1" r="7.0" fill="#57db94"/><circle cx="907.8" cy="2003.0" r="7.0" fill="#57db94"/><circle cx="911.6" cy="2018.6" r="7.0" fill="#57db94"/><circle cx="912.4" cy="2054.2" r="7.0" fill="#57db94"/><circle cx="886.1" cy="2041.6" r="7.0" fill="#57db94"/><circle cx="934.3" cy="2023.7" r="7.0" fill="#57db94"/><circle cx="906.8" cy="1991.9" r="7.0" fill="#57db94"/><circle cx="913.2" cy="2077.1" r="7.0" fill="#57db94"/><circle cx="890.8" cy="2070.4" r="7.0" fill="#57db94"/><circle cx="862.4" cy="2069.0" r="7.0" fill="#57db94"/><circle cx="974.5" cy="2036.3" r="7.0" fill="#57db94"/><circle cx="872.3" cy="2063.4" r="7.0" fill="#57db94"/><circle cx="851.9" cy="2042.4" r="7.0" fill="#57db94"/><circle cx="893.7" cy="2047.3" r="7.0" fill="#57db94"/><circle cx="920.5" cy="2029.4" r="7.0" fill="#57db94"/><circle cx="927.4" cy="2038.6" r="7.0" fill="#57db94"/><circle cx="842.7" cy="2042.6" r="7.0" fill="#57db94"/><circle cx="974.4" cy="2049.3" r="7.0" fill="#57db94"/><circle cx="891.9" cy="1993.7" r="7.0" fill="#57db94"/><circle cx="880.5" cy="2032.9" r="7.0" fill="#57db94"/><circle cx="921.8" cy="2071.6" r="7.0" fill="#57db94"/><circle cx="891.2" cy="2014.9" r="7.0" fill="#57db94"/><circle cx="869.7" cy="2053.6" r="7.0" fill="#57db94"/><circle cx="872.8" cy="2010.5" r="7.0" fill="#57db94"/><circle cx="964.3" cy="2021.9" r="7.0" fill="#57db94"/><circle cx="920.3" cy="2062.6" r="7.0" fill="#57db94"/><circle cx="849.9" cy="2051.8" r="7.0" fill="#57db94"/><circle cx="849.0" cy="2034.4" r="7.0" fill="#57db94"/><circle cx="881.3" cy="2048.9" r="7.0" fill="#57db94"/><circle cx="951.2" cy="2055.8" r="7.0" fill="#57db94"/><circle cx="862.3" cy="2003.9" r="7.0" fill="#57db94"/><circle cx="849.3" cy="2074.4" r="7.0" fill="#57db94"/><circle cx="935.9" cy="2012.2" r="7.0" fill="#57db94"/><circle cx="927.0" cy="2054.2" r="7.0" fill="#57db94"/><circle cx="862.3" cy="2013.7" r="7.0" fill="#57db94"/><circle cx="889.3" cy="2004.7" r="7.0" fill="#57db94"/><circle cx="964.8" cy="2036.1" r="7.0" fill="#57db94"/><circle cx="864.3" cy="2022.6" r="7.0" fill="#57db94"/><circle cx="879.0" cy="2080.9" r="7.0" fill="#57db94"/><circle cx="916.2" cy="2001.0" r="7.0" fill="#57db94"/><circle cx="893.8" cy="2038.0" r="7.0" fill="#57db94"/><circle cx="879.8" cy="2003.5" r="7.0" fill="#57db94"/><circle cx="942.6" cy="2019.6" r="7.0" fill="#57db94"/><circle cx="910.3" cy="2032.3" r="7.0" fill="#57db94"/><circle cx="870.3" cy="2032.8" r="7.0" fill="#57db94"/><circle cx="857.8" cy="2049.0" r="7.0" fill="#57db94"/><circle cx="860.5" cy="2032.4" r="7.0" fill="#57db94"/><circle cx="929.0" cy="2076.2" r="7.0" fill="#57db94"/><circle cx="931.8" cy="1997.4" r="7.0" fill="#57db94"/><circle cx="856.3" cy="2024.8" r="7.0" fill="#57db94"/><circle cx="915.7" cy="2044.5" r="7.0" fill="#57db94"/><circle cx="950.7" cy="1998.4" r="7.0" fill="#b9db57"/><circle cx="840.0" cy="2057.3" r="7.0" fill="#b9db57"/><circle cx="873.4" cy="2074.7" r="7.0" fill="#b9db57"/><circle cx="332.0" cy="2204.0" r="7.0" fill="#5784db"/><circle cx="372.9" cy="2206.3" r="7.0" fill="#5784db"/><circle cx="329.9" cy="2180.1" r="7.0" fill="#5784db"/><circle cx="388.2" cy="2164.3" r="7.0" fill="#5784db"/><circle cx="361.8" cy="2161.9" r="7.0" fill="#5784db"/><circle cx="404.0" cy="2173.3" r="7.0" fill="#5784db"/><circle cx="338.2" cy="2197.5" r="7.0" fill="#5784db"/><circle cx="320.8" cy="2196.3" r="7.0" fill="#5784db"/><circle cx="349.9" cy="2161.4" r="7.0" fill="#5784db"/><circle cx="297.0" cy="2190.7" r="7.0" fill="#5784db"/><circle cx="370.7" cy="2195.7" r="7.0" fill="#5784db"/><circle cx="328.0" cy="2126.3" r="7.0" fill="#5784db"/><circle cx="366.9" cy="2155.4" r="7.0" fill="#5784db"/><circle cx="316.3" cy="2147.1" r="7.0" fill="#5784db"/><circle cx="301.9" cy="2198.2" r="7.0" fill="#5784db"/><circle cx="395.3" cy="2146.1" r="7.0" fill="#5784db"/><circle cx="376.3" cy="2177.8" r="7.0" fill="#5784db"/><circle cx="324.3" cy="2173.3" r="7.0" fill="#5784db"/><circle cx="311.3" cy="2120.5" r="7.0" fill="#5784db"/><circle cx="360.6" cy="2198.9" r="7.0" fill="#5784db"/><circle cx="362.9" cy="2213.9" r="7.0" fill="#5784db"/><circle cx="390.5" cy="2195.7" r="7.0" fill="#5784db"/><circle cx="399.4" cy="2214.1" r="7.0" fill="#5784db"/><circle cx="369.7" cy="2125.6" r="7.0" fill="#5784db"/><circle cx="340.5" cy="2207.9" r="7.0" fill="#5784db"/><circle cx="351.5" cy="2209.9" r="7.0" fill="#5784db"/><circle cx="346.0" cy="2190.7" r="7.0" fill="#5784db"/><circle cx="283.1" cy="2142.7" r="7.0" fill="#5784db"/><circle cx="374.7" cy="2186.8" r="7.0" fill="#5784db"/><circle cx="362.3" cy="2147.3" r="7.0" fill="#5784db"/><circle cx="389.2" cy="2214.3" r="7.0" fill="#5784db"/><circle cx="301.1" cy="2150.9" r="7.0" fill="#5784db"/><circle cx="354.5" cy="2152.1" r="7.0" fill="#5784db"/><circle cx="323.5" cy="2154.9" r="7.0" fill="#5784db"/><circle cx="411.7" cy="2192.3" r="7.0" fill="#5784db"/><circle cx="300.3" cy="2180.4" r="7.0" fill="#5784db"/><circle cx="306.2" cy="2217.8" r="7.0" fill="#5784db"/><circle cx="330.8" cy="2217.8" r="7.0" fill="#5784db"/><circle cx="317.0" cy="2185.3" r="7.0" fill="#5784db"/><circle cx="326.5" cy="2145.3" r="7.0" fill="#5784db"/><circle cx="393.6" cy="2181.7" r="7.0" fill="#5784db"/><circle cx="297.7" cy="2169.1" r="7.0" fill="#5784db"/><circle cx="310.2" cy="2158.1" r="7.0" fill="#5784db"/><circle cx="380.7" cy="2215.7" r="7.0" fill="#5784db"/><circle cx="311.6" cy="2211.0" r="7.0" fill="#5784db"/><circle cx="356.4" cy="2221.9" r="7.0" fill="#5784db"/><circle cx="310.5" cy="2141.1" r="7.0" fill="#5784db"/><circle cx="399.1" cy="2191.7" r="7.0" fill="#5784db"/><circle cx="402.8" cy="2206.5" r="7.0" fill="#5784db"/><circle cx="308.6" cy="2168.2" r="7.0" fill="#5784db"/><circle cx="335.5" cy="2140.1" r="7.0" fill="#5784db"/><circle cx="354.6" cy="2168.9" r="7.0" fill="#5784db"/><circle cx="341.3" cy="2156.1" r="7.0" fill="#5784db"/><circle cx="346.4" cy="2171.6" r="7.0" fill="#5784db"/><circle cx="374.9" cy="2221.9" r="7.0" fill="#5784db"/><circle cx="320.0" cy="2122.3" r="7.0" fill="#5784db"/><circle cx="274.5" cy="2152.9" r="7.0" fill="#5784db"/><circle cx="381.0" cy="2193.6" r="7.0" fill="#5784db"/><circle cx="365.6" cy="2137.1" r="7.0" fill="#5784db"/><circle cx="371.7" cy="2163.3" r="7.0" fill="#5784db"/><circle cx="328.3" cy="2135.2" r="7.0" fill="#5784db"/><circle cx="417.0" cy="2182.3" r="7.0" fill="#5784db"/><circle cx="359.9" cy="2187.1" r="7.0" fill="#5784db"/><circle cx="285.4" cy="2152.3" r="7.0" fill="#5784db"/><circle cx="317.2" cy="2166.5" r="7.0" fill="#5784db"/><circle cx="293.3" cy="2198.2" r="7.0" fill="#5784db"/><circle cx="318.4" cy="2136.0" r="7.0" fill="#5784db"/><circle cx="354.5" cy="2138.4" r="7.0" fill="#5784db"/><circle cx="383.7" cy="2173.1" r="7.0" fill="#5784db"/><circle cx="401.4" cy="2154.6" r="7.0" fill="#5784db"/><circle cx="380.1" cy="2162.5" r="7.0" fill="#5784db"/><circle cx="404.6" cy="2182.9" r="7.0" fill="#5784db"/><circle cx="292.9" cy="2148.7" r="7.0" fill="#5784db"/><circle cx="300.0" cy="2142.2" r="7.0" fill="#5784db"/><circle cx="345.9" cy="2147.0" r="7.0" fill="#5784db"/><circle cx="413.4" cy="2174.7" r="7.0" fill="#5784db"/><circle cx="308.7" cy="2131.0" r="7.0" fill="#5784db"/><circle cx="333.1" cy="2190.2" r="7.0" fill="#5784db"/><circle cx="340.9" cy="2177.9" r="7.0" fill="#5784db"/><circle cx="336.5" cy="2168.9" r="7.0" fill="#5784db"/><circle cx="353.2" cy="2178.8" r="7.0" fill="#5784db"/><circle cx="409.0" cy="2200.7" r="7.0" fill="#5784db"/><circle cx="396.1" cy="2171.1" r="7.0" fill="#5784db"/><circle cx="344.0" cy="2137.4" r="7.0" fill="#5784db"/><circle cx="290.4" cy="2175.3" r="7.0" fill="#5784db"/><circle cx="384.8" cy="2185.7" r="7.0" fill="#5784db"/><circle cx="313.6" cy="2175.2" r="7.0" fill="#5784db"/><circle cx="412.8" cy="2220.9" r="7.0" fill="#5784db"/><circle cx="302.3" cy="2161.5" r="7.0" fill="#5784db"/><circle cx="287.8" cy="2135.9" r="7.0" fill="#5784db"/><circle cx="335.8" cy="2130.9" r="7.0" fill="#5784db"/><circle cx="290.8" cy="2184.0" r="7.0" fill="#5784db"/><circle cx="289.9" cy="2162.2" r="7.0" fill="#5784db"/><circle cx="317.7" cy="2217.3" r="7.0" fill="#5784db"/><circle cx="347.5" cy="2200.8" r="7.0" fill="#5784db"/><circle cx="407.6" cy="2161.5" r="7.0" fill="#5784db"/><circle cx="333.9" cy="2120.1" r="7.0" fill="#5784db"/><circle cx="300.8" cy="2134.0" r="7.0" fill="#5784db"/><circle cx="359.5" cy="2130.3" r="7.0" fill="#c957db"/><circle cx="393.3" cy="2138.5" r="7.0" fill="#c957db"/><circle cx="395.3" cy="2146.1" r="7.0" fill="#5784db"/><circle cx="334.9" cy="2150.2" r="7.0" fill="#c957db"/><circle cx="393.9" cy="2158.0" r="7.0" fill="#c957db"/><circle cx="365.6" cy="2169.2" r="7.0" fill="#c957db"/><circle cx="438.4" cy="2186.0" r="7.0" fill="#c957db"/><circle cx="283.7" cy="2189.7" r="7.0" fill="#c957db"/><circle cx="297.6" cy="2208.2" r="7.0" fill="#c957db"/><circle cx="307.2" cy="2190.1" r="7.0" fill="#c957db"/><circle cx="311.3" cy="2197.3" r="7.0" fill="#5784db"/><circle cx="329.2" cy="2163.1" r="7.0" fill="#57db94"/><circle cx="412.8" cy="2209.6" r="7.0" fill="#57db94"/><circle cx="322.2" cy="2210.2" r="7.0" fill="#b9db57"/></g>
</g>
<line x1="73.0" y1="1586.9" x2="73.0" y2="2255.2" stroke="#858585" stroke-width="3.2"/><line x1="71.7" y1="1588.5" x2="1020.7" y2="1588.5" stroke="#3a3a3a" stroke-width="2.6"/><line x1="1019.4" y1="1587.2" x2="1019.4" y2="2254.8" stroke="#000" stroke-width="2.5"/><line x1="71.8" y1="2253.6" x2="1020.6" y2="2253.6" stroke="#000" stroke-width="2.5"/>
<g filter="url(#bt)"><line x1="65.6" y1="1650.1" x2="73.0" y2="1650.1" stroke="#2a2a2a" stroke-width="2"/><text class="t" transform="translate(54.8 1658.5) scale(1.01 1)" text-anchor="end">30</text><line x1="65.6" y1="1735.5" x2="73.0" y2="1735.5" stroke="#2a2a2a" stroke-width="2"/><text class="t" transform="translate(54.8 1743.9) scale(1.01 1)" text-anchor="end">20</text><line x1="65.6" y1="1820.8" x2="73.0" y2="1820.8" stroke="#2a2a2a" stroke-width="2"/><text class="t" transform="translate(54.8 1829.2) scale(1.01 1)" text-anchor="end">10</text><line x1="65.6" y1="1906.2" x2="73.0" y2="1906.2" stroke="#2a2a2a" stroke-width="2"/><text class="t" transform="translate(54.8 1914.6) scale(1.01 1)" text-anchor="end">0</text><line x1="65.6" y1="1991.6" x2="73.0" y2="1991.6" stroke="#2a2a2a" stroke-width="2"/><text class="t" transform="translate(54.8 2000.0) scale(1.01 1)" text-anchor="end">−10</text><line x1="65.6" y1="2076.9" x2="73.0" y2="2076.9" stroke="#2a2a2a" stroke-width="2"/><text class="t" transform="translate(54.8 2085.3) scale(1.01 1)" text-anchor="end">−20</text><line x1="65.6" y1="2162.3" x2="73.0" y2="2162.3" stroke="#2a2a2a" stroke-width="2"/><text class="t" transform="translate(54.8 2170.7) scale(1.01 1)" text-anchor="end">−30</text><line x1="65.6" y1="2247.6" x2="73.0" y2="2247.6" stroke="#2a2a2a" stroke-width="2"/><text class="t" transform="translate(54.8 2256.0) scale(1.01 1)" text-anchor="end">−40</text><line x1="147.9" y1="2253.6" x2="147.9" y2="2261.0" stroke="#2a2a2a" stroke-width="2"/><text class="t" transform="translate(147.9 2287.0) scale(1.01 1)" text-anchor="middle">−40</text><line x1="343.4" y1="2253.6" x2="343.4" y2="2261.0" stroke="#2a2a2a" stroke-width="2"/><text class="t" transform="translate(343.4 2287.0) scale(1.01 1)" text-anchor="middle">−20</text><line x1="538.9" y1="2253.6" x2="538.9" y2="2261.0" stroke="#2a2a2a" stroke-width="2"/><text class="t" transform="translate(538.9 2287.0) scale(1.01 1)" text-anchor="middle">0</text><line x1="734.4" y1="2253.6" x2="734.4" y2="2261.0" stroke="#2a2a2a" stroke-width="2"/><text class="t" transform="translate(734.4 2287.0) scale(1.01 1)" text-anchor="middle">20</text><line x1="929.9" y1="2253.6" x2="929.9" y2="2261.0" stroke="#2a2a2a" stroke-width="2"/><text class="t" transform="translate(929.9 2287.0) scale(1.01 1)" text-anchor="middle">40</text>
<rect x="905.0" y="1600.0" width="102.5" height="188.0" rx="4" fill="#fff" fill-opacity="0.8" stroke="#dadada" stroke-width="1.6"/><circle cx="940.6" cy="1623.1" r="9" fill="#db5f57"/><text class="t" transform="translate(989.8 1630.1) scale(1.01 1)" text-anchor="middle">0</text><circle cx="940.6" cy="1659.1" r="9" fill="#b9db57"/><text class="t" transform="translate(989.8 1666.1) scale(1.01 1)" text-anchor="middle">1</text><circle cx="940.6" cy="1695.2" r="9" fill="#57db94"/><text class="t" transform="translate(989.8 1702.2) scale(1.01 1)" text-anchor="middle">2</text><circle cx="940.6" cy="1731.3" r="9" fill="#5784db"/><text class="t" transform="translate(989.8 1738.3) scale(1.01 1)" text-anchor="middle">3</text><circle cx="940.6" cy="1767.4" r="9" fill="#c957db"/><text class="t" transform="translate(989.8 1774.4) scale(1.01 1)" text-anchor="middle">4</text>
</g>
<text class="c" x="290.0" y="2352.4" textLength="446.5" lengthAdjust="spacing">(c) After purification.</text>
</svg>
</body></html>
